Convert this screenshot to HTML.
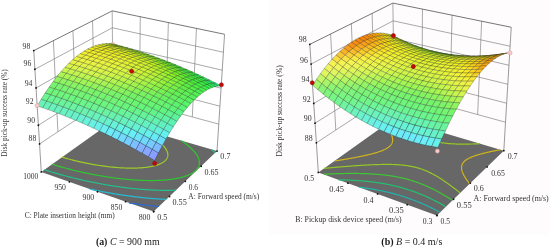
<!DOCTYPE html>
<html><head><meta charset="utf-8"><style>
html,body{margin:0;padding:0;background:#fff;}
body{width:550px;height:249px;overflow:hidden;position:relative;}
svg{position:absolute;left:0;top:0;}
text{font-family:"Liberation Serif",serif;fill:#333;}
</style></head><body>
<svg width="550" height="249" viewBox="0 0 550 249">
<rect x="268.6" y="0" width="281.4" height="234.6" fill="#fefcfd"/>
<g><line x1="39.54" y1="143.93" x2="112.98" y2="95.33" stroke="#707070" stroke-width="0.6"/>
<line x1="112.98" y1="95.33" x2="218.77" y2="124.14" stroke="#707070" stroke-width="0.6"/>
<line x1="38.38" y1="125.26" x2="112.82" y2="78.44" stroke="#707070" stroke-width="0.6"/>
<line x1="112.82" y1="78.44" x2="219.93" y2="106.16" stroke="#707070" stroke-width="0.6"/>
<line x1="37.23" y1="106.60" x2="112.66" y2="61.55" stroke="#707070" stroke-width="0.6"/>
<line x1="112.66" y1="61.55" x2="221.08" y2="88.18" stroke="#707070" stroke-width="0.6"/>
<line x1="36.07" y1="87.94" x2="112.50" y2="44.66" stroke="#707070" stroke-width="0.6"/>
<line x1="112.50" y1="44.66" x2="222.24" y2="70.20" stroke="#707070" stroke-width="0.6"/>
<line x1="34.92" y1="69.27" x2="112.34" y2="27.78" stroke="#707070" stroke-width="0.6"/>
<line x1="112.34" y1="27.78" x2="223.40" y2="52.22" stroke="#707070" stroke-width="0.6"/>
<line x1="57.90" y1="131.78" x2="53.36" y2="40.68" stroke="#707070" stroke-width="0.6"/>
<line x1="192.32" y1="116.94" x2="196.46" y2="28.41" stroke="#707070" stroke-width="0.6"/>
<line x1="76.26" y1="119.63" x2="72.97" y2="30.75" stroke="#707070" stroke-width="0.6"/>
<line x1="165.87" y1="109.74" x2="168.36" y2="22.57" stroke="#707070" stroke-width="0.6"/>
<line x1="94.62" y1="107.48" x2="92.57" y2="20.82" stroke="#707070" stroke-width="0.6"/>
<line x1="139.43" y1="102.53" x2="140.27" y2="16.73" stroke="#707070" stroke-width="0.6"/>
<line x1="33.76" y1="50.61" x2="112.18" y2="10.89" stroke="#4a4a4a" stroke-width="0.75"/>
<line x1="112.18" y1="10.89" x2="224.55" y2="34.25" stroke="#4a4a4a" stroke-width="0.75"/>
<line x1="113.22" y1="120.66" x2="112.18" y2="10.89" stroke="#707070" stroke-width="0.6"/>
<line x1="217.03" y1="151.11" x2="224.55" y2="34.25" stroke="#707070" stroke-width="0.7"/>
<line x1="41.27" y1="171.92" x2="33.76" y2="50.61" stroke="#707070" stroke-width="0.7"/>
<polygon points="153.65,211.61 217.03,151.11 113.22,120.66 41.27,171.92" fill="#676767"/>
<polyline points="159.00,206.50 157.73,206.39 157.10,206.33 156.20,206.25 155.21,206.15 154.58,206.09 153.33,205.96 152.70,205.90 151.55,205.78 150.83,205.71 149.96,205.61 148.97,205.50 148.34,205.44 147.12,205.30 146.50,205.23 145.27,205.08 144.66,205.01 143.44,204.86 142.83,204.79 141.67,204.65 141.00,204.56 139.94,204.43 139.19,204.33 138.19,204.20 137.38,204.09 136.42,203.96 135.58,203.85 134.61,203.72 133.78,203.60 132.78,203.46 132.00,203.35 130.92,203.19 130.22,203.09 129.04,202.92" fill="none" stroke="#2a6ad8" stroke-width="1.2"/>
<polyline points="166.42,199.42 165.77,199.39 164.80,199.34 163.82,199.29 163.17,199.26 162.22,199.21 161.24,199.15 160.59,199.12 159.58,199.05 158.67,198.99 158.04,198.95 156.87,198.87 156.13,198.82 155.49,198.77 154.24,198.68 153.61,198.63 152.67,198.56 151.73,198.48 151.10,198.43 149.86,198.32 149.24,198.26 148.31,198.18 147.38,198.09 146.76,198.04 145.53,197.92 144.92,197.86 143.76,197.74 143.08,197.67 142.20,197.58 141.26,197.47 140.62,197.41 139.44,197.27 138.84,197.21 137.63,197.07 137.03,197.00 135.83,196.85 135.24,196.78 134.05,196.64 133.45,196.56 132.34,196.42 131.67,196.33 130.61,196.19 129.90,196.10 128.84,195.96 128.14,195.86 127.05,195.71 126.39,195.62 125.22,195.45 124.64,195.37 123.48,195.20 122.91,195.11 121.75,194.94 121.18,194.85 120.03,194.68 119.46,194.59 118.32,194.41 117.57,194.29 116.61,194.14 115.57,193.97 114.91,193.86 113.78,193.67 113.22,193.58 112.10,193.39 111.42,193.27 110.42,193.10 109.31,192.90 108.75,192.80 107.64,192.61 107.09,192.51 105.99,192.31 104.89,192.10 104.34,192.00 103.24,191.80 102.54,191.66 101.61,191.48 100.52,191.27 99.98,191.17 98.90,190.96 97.82,190.74 97.28,190.64 96.20,190.42 95.22,190.22 94.60,190.09 93.54,189.87 92.63,189.68 91.94,189.54 90.89,189.31 89.95,189.11" fill="none" stroke="#22bcd4" stroke-width="1.2"/>
<polyline points="176.14,190.14 175.38,190.17 174.43,190.21 173.46,190.25 172.66,190.27 171.97,190.29 171.28,190.31 170.48,190.32 169.47,190.34 168.55,190.36 167.87,190.36 167.20,190.37 166.34,190.37 165.27,190.37 164.52,190.37 163.85,190.36 163.08,190.36 161.97,190.34 161.21,190.33 160.56,190.32 159.70,190.30 158.60,190.27 157.95,190.25 157.30,190.23 156.18,190.20 155.37,190.17 154.73,190.14 153.75,190.10 152.81,190.06 152.18,190.03 151.25,189.98 150.28,189.93 149.65,189.89 148.68,189.84 147.77,189.78 147.15,189.74 146.04,189.67 145.28,189.61 144.66,189.57 143.43,189.48 142.82,189.43 141.93,189.36 140.98,189.28 140.37,189.23 139.15,189.13 138.55,189.07 137.63,188.99 136.74,188.90 136.13,188.85 134.94,188.73 134.34,188.67 133.15,188.54 132.55,188.48 131.57,188.38 130.78,188.29 129.99,188.20 129.01,188.09 128.38,188.01 127.25,187.88 126.67,187.81 125.51,187.67 124.93,187.59 123.77,187.45 123.19,187.37 122.04,187.22 121.47,187.14 120.32,186.99 119.75,186.91 118.62,186.75 118.05,186.67 116.92,186.50 116.23,186.40 115.22,186.25 114.35,186.12 113.54,186.00 112.43,185.82 111.87,185.74 110.76,185.56 110.20,185.47 109.10,185.29 108.44,185.18 107.45,185.01 106.37,184.83 105.81,184.73 104.72,184.54 104.17,184.45 103.09,184.26 102.06,184.07 101.47,183.96 100.39,183.77 99.82,183.66 98.79,183.47 97.72,183.26 97.19,183.16 96.13,182.96 95.10,182.76 94.55,182.65 93.49,182.44 92.62,182.26 91.92,182.12 90.88,181.90 90.04,181.73 89.32,181.58 88.29,181.36 87.36,181.16 86.74,181.03 85.72,180.81 84.70,180.58 84.19,180.47 83.17,180.24 82.16,180.01 81.60,179.89 80.64,179.67 79.64,179.44 78.63,179.20 78.14,179.08 77.14,178.85 76.15,178.61 75.18,178.38 74.66,178.25 73.68,178.01 72.70,177.77 71.72,177.52 71.23,177.40 70.26,177.15 69.29,176.91 68.32,176.66 67.73,176.50 66.88,176.28 65.92,176.03 64.96,175.77 64.01,175.52 63.42,175.36 62.59,175.13 61.65,174.88 60.71,174.62 59.77,174.36 58.84,174.09 58.37,173.96 57.44,173.70 56.52,173.43 55.60,173.17 54.68,172.90 53.76,172.63 52.85,172.36 52.39,172.22 51.49,171.95 50.58,171.68 49.68,171.40 48.78,171.13 47.89,170.85 47.00,170.57 46.11,170.30 45.23,170.02 44.34,169.73" fill="none" stroke="#20c28a" stroke-width="1.2"/>
<polyline points="211.48,149.48 211.98,149.92 212.40,150.29 212.72,150.57 213.03,150.85 213.41,151.20 213.86,151.62 214.26,152.00 214.57,152.30 214.87,152.59 215.17,152.89" fill="none" stroke="#20c28a" stroke-width="1.2"/>
<polyline points="181.45,140.68 181.82,140.92 182.18,141.17 182.81,141.61 183.14,141.84 183.57,142.14 184.13,142.54 184.45,142.78 184.88,143.09 185.43,143.49 185.75,143.74 186.12,144.02 186.71,144.48 187.02,144.73 187.34,144.98 187.84,145.38 188.28,145.74 188.59,146.00 188.90,146.27 189.41,146.70 189.81,147.06 190.11,147.33 190.41,147.60 190.83,147.99 191.28,148.41 191.60,148.71 191.89,149.00 192.17,149.29 192.54,149.65 192.93,150.06 193.30,150.46 193.58,150.77 193.85,151.07 194.12,151.38 194.39,151.69 194.69,152.04 195.00,152.43 195.30,152.82 195.60,153.20 195.87,153.58 196.14,153.95 196.40,154.33 196.64,154.69 196.87,155.05 197.09,155.41 197.31,155.78 197.51,156.15 197.70,156.50 197.88,156.86 198.05,157.21 198.21,157.56 198.36,157.90 198.49,158.24 198.62,158.59 198.77,159.03 198.91,159.48 199.04,159.92 199.11,160.25 199.18,160.57 199.25,160.92 199.32,161.44 199.36,161.85 199.38,162.16 199.40,162.55 199.39,163.09 199.37,163.39 199.34,163.79 199.27,164.29 199.22,164.58 199.09,165.16 199.01,165.45 198.82,166.02 198.72,166.30 198.48,166.85 198.34,167.14 198.05,167.66 197.72,168.19 197.45,168.58 197.17,168.97 196.75,169.48 196.30,169.97 195.81,170.46 195.29,170.94 194.74,171.41 194.14,171.86 193.58,172.27 193.19,172.53 192.51,172.97 191.79,173.39 191.42,173.60 190.65,174.01 190.25,174.21 189.43,174.60 188.97,174.81 188.12,175.17 187.67,175.36 186.73,175.72 186.25,175.90 185.66,176.11 184.75,176.41 184.23,176.58 183.68,176.75 182.74,177.02 182.06,177.21 181.49,177.36 180.91,177.51 180.04,177.72 179.18,177.92 178.49,178.07 177.86,178.21 177.22,178.34 176.57,178.46 175.84,178.60 175.04,178.74 174.24,178.88 173.45,179.00 172.67,179.12 171.90,179.23 171.13,179.34 170.37,179.44 169.61,179.53 168.87,179.62 168.12,179.70 167.38,179.78 166.65,179.85 165.92,179.92 165.20,179.98 164.48,180.04 163.77,180.10 162.96,180.15 162.09,180.21 161.21,180.27 160.31,180.32 159.56,180.35 158.87,180.38 158.18,180.41 157.50,180.44 156.59,180.47 155.62,180.50 154.79,180.52 154.13,180.53 153.46,180.54 152.64,180.55 151.61,180.56 150.82,180.56 150.17,180.56 149.51,180.55 148.44,180.55 147.57,180.53 146.93,180.52 146.24,180.51 145.11,180.49 144.38,180.47 143.74,180.45 142.81,180.42 141.86,180.38 141.23,180.36 140.43,180.32 139.37,180.27 138.75,180.24 137.97,180.20 136.90,180.14 136.29,180.10 135.43,180.05 134.46,179.99 133.86,179.95 132.80,179.87 132.05,179.82 131.45,179.77 130.26,179.67 129.66,179.62 128.67,179.54 127.89,179.47 127.24,179.41 126.12,179.31 125.54,179.25 124.37,179.13 123.79,179.07 122.79,178.97 122.05,178.89 121.25,178.80 120.33,178.70 119.67,178.62 118.62,178.50 118.05,178.43 116.91,178.29 116.35,178.22 115.22,178.07 114.66,178.00 113.54,177.85 112.98,177.77 111.87,177.62 111.23,177.53 110.21,177.39 109.42,177.27 108.56,177.14 107.56,176.99 106.92,176.89 105.84,176.72 105.29,176.64 104.21,176.47 103.67,176.38 102.60,176.20 101.65,176.04 100.99,175.93 99.93,175.75 99.40,175.66 98.34,175.47 97.38,175.30 96.76,175.18 95.71,174.99 95.13,174.88 94.15,174.70 93.11,174.50 92.60,174.40 91.56,174.20 90.54,173.99 90.02,173.89 89.00,173.68 87.98,173.48 87.48,173.37 86.46,173.16 85.45,172.95 84.95,172.84 83.95,172.62 82.95,172.40 82.26,172.25 81.46,172.07 80.47,171.85 79.48,171.62 78.99,171.51 78.01,171.28 77.04,171.05 76.06,170.82 75.58,170.70 74.61,170.47 73.65,170.23 72.69,170.00 72.21,169.88 71.25,169.64 70.30,169.40 69.36,169.15 68.41,168.91 67.94,168.79 67.00,168.54 66.07,168.29 65.14,168.04 64.21,167.79 63.75,167.66 62.83,167.41 61.91,167.15 61.00,166.90 60.09,166.64 59.18,166.38 58.27,166.12 57.82,165.98 56.93,165.72 56.03,165.46 55.14,165.19 54.25,164.92 53.37,164.65 52.49,164.38" fill="none" stroke="#2ec82e" stroke-width="1.2"/>
<polyline points="123.64,123.72 124.08,123.88 124.84,124.16 125.60,124.44 126.36,124.72 127.03,124.98 127.49,125.16 128.24,125.45 128.99,125.74 129.74,126.04 130.11,126.19 130.86,126.49 131.60,126.79 132.23,127.05 132.71,127.25 133.45,127.56 134.19,127.87 134.55,128.03 135.29,128.35 136.02,128.67 136.38,128.83 137.11,129.15 137.84,129.48 138.20,129.64 138.92,129.98 139.65,130.31 140.01,130.48 140.72,130.82 141.20,131.05 141.79,131.34 142.50,131.69 142.86,131.87 143.57,132.22 143.94,132.41 144.62,132.76 145.19,133.06 145.67,133.31 146.37,133.68 146.71,133.87 147.40,134.25 147.75,134.44 148.44,134.82 148.78,135.02 149.46,135.41 149.80,135.60 150.47,136.00 150.81,136.20 151.43,136.58 151.81,136.81 152.31,137.12 152.81,137.43 153.15,137.65 153.79,138.07 154.12,138.28 154.71,138.68 155.09,138.94 155.45,139.18 156.04,139.60 156.36,139.83 156.82,140.16 157.30,140.51 157.61,140.75 158.09,141.11 158.53,141.46 158.84,141.70 159.25,142.03 159.74,142.43 160.03,142.68 160.33,142.93 160.81,143.36 161.20,143.70 161.48,143.96 161.76,144.23 162.19,144.64 162.59,145.04 162.86,145.32 163.13,145.60 163.39,145.88 163.74,146.27 164.09,146.66 164.41,147.05 164.66,147.36 164.90,147.66 165.13,147.98 165.37,148.30 165.59,148.62 165.81,148.95 166.04,149.31 166.26,149.67 166.46,150.03 166.65,150.38 166.82,150.73 166.98,151.08 167.14,151.45 167.29,151.85 167.43,152.26 167.55,152.68 167.65,153.08 167.72,153.40 167.77,153.72 167.81,154.04 167.85,154.53 167.86,154.95 167.85,155.26 167.82,155.62 167.75,156.14 167.70,156.43 167.57,156.91 167.46,157.27 167.30,157.69 167.12,158.09 166.83,158.62 166.67,158.88 166.32,159.39 165.92,159.88 165.53,160.32 165.24,160.61 164.73,161.07 164.18,161.53 163.88,161.75 163.26,162.18 162.59,162.60 161.88,163.01 161.50,163.21 160.72,163.60 160.26,163.81 159.46,164.16 159.02,164.34 158.10,164.68 157.62,164.85 156.89,165.10 156.11,165.34 155.59,165.49 154.97,165.66 154.06,165.90 153.36,166.07 152.77,166.21 152.16,166.34 151.49,166.48 150.67,166.64 149.87,166.78 149.08,166.91 148.30,167.04 147.57,167.14 146.86,167.24 146.14,167.34 145.40,167.43 144.64,167.51 143.87,167.59 143.12,167.66 142.41,167.72 141.71,167.78 141.01,167.83 140.32,167.88 139.64,167.92 138.93,167.96 138.04,168.01 137.14,168.05 136.27,168.08 135.61,168.10 134.96,168.11 134.31,168.13 133.36,168.14 132.37,168.15 131.73,168.15 131.10,168.15 130.32,168.15 129.26,168.13 128.59,168.12 127.97,168.11 127.09,168.09 126.12,168.06 125.51,168.04 124.81,168.01 123.70,167.96 123.10,167.93 122.44,167.90 121.31,167.84 120.72,167.80 119.96,167.75 118.95,167.69 118.37,167.64 117.36,167.57 116.63,167.51 116.01,167.46 114.91,167.36 114.34,167.31 113.22,167.21 112.64,167.15 111.76,167.06 110.95,166.98 110.26,166.90 109.28,166.79 108.72,166.73 107.63,166.60 107.08,166.53 105.98,166.40 105.44,166.33 104.35,166.19 103.81,166.11 102.74,165.96 102.07,165.87 101.14,165.74 100.27,165.61 99.55,165.50 98.49,165.34 97.97,165.25 96.92,165.09 96.40,165.00 95.36,164.83 94.39,164.66 93.82,164.56 92.79,164.38 92.25,164.29 91.26,164.11 90.25,163.92 89.75,163.83 88.74,163.63 87.74,163.44 87.24,163.34 86.25,163.14 85.26,162.94 84.77,162.84 83.79,162.63 82.81,162.43 82.32,162.32 81.35,162.11 80.39,161.90 79.43,161.68 78.95,161.57 77.99,161.35 77.04,161.13 76.10,160.90 75.63,160.79 74.69,160.56 73.75,160.33 72.82,160.10 72.24,159.95 71.44,159.75 70.52,159.51 69.61,159.27 68.70,159.03 67.79,158.78 67.34,158.66 66.44,158.41 65.54,158.17 64.65,157.91 63.77,157.66 62.88,157.41 62.01,157.15" fill="none" stroke="#9ccc28" stroke-width="1.2"/>
<circle cx="153.65" cy="211.61" r="0.9" fill="#111"/>
<circle cx="153.65" cy="211.61" r="0.9" fill="#111"/>
<circle cx="125.55" cy="201.69" r="0.9" fill="#111"/>
<circle cx="169.49" cy="196.48" r="0.9" fill="#111"/>
<circle cx="97.46" cy="191.76" r="0.9" fill="#111"/>
<circle cx="185.34" cy="181.36" r="0.9" fill="#111"/>
<circle cx="69.37" cy="181.84" r="0.9" fill="#111"/>
<circle cx="201.19" cy="166.24" r="0.9" fill="#111"/>
<circle cx="41.27" cy="171.92" r="0.9" fill="#111"/>
<circle cx="217.03" cy="151.11" r="0.9" fill="#111"/>
<circle cx="39.54" cy="143.93" r="0.9" fill="#111"/>
<circle cx="38.38" cy="125.26" r="0.9" fill="#111"/>
<circle cx="37.23" cy="106.60" r="0.9" fill="#111"/>
<circle cx="36.07" cy="87.94" r="0.9" fill="#111"/>
<circle cx="34.92" cy="69.27" r="0.9" fill="#111"/>
<circle cx="33.76" cy="50.61" r="0.9" fill="#111"/>
<circle cx="112.90" cy="44.60" r="2.0" fill="#f6cccc" stroke="#d89a9a" stroke-width="0.5"/>
<polygon points="154.67,160.42 158.51,152.83 152.20,149.19 148.35,156.73" fill="#8a9eff" stroke="#000" stroke-opacity="0.5" stroke-width="0.45"/>
<polygon points="148.35,156.73 152.20,149.19 145.93,145.66 142.07,153.15" fill="#88a7ff" stroke="#000" stroke-opacity="0.5" stroke-width="0.45"/>
<polygon points="158.51,152.83 162.30,145.67 156.01,142.08 152.20,149.19" fill="#7ebaff" stroke="#000" stroke-opacity="0.5" stroke-width="0.45"/>
<polygon points="142.07,153.15 145.93,145.66 139.71,142.23 135.83,149.67" fill="#84b1ff" stroke="#000" stroke-opacity="0.5" stroke-width="0.45"/>
<polygon points="152.20,149.19 156.01,142.08 149.76,138.59 145.93,145.66" fill="#76caff" stroke="#000" stroke-opacity="0.5" stroke-width="0.45"/>
<polygon points="162.30,145.67 166.05,138.93 159.77,135.38 156.01,142.08" fill="#6cdcfc" stroke="#000" stroke-opacity="0.5" stroke-width="0.45"/>
<polygon points="135.83,149.67 139.71,142.23 133.54,138.90 129.65,146.30" fill="#7dbfff" stroke="#000" stroke-opacity="0.5" stroke-width="0.45"/>
<polygon points="145.93,145.66 149.76,138.59 143.55,135.20 139.71,142.23" fill="#70d7fd" stroke="#000" stroke-opacity="0.5" stroke-width="0.45"/>
<polygon points="156.01,142.08 159.77,135.38 153.54,131.94 149.76,138.59" fill="#68e9f8" stroke="#000" stroke-opacity="0.5" stroke-width="0.45"/>
<polygon points="166.05,138.93 169.75,132.61 163.49,129.11 159.77,135.38" fill="#63efec" stroke="#000" stroke-opacity="0.5" stroke-width="0.45"/>
<polygon points="129.65,146.30 133.54,138.90 127.41,135.68 123.50,143.03" fill="#77cdff" stroke="#000" stroke-opacity="0.5" stroke-width="0.45"/>
<polygon points="139.71,142.23 143.55,135.20 137.39,131.92 133.54,138.90" fill="#6de3fa" stroke="#000" stroke-opacity="0.5" stroke-width="0.45"/>
<polygon points="149.76,138.59 153.54,131.94 147.35,128.59 143.55,135.20" fill="#66efef" stroke="#000" stroke-opacity="0.5" stroke-width="0.45"/>
<polygon points="159.77,135.38 163.49,129.11 157.28,125.70 153.54,131.94" fill="#63f0dd" stroke="#000" stroke-opacity="0.5" stroke-width="0.45"/>
<polygon points="123.50,143.03 127.41,135.68 121.32,132.55 117.41,139.86" fill="#72d8fd" stroke="#000" stroke-opacity="0.5" stroke-width="0.45"/>
<polygon points="133.54,138.90 137.39,131.92 131.27,128.74 127.41,135.68" fill="#69eef7" stroke="#000" stroke-opacity="0.5" stroke-width="0.45"/>
<polygon points="169.75,132.61 173.40,126.71 167.17,123.25 163.49,129.11" fill="#5ff0ce" stroke="#000" stroke-opacity="0.5" stroke-width="0.45"/>
<polygon points="143.55,135.20 147.35,128.59 141.21,125.36 137.39,131.92" fill="#66f0e2" stroke="#000" stroke-opacity="0.5" stroke-width="0.45"/>
<polygon points="153.54,131.94 157.28,125.70 151.11,122.41 147.35,128.59" fill="#63f0cf" stroke="#000" stroke-opacity="0.5" stroke-width="0.45"/>
<polygon points="117.41,139.86 121.32,132.55 115.29,129.53 111.36,136.80" fill="#6fe1fa" stroke="#000" stroke-opacity="0.5" stroke-width="0.45"/>
<polygon points="127.41,135.68 131.27,128.74 125.20,125.66 121.32,132.55" fill="#68f0ec" stroke="#000" stroke-opacity="0.5" stroke-width="0.45"/>
<polygon points="163.49,129.11 167.17,123.25 160.97,119.89 157.28,125.70" fill="#60f1bf" stroke="#000" stroke-opacity="0.5" stroke-width="0.45"/>
<polygon points="137.39,131.92 141.21,125.36 135.10,122.22 131.27,128.74" fill="#66f0d5" stroke="#000" stroke-opacity="0.5" stroke-width="0.45"/>
<polygon points="173.40,126.71 177.00,121.23 170.79,117.81 167.17,123.25" fill="#5df1b4" stroke="#000" stroke-opacity="0.5" stroke-width="0.45"/>
<polygon points="147.35,128.59 151.11,122.41 144.98,119.21 141.21,125.36" fill="#63f1c2" stroke="#000" stroke-opacity="0.5" stroke-width="0.45"/>
<polygon points="111.36,136.80 115.29,129.53 109.30,126.61 105.36,133.83" fill="#6cebf8" stroke="#000" stroke-opacity="0.5" stroke-width="0.45"/>
<polygon points="157.28,125.70 160.97,119.89 154.82,116.63 151.11,122.41" fill="#61f2b2" stroke="#000" stroke-opacity="0.5" stroke-width="0.45"/>
<polygon points="121.32,132.55 125.20,125.66 119.18,122.68 115.29,129.53" fill="#68f0e1" stroke="#000" stroke-opacity="0.5" stroke-width="0.45"/>
<polygon points="131.27,128.74 135.10,122.22 129.05,119.18 125.20,125.66" fill="#65f1c9" stroke="#000" stroke-opacity="0.5" stroke-width="0.45"/>
<polygon points="167.17,123.25 170.79,117.81 164.61,114.49 160.97,119.89" fill="#5ff2a6" stroke="#000" stroke-opacity="0.5" stroke-width="0.45"/>
<polygon points="141.21,125.36 144.98,119.21 138.89,116.12 135.10,122.22" fill="#64f2b6" stroke="#000" stroke-opacity="0.5" stroke-width="0.45"/>
<polygon points="105.36,133.83 109.30,126.61 103.35,123.79 99.41,130.97" fill="#6aeff2" stroke="#000" stroke-opacity="0.5" stroke-width="0.45"/>
<polygon points="151.11,122.41 154.82,116.63 148.71,113.48 144.98,119.21" fill="#63f3a6" stroke="#000" stroke-opacity="0.5" stroke-width="0.45"/>
<polygon points="115.29,129.53 119.18,122.68 113.20,119.81 109.30,126.61" fill="#68f1d7" stroke="#000" stroke-opacity="0.5" stroke-width="0.45"/>
<polygon points="177.00,121.23 180.55,116.16 174.36,112.78 170.79,117.81" fill="#5cf29c" stroke="#000" stroke-opacity="0.5" stroke-width="0.45"/>
<polygon points="125.20,125.66 129.05,119.18 123.04,116.25 119.18,122.68" fill="#66f2bf" stroke="#000" stroke-opacity="0.5" stroke-width="0.45"/>
<polygon points="160.97,119.89 164.61,114.49 158.48,111.28 154.82,116.63" fill="#61f398" stroke="#000" stroke-opacity="0.5" stroke-width="0.45"/>
<polygon points="135.10,122.22 138.89,116.12 132.86,113.12 129.05,119.18" fill="#66f3ab" stroke="#000" stroke-opacity="0.5" stroke-width="0.45"/>
<polygon points="99.41,130.97 103.35,123.79 97.46,121.07 93.50,128.21" fill="#6af0e9" stroke="#000" stroke-opacity="0.5" stroke-width="0.45"/>
<polygon points="144.98,119.21 148.71,113.48 142.64,110.43 138.89,116.12" fill="#64f399" stroke="#000" stroke-opacity="0.5" stroke-width="0.45"/>
<polygon points="170.79,117.81 174.36,112.78 168.21,109.50 164.61,114.49" fill="#5ef38e" stroke="#000" stroke-opacity="0.5" stroke-width="0.45"/>
<polygon points="109.30,126.61 113.20,119.81 107.27,117.03 103.35,123.79" fill="#68f1cd" stroke="#000" stroke-opacity="0.5" stroke-width="0.45"/>
<polygon points="119.18,122.68 123.04,116.25 117.07,113.41 113.20,119.81" fill="#67f2b5" stroke="#000" stroke-opacity="0.5" stroke-width="0.45"/>
<polygon points="154.82,116.63 158.48,111.28 152.39,108.16 148.71,113.48" fill="#62f48b" stroke="#000" stroke-opacity="0.5" stroke-width="0.45"/>
<polygon points="129.05,119.18 132.86,113.12 126.86,110.23 123.04,116.25" fill="#67f3a0" stroke="#000" stroke-opacity="0.5" stroke-width="0.45"/>
<polygon points="180.55,116.16 184.04,111.50 177.88,108.16 174.36,112.78" fill="#5af386" stroke="#000" stroke-opacity="0.5" stroke-width="0.45"/>
<polygon points="138.89,116.12 142.64,110.43 136.62,107.47 132.86,113.12" fill="#66f48e" stroke="#000" stroke-opacity="0.5" stroke-width="0.45"/>
<polygon points="164.61,114.49 168.21,109.50 162.10,106.33 158.48,111.28" fill="#60f480" stroke="#000" stroke-opacity="0.5" stroke-width="0.45"/>
<polygon points="93.50,128.21 97.46,121.07 91.61,118.45 87.64,125.54" fill="#6af0e1" stroke="#000" stroke-opacity="0.5" stroke-width="0.45"/>
<polygon points="103.35,123.79 107.27,117.03 101.39,114.35 97.46,121.07" fill="#68f1c4" stroke="#000" stroke-opacity="0.5" stroke-width="0.45"/>
<polygon points="113.20,119.81 117.07,113.41 111.16,110.68 107.27,117.03" fill="#68f3ac" stroke="#000" stroke-opacity="0.5" stroke-width="0.45"/>
<polygon points="148.71,113.48 152.39,108.16 146.35,105.15 142.64,110.43" fill="#64f57f" stroke="#000" stroke-opacity="0.5" stroke-width="0.45"/>
<polygon points="174.36,112.78 177.88,108.16 171.75,104.93 168.21,109.50" fill="#5cf477" stroke="#000" stroke-opacity="0.5" stroke-width="0.45"/>
<polygon points="123.04,116.25 126.86,110.23 120.91,107.43 117.07,113.41" fill="#68f496" stroke="#000" stroke-opacity="0.5" stroke-width="0.45"/>
<polygon points="158.48,111.28 162.10,106.33 156.03,103.25 152.39,108.16" fill="#62f575" stroke="#000" stroke-opacity="0.5" stroke-width="0.45"/>
<polygon points="132.86,113.12 136.62,107.47 130.64,104.62 126.86,110.23" fill="#67f583" stroke="#000" stroke-opacity="0.5" stroke-width="0.45"/>
<polygon points="87.64,125.54 91.61,118.45 85.81,115.93 81.84,122.97" fill="#6af1d9" stroke="#000" stroke-opacity="0.5" stroke-width="0.45"/>
<polygon points="97.46,121.07 101.39,114.35 95.55,111.77 91.61,118.45" fill="#68f2bc" stroke="#000" stroke-opacity="0.5" stroke-width="0.45"/>
<polygon points="184.04,111.50 187.48,107.25 181.34,103.95 177.88,108.16" fill="#58f473" stroke="#000" stroke-opacity="0.5" stroke-width="0.45"/>
<polygon points="107.27,117.03 111.16,110.68 105.28,108.04 101.39,114.35" fill="#69f3a3" stroke="#000" stroke-opacity="0.5" stroke-width="0.45"/>
<polygon points="142.64,110.43 146.35,105.15 140.34,102.23 136.62,107.47" fill="#67f577" stroke="#000" stroke-opacity="0.5" stroke-width="0.45"/>
<polygon points="168.21,109.50 171.75,104.93 165.66,101.79 162.10,106.33" fill="#61f470" stroke="#000" stroke-opacity="0.5" stroke-width="0.45"/>
<polygon points="117.07,113.41 120.91,107.43 115.01,104.74 111.16,110.68" fill="#69f58d" stroke="#000" stroke-opacity="0.5" stroke-width="0.45"/>
<polygon points="152.39,108.16 156.03,103.25 150.01,100.28 146.35,105.15" fill="#67f471" stroke="#000" stroke-opacity="0.5" stroke-width="0.45"/>
<polygon points="126.86,110.23 130.64,104.62 124.71,101.86 120.91,107.43" fill="#69f57b" stroke="#000" stroke-opacity="0.5" stroke-width="0.45"/>
<polygon points="81.84,122.97 85.81,115.93 80.06,113.50 76.08,120.51" fill="#69f1d2" stroke="#000" stroke-opacity="0.5" stroke-width="0.45"/>
<polygon points="177.88,108.16 181.34,103.95 175.24,100.75 171.75,104.93" fill="#5df46b" stroke="#000" stroke-opacity="0.5" stroke-width="0.45"/>
<polygon points="91.61,118.45 95.55,111.77 89.76,109.29 85.81,115.93" fill="#69f2b5" stroke="#000" stroke-opacity="0.5" stroke-width="0.45"/>
<polygon points="136.62,107.47 140.34,102.23 134.39,99.42 130.64,104.62" fill="#6bf474" stroke="#000" stroke-opacity="0.5" stroke-width="0.45"/>
<polygon points="101.39,114.35 105.28,108.04 99.46,105.50 95.55,111.77" fill="#6af49c" stroke="#000" stroke-opacity="0.5" stroke-width="0.45"/>
<polygon points="162.10,106.33 165.66,101.79 159.62,98.75 156.03,103.25" fill="#66f46b" stroke="#000" stroke-opacity="0.5" stroke-width="0.45"/>
<polygon points="111.16,110.68 115.01,104.74 109.15,102.14 105.28,108.04" fill="#6af584" stroke="#000" stroke-opacity="0.5" stroke-width="0.45"/>
<polygon points="146.35,105.15 150.01,100.28 144.02,97.40 140.34,102.23" fill="#6cf46d" stroke="#000" stroke-opacity="0.5" stroke-width="0.45"/>
<polygon points="187.48,107.25 190.86,103.41 184.75,100.14 181.34,103.95" fill="#57f468" stroke="#000" stroke-opacity="0.5" stroke-width="0.45"/>
<polygon points="120.91,107.43 124.71,101.86 118.82,99.21 115.01,104.74" fill="#6cf578" stroke="#000" stroke-opacity="0.5" stroke-width="0.45"/>
<polygon points="171.75,104.93 175.24,100.75 169.18,97.65 165.66,101.79" fill="#62f366" stroke="#000" stroke-opacity="0.5" stroke-width="0.45"/>
<polygon points="76.08,120.51 80.06,113.50 74.36,111.17 70.37,118.13" fill="#69f1cc" stroke="#000" stroke-opacity="0.5" stroke-width="0.45"/>
<polygon points="85.81,115.93 89.76,109.29 84.02,106.91 80.06,113.50" fill="#6af3af" stroke="#000" stroke-opacity="0.5" stroke-width="0.45"/>
<polygon points="130.64,104.62 134.39,99.42 128.47,96.70 124.71,101.86" fill="#6ff470" stroke="#000" stroke-opacity="0.5" stroke-width="0.45"/>
<polygon points="156.03,103.25 159.62,98.75 153.62,95.81 150.01,100.28" fill="#6bf367" stroke="#000" stroke-opacity="0.5" stroke-width="0.45"/>
<polygon points="95.55,111.77 99.46,105.50 93.69,103.06 89.76,109.29" fill="#6af494" stroke="#000" stroke-opacity="0.5" stroke-width="0.45"/>
<polygon points="105.28,108.04 109.15,102.14 103.34,99.64 99.46,105.50" fill="#6bf67e" stroke="#000" stroke-opacity="0.5" stroke-width="0.45"/>
<polygon points="140.34,102.23 144.02,97.40 138.08,94.62 134.39,99.42" fill="#70f369" stroke="#000" stroke-opacity="0.5" stroke-width="0.45"/>
<polygon points="181.34,103.95 184.75,100.14 178.67,96.98 175.24,100.75" fill="#5df363" stroke="#000" stroke-opacity="0.5" stroke-width="0.45"/>
<polygon points="115.01,104.74 118.82,99.21 112.98,96.65 109.15,102.14" fill="#6ff475" stroke="#000" stroke-opacity="0.5" stroke-width="0.45"/>
<polygon points="165.66,101.79 169.18,97.65 163.16,94.65 159.62,98.75" fill="#68f262" stroke="#000" stroke-opacity="0.5" stroke-width="0.45"/>
<polygon points="70.37,118.13 74.36,111.17 68.71,108.94 64.71,115.86" fill="#69f1c6" stroke="#000" stroke-opacity="0.5" stroke-width="0.45"/>
<polygon points="124.71,101.86 128.47,96.70 122.60,94.08 118.82,99.21" fill="#72f36d" stroke="#000" stroke-opacity="0.5" stroke-width="0.45"/>
<polygon points="80.06,113.50 84.02,106.91 78.33,104.62 74.36,111.17" fill="#6af3a9" stroke="#000" stroke-opacity="0.5" stroke-width="0.45"/>
<polygon points="150.01,100.28 153.62,95.81 147.66,92.98 144.02,97.40" fill="#6ff263" stroke="#000" stroke-opacity="0.5" stroke-width="0.45"/>
<polygon points="89.76,109.29 93.69,103.06 87.96,100.72 84.02,106.91" fill="#6bf58e" stroke="#000" stroke-opacity="0.5" stroke-width="0.45"/>
<polygon points="190.86,103.41 194.18,99.96 188.09,96.73 184.75,100.14" fill="#56f360" stroke="#000" stroke-opacity="0.5" stroke-width="0.45"/>
<polygon points="99.46,105.50 103.34,99.64 97.58,97.24 93.69,103.06" fill="#6ef57b" stroke="#000" stroke-opacity="0.5" stroke-width="0.45"/>
<polygon points="175.24,100.75 178.67,96.98 172.64,93.92 169.18,97.65" fill="#63f25e" stroke="#000" stroke-opacity="0.5" stroke-width="0.45"/>
<polygon points="134.39,99.42 138.08,94.62 132.19,91.95 128.47,96.70" fill="#74f266" stroke="#000" stroke-opacity="0.5" stroke-width="0.45"/>
<polygon points="159.62,98.75 163.16,94.65 157.18,91.75 153.62,95.81" fill="#6df25e" stroke="#000" stroke-opacity="0.5" stroke-width="0.45"/>
<polygon points="109.15,102.14 112.98,96.65 107.19,94.19 103.34,99.64" fill="#72f472" stroke="#000" stroke-opacity="0.5" stroke-width="0.45"/>
<polygon points="144.02,97.40 147.66,92.98 141.74,90.23 138.08,94.62" fill="#78f25f" stroke="#000" stroke-opacity="0.5" stroke-width="0.45"/>
<polygon points="118.82,99.21 122.60,94.08 116.78,91.56 112.98,96.65" fill="#76f36a" stroke="#000" stroke-opacity="0.5" stroke-width="0.45"/>
<polygon points="64.71,115.86 68.71,108.94 63.11,106.80 59.11,113.68" fill="#69f2c2" stroke="#000" stroke-opacity="0.5" stroke-width="0.45"/>
<polygon points="74.36,111.17 78.33,104.62 72.69,102.42 68.71,108.94" fill="#6bf4a4" stroke="#000" stroke-opacity="0.5" stroke-width="0.45"/>
<polygon points="184.75,100.14 188.09,96.73 182.05,93.61 178.67,96.98" fill="#5df25b" stroke="#000" stroke-opacity="0.5" stroke-width="0.45"/>
<polygon points="84.02,106.91 87.96,100.72 82.28,98.47 78.33,104.62" fill="#6cf588" stroke="#000" stroke-opacity="0.5" stroke-width="0.45"/>
<polygon points="169.18,97.65 172.64,93.92 166.64,90.95 163.16,94.65" fill="#69f159" stroke="#000" stroke-opacity="0.5" stroke-width="0.45"/>
<polygon points="93.69,103.06 97.58,97.24 91.86,94.93 87.96,100.72" fill="#70f579" stroke="#000" stroke-opacity="0.5" stroke-width="0.45"/>
<polygon points="128.47,96.70 132.19,91.95 126.34,89.36 122.60,94.08" fill="#7df362" stroke="#000" stroke-opacity="0.5" stroke-width="0.45"/>
<polygon points="153.62,95.81 157.18,91.75 151.24,88.95 147.66,92.98" fill="#7af258" stroke="#000" stroke-opacity="0.5" stroke-width="0.45"/>
<polygon points="103.34,99.64 107.19,94.19 101.44,91.82 97.58,97.24" fill="#75f470" stroke="#000" stroke-opacity="0.5" stroke-width="0.45"/>
<polygon points="138.08,94.62 141.74,90.23 135.86,87.59 132.19,91.95" fill="#84f359" stroke="#000" stroke-opacity="0.5" stroke-width="0.45"/>
<polygon points="194.18,99.96 197.44,96.90 191.38,93.71 188.09,96.73" fill="#54f259" stroke="#000" stroke-opacity="0.5" stroke-width="0.45"/>
<polygon points="112.98,96.65 116.78,91.56 111.00,89.14 107.19,94.19" fill="#7af367" stroke="#000" stroke-opacity="0.5" stroke-width="0.45"/>
<polygon points="178.67,96.98 182.05,93.61 176.04,90.58 172.64,93.92" fill="#62f156" stroke="#000" stroke-opacity="0.5" stroke-width="0.45"/>
<polygon points="59.11,113.68 63.11,106.80 57.56,104.75 53.55,111.59" fill="#69f2be" stroke="#000" stroke-opacity="0.5" stroke-width="0.45"/>
<polygon points="68.71,108.94 72.69,102.42 67.10,100.33 63.11,106.80" fill="#6bf49f" stroke="#000" stroke-opacity="0.5" stroke-width="0.45"/>
<polygon points="163.16,94.65 166.64,90.95 160.69,88.09 157.18,91.75" fill="#77f253" stroke="#000" stroke-opacity="0.5" stroke-width="0.45"/>
<polygon points="78.33,104.62 82.28,98.47 76.65,96.31 72.69,102.42" fill="#6cf682" stroke="#000" stroke-opacity="0.5" stroke-width="0.45"/>
<polygon points="122.60,94.08 126.34,89.36 120.53,86.88 116.78,91.56" fill="#87f35d" stroke="#000" stroke-opacity="0.5" stroke-width="0.45"/>
<polygon points="87.96,100.72 91.86,94.93 86.19,92.72 82.28,98.47" fill="#72f577" stroke="#000" stroke-opacity="0.5" stroke-width="0.45"/>
<polygon points="147.66,92.98 151.24,88.95 145.35,86.24 141.74,90.23" fill="#87f352" stroke="#000" stroke-opacity="0.5" stroke-width="0.45"/>
<polygon points="97.58,97.24 101.44,91.82 95.74,89.55 91.86,94.93" fill="#77f36e" stroke="#000" stroke-opacity="0.5" stroke-width="0.45"/>
<polygon points="188.09,96.73 191.38,93.71 185.37,90.62 182.05,93.61" fill="#5af153" stroke="#000" stroke-opacity="0.5" stroke-width="0.45"/>
<polygon points="132.19,91.95 135.86,87.59 130.03,85.04 126.34,89.36" fill="#90f455" stroke="#000" stroke-opacity="0.5" stroke-width="0.45"/>
<polygon points="172.64,93.92 176.04,90.58 170.07,87.65 166.64,90.95" fill="#6ef150" stroke="#000" stroke-opacity="0.5" stroke-width="0.45"/>
<polygon points="107.19,94.19 111.00,89.14 105.27,86.81 101.44,91.82" fill="#83f363" stroke="#000" stroke-opacity="0.5" stroke-width="0.45"/>
<polygon points="157.18,91.75 160.69,88.09 154.78,85.32 151.24,88.95" fill="#86f34d" stroke="#000" stroke-opacity="0.5" stroke-width="0.45"/>
<polygon points="53.55,111.59 57.56,104.75 52.06,102.80 48.04,109.60" fill="#69f2bb" stroke="#000" stroke-opacity="0.5" stroke-width="0.45"/>
<polygon points="63.11,106.80 67.10,100.33 61.56,98.32 57.56,104.75" fill="#6bf49b" stroke="#000" stroke-opacity="0.5" stroke-width="0.45"/>
<polygon points="72.69,102.42 76.65,96.31 71.06,94.25 67.10,100.33" fill="#6df67f" stroke="#000" stroke-opacity="0.5" stroke-width="0.45"/>
<polygon points="116.78,91.56 120.53,86.88 114.77,84.49 111.00,89.14" fill="#91f459" stroke="#000" stroke-opacity="0.5" stroke-width="0.45"/>
<polygon points="141.74,90.23 145.35,86.24 139.49,83.63 135.86,87.59" fill="#94f44d" stroke="#000" stroke-opacity="0.5" stroke-width="0.45"/>
<polygon points="82.28,98.47 86.19,92.72 80.57,90.60 76.65,96.31" fill="#74f475" stroke="#000" stroke-opacity="0.5" stroke-width="0.45"/>
<polygon points="91.86,94.93 95.74,89.55 90.08,87.38 86.19,92.72" fill="#7af36b" stroke="#000" stroke-opacity="0.5" stroke-width="0.45"/>
<polygon points="182.05,93.61 185.37,90.62 179.39,87.63 176.04,90.58" fill="#60f04e" stroke="#000" stroke-opacity="0.5" stroke-width="0.45"/>
<polygon points="197.44,96.90 200.64,94.23 194.61,91.07 191.38,93.71" fill="#50f253" stroke="#000" stroke-opacity="0.5" stroke-width="0.45"/>
<polygon points="166.64,90.95 170.07,87.65 164.15,84.81 160.69,88.09" fill="#7ff249" stroke="#000" stroke-opacity="0.5" stroke-width="0.45"/>
<polygon points="126.34,89.36 130.03,85.04 124.25,82.59 120.53,86.88" fill="#9bf550" stroke="#000" stroke-opacity="0.5" stroke-width="0.45"/>
<polygon points="101.44,91.82 105.27,86.81 99.58,84.57 95.74,89.55" fill="#8bf460" stroke="#000" stroke-opacity="0.5" stroke-width="0.45"/>
<polygon points="151.24,88.95 154.78,85.32 148.90,82.65 145.35,86.24" fill="#94f447" stroke="#000" stroke-opacity="0.5" stroke-width="0.45"/>
<polygon points="48.04,109.60 52.06,102.80 46.61,100.94 42.59,107.70" fill="#69f2b8" stroke="#000" stroke-opacity="0.5" stroke-width="0.45"/>
<polygon points="57.56,104.75 61.56,98.32 56.06,96.41 52.06,102.80" fill="#6bf498" stroke="#000" stroke-opacity="0.5" stroke-width="0.45"/>
<polygon points="67.10,100.33 71.06,94.25 65.53,92.29 61.56,98.32" fill="#6ef57d" stroke="#000" stroke-opacity="0.5" stroke-width="0.45"/>
<polygon points="111.00,89.14 114.77,84.49 109.06,82.19 105.27,86.81" fill="#9af555" stroke="#000" stroke-opacity="0.5" stroke-width="0.45"/>
<polygon points="135.86,87.59 139.49,83.63 133.68,81.12 130.03,85.04" fill="#a1f44b" stroke="#000" stroke-opacity="0.5" stroke-width="0.45"/>
<polygon points="76.65,96.31 80.57,90.60 75.00,88.58 71.06,94.25" fill="#75f473" stroke="#000" stroke-opacity="0.5" stroke-width="0.45"/>
<polygon points="191.38,93.71 194.61,91.07 188.63,88.02 185.37,90.62" fill="#56f14d" stroke="#000" stroke-opacity="0.5" stroke-width="0.45"/>
<polygon points="176.04,90.58 179.39,87.63 173.45,84.73 170.07,87.65" fill="#72f247" stroke="#000" stroke-opacity="0.5" stroke-width="0.45"/>
<polygon points="86.19,92.72 90.08,87.38 84.48,85.30 80.57,90.60" fill="#7ef369" stroke="#000" stroke-opacity="0.5" stroke-width="0.45"/>
<polygon points="160.69,88.09 164.15,84.81 158.26,82.08 154.78,85.32" fill="#8ef343" stroke="#000" stroke-opacity="0.5" stroke-width="0.45"/>
<polygon points="120.53,86.88 124.25,82.59 118.50,80.24 114.77,84.49" fill="#a6f54f" stroke="#000" stroke-opacity="0.5" stroke-width="0.45"/>
<polygon points="145.35,86.24 148.90,82.65 143.07,80.07 139.49,83.63" fill="#a3f446" stroke="#000" stroke-opacity="0.5" stroke-width="0.45"/>
<polygon points="95.74,89.55 99.58,84.57 93.94,82.43 90.08,87.38" fill="#92f45d" stroke="#000" stroke-opacity="0.5" stroke-width="0.45"/>
<polygon points="52.06,102.80 56.06,96.41 50.62,94.59 46.61,100.94" fill="#6bf595" stroke="#000" stroke-opacity="0.5" stroke-width="0.45"/>
<polygon points="42.59,107.70 46.61,100.94 41.21,99.18 37.18,105.89" fill="#69f2b6" stroke="#000" stroke-opacity="0.5" stroke-width="0.45"/>
<polygon points="130.03,85.04 133.68,81.12 127.92,78.70 124.25,82.59" fill="#aef44a" stroke="#000" stroke-opacity="0.5" stroke-width="0.45"/>
<polygon points="105.27,86.81 109.06,82.19 103.39,79.99 99.58,84.57" fill="#a3f553" stroke="#000" stroke-opacity="0.5" stroke-width="0.45"/>
<polygon points="61.56,98.32 65.53,92.29 60.05,90.41 56.06,96.41" fill="#6ff57c" stroke="#000" stroke-opacity="0.5" stroke-width="0.45"/>
<polygon points="185.37,90.62 188.63,88.02 182.68,85.06 179.39,87.63" fill="#5ff047" stroke="#000" stroke-opacity="0.5" stroke-width="0.45"/>
<polygon points="170.07,87.65 173.45,84.73 167.55,81.93 164.15,84.81" fill="#83f340" stroke="#000" stroke-opacity="0.5" stroke-width="0.45"/>
<polygon points="200.64,94.23 203.77,91.94 197.78,88.82 194.61,91.07" fill="#4af14d" stroke="#000" stroke-opacity="0.5" stroke-width="0.45"/>
<polygon points="71.06,94.25 75.00,88.58 69.48,86.65 65.53,92.29" fill="#77f472" stroke="#000" stroke-opacity="0.5" stroke-width="0.45"/>
<polygon points="154.78,85.32 158.26,82.08 152.41,79.44 148.90,82.65" fill="#9ef440" stroke="#000" stroke-opacity="0.5" stroke-width="0.45"/>
<polygon points="80.57,90.60 84.48,85.30 78.92,83.31 75.00,88.58" fill="#84f366" stroke="#000" stroke-opacity="0.5" stroke-width="0.45"/>
<polygon points="114.77,84.49 118.50,80.24 112.81,77.98 109.06,82.19" fill="#b1f54f" stroke="#000" stroke-opacity="0.5" stroke-width="0.45"/>
<polygon points="139.49,83.63 143.07,80.07 137.29,77.59 133.68,81.12" fill="#b1f445" stroke="#000" stroke-opacity="0.5" stroke-width="0.45"/>
<polygon points="90.08,87.38 93.94,82.43 88.35,80.39 84.48,85.30" fill="#99f55a" stroke="#000" stroke-opacity="0.5" stroke-width="0.45"/>
<polygon points="124.25,82.59 127.92,78.70 122.20,76.38 118.50,80.24" fill="#baf44a" stroke="#000" stroke-opacity="0.5" stroke-width="0.45"/>
<polygon points="179.39,87.63 182.68,85.06 176.77,82.19 173.45,84.73" fill="#71f140" stroke="#000" stroke-opacity="0.5" stroke-width="0.45"/>
<polygon points="194.61,91.07 197.78,88.82 191.83,85.79 188.63,88.02" fill="#51f048" stroke="#000" stroke-opacity="0.5" stroke-width="0.45"/>
<polygon points="99.58,84.57 103.39,79.99 97.76,77.89 93.94,82.43" fill="#abf553" stroke="#000" stroke-opacity="0.5" stroke-width="0.45"/>
<polygon points="164.15,84.81 167.55,81.93 161.69,79.22 158.26,82.08" fill="#93f33b" stroke="#000" stroke-opacity="0.5" stroke-width="0.45"/>
<polygon points="46.61,100.94 50.62,94.59 45.23,92.86 41.21,99.18" fill="#6bf593" stroke="#000" stroke-opacity="0.5" stroke-width="0.45"/>
<polygon points="56.06,96.41 60.05,90.41 54.61,88.63 50.62,94.59" fill="#70f57b" stroke="#000" stroke-opacity="0.5" stroke-width="0.45"/>
<polygon points="65.53,92.29 69.48,86.65 64.01,84.81 60.05,90.41" fill="#78f470" stroke="#000" stroke-opacity="0.5" stroke-width="0.45"/>
<polygon points="148.90,82.65 152.41,79.44 146.61,76.89 143.07,80.07" fill="#aef440" stroke="#000" stroke-opacity="0.5" stroke-width="0.45"/>
<polygon points="75.00,88.58 78.92,83.31 73.41,81.41 69.48,86.65" fill="#88f464" stroke="#000" stroke-opacity="0.5" stroke-width="0.45"/>
<polygon points="109.06,82.19 112.81,77.98 107.15,75.81 103.39,79.99" fill="#baf54e" stroke="#000" stroke-opacity="0.5" stroke-width="0.45"/>
<polygon points="133.68,81.12 137.29,77.59 131.54,75.20 127.92,78.70" fill="#bef445" stroke="#000" stroke-opacity="0.5" stroke-width="0.45"/>
<polygon points="84.48,85.30 88.35,80.39 82.80,78.43 78.92,83.31" fill="#9ef557" stroke="#000" stroke-opacity="0.5" stroke-width="0.45"/>
<polygon points="173.45,84.73 176.77,82.19 170.90,79.42 167.55,81.93" fill="#83f239" stroke="#000" stroke-opacity="0.5" stroke-width="0.45"/>
<polygon points="188.63,88.02 191.83,85.79 185.91,82.87 182.68,85.06" fill="#59f042" stroke="#000" stroke-opacity="0.5" stroke-width="0.45"/>
<polygon points="118.50,80.24 122.20,76.38 116.52,74.15 112.81,77.98" fill="#c5f449" stroke="#000" stroke-opacity="0.5" stroke-width="0.45"/>
<polygon points="158.26,82.08 161.69,79.22 155.87,76.62 152.41,79.44" fill="#a4f33a" stroke="#000" stroke-opacity="0.5" stroke-width="0.45"/>
<polygon points="203.77,91.94 206.84,90.02 200.89,86.94 197.78,88.82" fill="#43f149" stroke="#000" stroke-opacity="0.5" stroke-width="0.45"/>
<polygon points="93.94,82.43 97.76,77.89 92.18,75.87 88.35,80.39" fill="#b3f552" stroke="#000" stroke-opacity="0.5" stroke-width="0.45"/>
<polygon points="143.07,80.07 146.61,76.89 140.84,74.44 137.29,77.59" fill="#bcf43f" stroke="#000" stroke-opacity="0.5" stroke-width="0.45"/>
<polygon points="50.62,94.59 54.61,88.63 49.23,86.93 45.23,92.86" fill="#70f57a" stroke="#000" stroke-opacity="0.5" stroke-width="0.45"/>
<polygon points="60.05,90.41 64.01,84.81 58.58,83.06 54.61,88.63" fill="#78f36f" stroke="#000" stroke-opacity="0.5" stroke-width="0.45"/>
<polygon points="103.39,79.99 107.15,75.81 101.55,73.73 97.76,77.89" fill="#c3f54e" stroke="#000" stroke-opacity="0.5" stroke-width="0.45"/>
<polygon points="69.48,86.65 73.41,81.41 67.94,79.61 64.01,84.81" fill="#8cf462" stroke="#000" stroke-opacity="0.5" stroke-width="0.45"/>
<polygon points="127.92,78.70 131.54,75.20 125.84,72.91 122.20,76.38" fill="#caf444" stroke="#000" stroke-opacity="0.5" stroke-width="0.45"/>
<polygon points="78.92,83.31 82.80,78.43 77.30,76.57 73.41,81.41" fill="#a3f556" stroke="#000" stroke-opacity="0.5" stroke-width="0.45"/>
<polygon points="182.68,85.06 185.91,82.87 180.03,80.03 176.77,82.19" fill="#6cf13a" stroke="#000" stroke-opacity="0.5" stroke-width="0.45"/>
<polygon points="167.55,81.93 170.90,79.42 165.06,76.75 161.69,79.22" fill="#94f334" stroke="#000" stroke-opacity="0.5" stroke-width="0.45"/>
<polygon points="197.78,88.82 200.89,86.94 194.97,83.94 191.83,85.79" fill="#4af043" stroke="#000" stroke-opacity="0.5" stroke-width="0.45"/>
<polygon points="152.41,79.44 155.87,76.62 150.09,74.10 146.61,76.89" fill="#b4f33a" stroke="#000" stroke-opacity="0.5" stroke-width="0.45"/>
<polygon points="112.81,77.98 116.52,74.15 110.88,72.01 107.15,75.81" fill="#cef449" stroke="#000" stroke-opacity="0.5" stroke-width="0.45"/>
<polygon points="88.35,80.39 92.18,75.87 86.65,73.95 82.80,78.43" fill="#b9f552" stroke="#000" stroke-opacity="0.5" stroke-width="0.45"/>
<polygon points="137.29,77.59 140.84,74.44 135.12,72.09 131.54,75.20" fill="#caf43f" stroke="#000" stroke-opacity="0.5" stroke-width="0.45"/>
<polygon points="54.61,88.63 58.58,83.06 53.21,81.41 49.23,86.93" fill="#79f36e" stroke="#000" stroke-opacity="0.5" stroke-width="0.45"/>
<polygon points="97.76,77.89 101.55,73.73 95.99,71.75 92.18,75.87" fill="#cbf54d" stroke="#000" stroke-opacity="0.5" stroke-width="0.45"/>
<polygon points="122.20,76.38 125.84,72.91 120.19,70.71 116.52,74.15" fill="#d1f444" stroke="#000" stroke-opacity="0.5" stroke-width="0.45"/>
<polygon points="64.01,84.81 67.94,79.61 62.53,77.90 58.58,83.06" fill="#8ff461" stroke="#000" stroke-opacity="0.5" stroke-width="0.45"/>
<polygon points="176.77,82.19 180.03,80.03 174.19,77.30 170.90,79.42" fill="#7ef233" stroke="#000" stroke-opacity="0.5" stroke-width="0.45"/>
<polygon points="161.69,79.22 165.06,76.75 159.27,74.17 155.87,76.62" fill="#a6f334" stroke="#000" stroke-opacity="0.5" stroke-width="0.45"/>
<polygon points="191.83,85.79 194.97,83.94 189.08,81.05 185.91,82.87" fill="#50ef3e" stroke="#000" stroke-opacity="0.5" stroke-width="0.45"/>
<polygon points="73.41,81.41 77.30,76.57 71.85,74.80 67.94,79.61" fill="#a7f556" stroke="#000" stroke-opacity="0.5" stroke-width="0.45"/>
<polygon points="146.61,76.89 150.09,74.10 144.35,71.68 140.84,74.44" fill="#c3f339" stroke="#000" stroke-opacity="0.5" stroke-width="0.45"/>
<polygon points="206.84,90.02 209.85,88.48 203.93,85.42 200.89,86.94" fill="#3af146" stroke="#000" stroke-opacity="0.5" stroke-width="0.45"/>
<polygon points="107.15,75.81 110.88,72.01 105.30,69.97 101.55,73.73" fill="#d3f449" stroke="#000" stroke-opacity="0.5" stroke-width="0.45"/>
<polygon points="131.54,75.20 135.12,72.09 129.45,69.83 125.84,72.91" fill="#d1f43f" stroke="#000" stroke-opacity="0.5" stroke-width="0.45"/>
<polygon points="82.80,78.43 86.65,73.95 81.17,72.12 77.30,76.57" fill="#bef551" stroke="#000" stroke-opacity="0.5" stroke-width="0.45"/>
<polygon points="116.52,74.15 120.19,70.71 114.57,68.61 110.88,72.01" fill="#d7f444" stroke="#000" stroke-opacity="0.5" stroke-width="0.45"/>
<polygon points="92.18,75.87 95.99,71.75 90.47,69.86 86.65,73.95" fill="#d0f54d" stroke="#000" stroke-opacity="0.5" stroke-width="0.45"/>
<polygon points="170.90,79.42 174.19,77.30 168.38,74.65 165.06,76.75" fill="#90f32e" stroke="#000" stroke-opacity="0.5" stroke-width="0.45"/>
<polygon points="185.91,82.87 189.08,81.05 183.23,78.24 180.03,80.03" fill="#62f036" stroke="#000" stroke-opacity="0.5" stroke-width="0.45"/>
<polygon points="155.87,76.62 159.27,74.17 153.52,71.69 150.09,74.10" fill="#b6f334" stroke="#000" stroke-opacity="0.5" stroke-width="0.45"/>
<polygon points="58.58,83.06 62.53,77.90 57.16,76.27 53.21,81.41" fill="#91f45f" stroke="#000" stroke-opacity="0.5" stroke-width="0.45"/>
<polygon points="200.89,86.94 203.93,85.42 198.04,82.46 194.97,83.94" fill="#41f040" stroke="#000" stroke-opacity="0.5" stroke-width="0.45"/>
<polygon points="140.84,74.44 144.35,71.68 138.66,69.36 135.12,72.09" fill="#cef339" stroke="#000" stroke-opacity="0.5" stroke-width="0.45"/>
<polygon points="67.94,79.61 71.85,74.80 66.45,73.12 62.53,77.90" fill="#abf555" stroke="#000" stroke-opacity="0.5" stroke-width="0.45"/>
<polygon points="101.55,73.73 105.30,69.97 99.75,68.02 95.99,71.75" fill="#d8f448" stroke="#000" stroke-opacity="0.5" stroke-width="0.45"/>
<polygon points="125.84,72.91 129.45,69.83 123.81,67.66 120.19,70.71" fill="#d8f43e" stroke="#000" stroke-opacity="0.5" stroke-width="0.45"/>
<polygon points="77.30,76.57 81.17,72.12 75.73,70.38 71.85,74.80" fill="#c3f551" stroke="#000" stroke-opacity="0.5" stroke-width="0.45"/>
<polygon points="165.06,76.75 168.38,74.65 162.62,72.10 159.27,74.17" fill="#a2f32e" stroke="#000" stroke-opacity="0.5" stroke-width="0.45"/>
<polygon points="110.88,72.01 114.57,68.61 109.01,66.59 105.30,69.97" fill="#ddf443" stroke="#000" stroke-opacity="0.5" stroke-width="0.45"/>
<polygon points="180.03,80.03 183.23,78.24 177.42,75.54 174.19,77.30" fill="#75f12f" stroke="#000" stroke-opacity="0.5" stroke-width="0.45"/>
<polygon points="86.65,73.95 90.47,69.86 85.01,68.06 81.17,72.12" fill="#d3f54d" stroke="#000" stroke-opacity="0.5" stroke-width="0.45"/>
<polygon points="150.09,74.10 153.52,71.69 147.81,69.30 144.35,71.68" fill="#c6f333" stroke="#000" stroke-opacity="0.5" stroke-width="0.45"/>
<polygon points="194.97,83.94 198.04,82.46 192.19,79.59 189.08,81.05" fill="#48ef3b" stroke="#000" stroke-opacity="0.5" stroke-width="0.45"/>
<polygon points="135.12,72.09 138.66,69.36 133.00,67.12 129.45,69.83" fill="#d5f339" stroke="#000" stroke-opacity="0.5" stroke-width="0.45"/>
<polygon points="209.85,88.48 212.80,87.29 206.91,84.26 203.93,85.42" fill="#30f146" stroke="#000" stroke-opacity="0.5" stroke-width="0.45"/>
<polygon points="62.53,77.90 66.45,73.12 61.10,71.53 57.16,76.27" fill="#adf555" stroke="#000" stroke-opacity="0.5" stroke-width="0.45"/>
<polygon points="95.99,71.75 99.75,68.02 94.26,66.16 90.47,69.86" fill="#dcf448" stroke="#000" stroke-opacity="0.5" stroke-width="0.45"/>
<polygon points="120.19,70.71 123.81,67.66 118.22,65.58 114.57,68.61" fill="#def43e" stroke="#000" stroke-opacity="0.5" stroke-width="0.45"/>
<polygon points="71.85,74.80 75.73,70.38 70.35,68.73 66.45,73.12" fill="#c7f551" stroke="#000" stroke-opacity="0.5" stroke-width="0.45"/>
<polygon points="174.19,77.30 177.42,75.54 171.65,72.92 168.38,74.65" fill="#86f228" stroke="#000" stroke-opacity="0.5" stroke-width="0.45"/>
<polygon points="159.27,74.17 162.62,72.10 156.90,69.65 153.52,71.69" fill="#b3f32d" stroke="#000" stroke-opacity="0.5" stroke-width="0.45"/>
<polygon points="189.08,81.05 192.19,79.59 186.37,76.82 183.23,78.24" fill="#53ef34" stroke="#000" stroke-opacity="0.5" stroke-width="0.45"/>
<polygon points="105.30,69.97 109.01,66.59 103.48,64.67 99.75,68.02" fill="#e2f443" stroke="#000" stroke-opacity="0.5" stroke-width="0.45"/>
<polygon points="144.35,71.68 147.81,69.30 142.14,67.00 138.66,69.36" fill="#cff333" stroke="#000" stroke-opacity="0.5" stroke-width="0.45"/>
<polygon points="81.17,72.12 85.01,68.06 79.58,66.35 75.73,70.38" fill="#d6f44c" stroke="#000" stroke-opacity="0.5" stroke-width="0.45"/>
<polygon points="203.93,85.42 206.91,84.26 201.06,81.33 198.04,82.46" fill="#38f040" stroke="#000" stroke-opacity="0.5" stroke-width="0.45"/>
<polygon points="129.45,69.83 133.00,67.12 127.39,64.98 123.81,67.66" fill="#dcf338" stroke="#000" stroke-opacity="0.5" stroke-width="0.45"/>
<polygon points="90.47,69.86 94.26,66.16 88.81,64.39 85.01,68.06" fill="#dff447" stroke="#000" stroke-opacity="0.5" stroke-width="0.45"/>
<polygon points="114.57,68.61 118.22,65.58 112.67,63.59 109.01,66.59" fill="#e4f43d" stroke="#000" stroke-opacity="0.5" stroke-width="0.45"/>
<polygon points="168.38,74.65 171.65,72.92 165.91,70.40 162.62,72.10" fill="#99f227" stroke="#000" stroke-opacity="0.5" stroke-width="0.45"/>
<polygon points="66.45,73.12 70.35,68.73 65.01,67.17 61.10,71.53" fill="#c9f550" stroke="#000" stroke-opacity="0.5" stroke-width="0.45"/>
<polygon points="153.52,71.69 156.90,69.65 151.21,67.28 147.81,69.30" fill="#c3f32d" stroke="#000" stroke-opacity="0.5" stroke-width="0.45"/>
<polygon points="183.23,78.24 186.37,76.82 180.60,74.14 177.42,75.54" fill="#66f02c" stroke="#000" stroke-opacity="0.5" stroke-width="0.45"/>
<polygon points="138.66,69.36 142.14,67.00 136.51,64.79 133.00,67.12" fill="#d7f332" stroke="#000" stroke-opacity="0.5" stroke-width="0.45"/>
<polygon points="99.75,68.02 103.48,64.67 98.00,62.84 94.26,66.16" fill="#e6f442" stroke="#000" stroke-opacity="0.5" stroke-width="0.45"/>
<polygon points="198.04,82.46 201.06,81.33 195.24,78.49 192.19,79.59" fill="#3fef3b" stroke="#000" stroke-opacity="0.5" stroke-width="0.45"/>
<polygon points="75.73,70.38 79.58,66.35 74.21,64.73 70.35,68.73" fill="#d8f44c" stroke="#000" stroke-opacity="0.5" stroke-width="0.45"/>
<polygon points="123.81,67.66 127.39,64.98 121.82,62.93 118.22,65.58" fill="#e3f338" stroke="#000" stroke-opacity="0.5" stroke-width="0.45"/>
<polygon points="212.80,87.29 215.68,86.45 209.82,83.46 206.91,84.26" fill="#2bf151" stroke="#000" stroke-opacity="0.5" stroke-width="0.45"/>
<polygon points="85.01,68.06 88.81,64.39 83.40,62.71 79.58,66.35" fill="#e2f447" stroke="#000" stroke-opacity="0.5" stroke-width="0.45"/>
<polygon points="109.01,66.59 112.67,63.59 107.17,61.70 103.48,64.67" fill="#e9f43d" stroke="#000" stroke-opacity="0.5" stroke-width="0.45"/>
<polygon points="162.62,72.10 165.91,70.40 160.22,67.97 156.90,69.65" fill="#aaf227" stroke="#000" stroke-opacity="0.5" stroke-width="0.45"/>
<polygon points="177.42,75.54 180.60,74.14 174.85,71.55 171.65,72.92" fill="#78f125" stroke="#000" stroke-opacity="0.5" stroke-width="0.45"/>
<polygon points="147.81,69.30 151.21,67.28 145.57,65.01 142.14,67.00" fill="#ccf32c" stroke="#000" stroke-opacity="0.5" stroke-width="0.45"/>
<polygon points="192.19,79.59 195.24,78.49 189.46,75.75 186.37,76.82" fill="#46ef36" stroke="#000" stroke-opacity="0.5" stroke-width="0.45"/>
<polygon points="133.00,67.12 136.51,64.79 130.92,62.68 127.39,64.98" fill="#def332" stroke="#000" stroke-opacity="0.5" stroke-width="0.45"/>
<polygon points="94.26,66.16 98.00,62.84 92.57,61.09 88.81,64.39" fill="#eaf442" stroke="#000" stroke-opacity="0.5" stroke-width="0.45"/>
<polygon points="206.91,84.26 209.82,83.46 204.01,80.55 201.06,81.33" fill="#31f146" stroke="#000" stroke-opacity="0.5" stroke-width="0.45"/>
<polygon points="118.22,65.58 121.82,62.93 116.30,60.97 112.67,63.59" fill="#e9f337" stroke="#000" stroke-opacity="0.5" stroke-width="0.45"/>
<polygon points="70.35,68.73 74.21,64.73 68.88,63.20 65.01,67.17" fill="#daf44b" stroke="#000" stroke-opacity="0.5" stroke-width="0.45"/>
<polygon points="103.48,64.67 107.17,61.70 101.71,59.89 98.00,62.84" fill="#ecf33b" stroke="#000" stroke-opacity="0.5" stroke-width="0.45"/>
<polygon points="79.58,66.35 83.40,62.71 78.04,61.11 74.21,64.73" fill="#e5f446" stroke="#000" stroke-opacity="0.5" stroke-width="0.45"/>
<polygon points="156.90,69.65 160.22,67.97 154.56,65.63 151.21,67.28" fill="#baf226" stroke="#000" stroke-opacity="0.5" stroke-width="0.45"/>
<polygon points="171.65,72.92 174.85,71.55 169.15,69.06 165.91,70.40" fill="#8af221" stroke="#000" stroke-opacity="0.5" stroke-width="0.45"/>
<polygon points="142.14,67.00 145.57,65.01 139.97,62.83 136.51,64.79" fill="#d5f32c" stroke="#000" stroke-opacity="0.5" stroke-width="0.45"/>
<polygon points="186.37,76.82 189.46,75.75 183.71,73.09 180.60,74.14" fill="#54ef30" stroke="#000" stroke-opacity="0.5" stroke-width="0.45"/>
<polygon points="127.39,64.98 130.92,62.68 125.38,60.65 121.82,62.93" fill="#e5f331" stroke="#000" stroke-opacity="0.5" stroke-width="0.45"/>
<polygon points="201.06,81.33 204.01,80.55 198.22,77.74 195.24,78.49" fill="#38f040" stroke="#000" stroke-opacity="0.5" stroke-width="0.45"/>
<polygon points="88.81,64.39 92.57,61.09 87.18,59.44 83.40,62.71" fill="#ecf441" stroke="#000" stroke-opacity="0.5" stroke-width="0.45"/>
<polygon points="112.67,63.59 116.30,60.97 110.81,59.10 107.17,61.70" fill="#ecf335" stroke="#000" stroke-opacity="0.5" stroke-width="0.45"/>
<polygon points="215.68,86.45 218.49,85.96 212.67,82.99 209.82,83.46" fill="#28f067" stroke="#000" stroke-opacity="0.5" stroke-width="0.45"/>
<polygon points="165.91,70.40 169.15,69.06 163.49,66.65 160.22,67.97" fill="#9bf220" stroke="#000" stroke-opacity="0.5" stroke-width="0.45"/>
<polygon points="151.21,67.28 154.56,65.63 148.95,63.39 145.57,65.01" fill="#c7f226" stroke="#000" stroke-opacity="0.5" stroke-width="0.45"/>
<polygon points="98.00,62.84 101.71,59.89 96.30,58.18 92.57,61.09" fill="#edf33a" stroke="#000" stroke-opacity="0.5" stroke-width="0.45"/>
<polygon points="180.60,74.14 183.71,73.09 178.00,70.53 174.85,71.55" fill="#66f029" stroke="#000" stroke-opacity="0.5" stroke-width="0.45"/>
<polygon points="74.21,64.73 78.04,61.11 72.73,59.61 68.88,63.20" fill="#e6f446" stroke="#000" stroke-opacity="0.5" stroke-width="0.45"/>
<polygon points="136.51,64.79 139.97,62.83 134.40,60.74 130.92,62.68" fill="#dcf32b" stroke="#000" stroke-opacity="0.5" stroke-width="0.45"/>
<polygon points="195.24,78.49 198.22,77.74 192.48,75.02 189.46,75.75" fill="#3ff03b" stroke="#000" stroke-opacity="0.5" stroke-width="0.45"/>
<polygon points="121.82,62.93 125.38,60.65 119.87,58.72 116.30,60.97" fill="#eaf330" stroke="#000" stroke-opacity="0.5" stroke-width="0.45"/>
<polygon points="83.40,62.71 87.18,59.44 81.84,57.87 78.04,61.11" fill="#edf33f" stroke="#000" stroke-opacity="0.5" stroke-width="0.45"/>
<polygon points="209.82,83.46 212.67,82.99 206.89,80.12 204.01,80.55" fill="#2bf154" stroke="#000" stroke-opacity="0.5" stroke-width="0.45"/>
<polygon points="107.17,61.70 110.81,59.10 105.38,57.32 101.71,59.89" fill="#eef234" stroke="#000" stroke-opacity="0.5" stroke-width="0.45"/>
<polygon points="160.22,67.97 163.49,66.65 157.86,64.34 154.56,65.63" fill="#acf220" stroke="#000" stroke-opacity="0.5" stroke-width="0.45"/>
<polygon points="145.57,65.01 148.95,63.39 143.37,61.23 139.97,62.83" fill="#cff225" stroke="#000" stroke-opacity="0.5" stroke-width="0.45"/>
<polygon points="174.85,71.55 178.00,70.53 172.33,68.07 169.15,69.06" fill="#77f122" stroke="#000" stroke-opacity="0.5" stroke-width="0.45"/>
<polygon points="92.57,61.09 96.30,58.18 90.93,56.55 87.18,59.44" fill="#eff238" stroke="#000" stroke-opacity="0.5" stroke-width="0.45"/>
<polygon points="130.92,62.68 134.40,60.74 128.88,58.74 125.38,60.65" fill="#e3f32b" stroke="#000" stroke-opacity="0.5" stroke-width="0.45"/>
<polygon points="189.46,75.75 192.48,75.02 186.77,72.40 183.71,73.09" fill="#45ef36" stroke="#000" stroke-opacity="0.5" stroke-width="0.45"/>
<polygon points="116.30,60.97 119.87,58.72 114.41,56.88 110.81,59.10" fill="#ecf22e" stroke="#000" stroke-opacity="0.5" stroke-width="0.45"/>
<polygon points="204.01,80.55 206.89,80.12 201.15,77.34 198.22,77.74" fill="#2ff147" stroke="#000" stroke-opacity="0.5" stroke-width="0.45"/>
<polygon points="78.04,61.11 81.84,57.87 76.54,56.39 72.73,59.61" fill="#edf33e" stroke="#000" stroke-opacity="0.5" stroke-width="0.45"/>
<polygon points="101.71,59.89 105.38,57.32 99.98,55.63 96.30,58.18" fill="#eff132" stroke="#000" stroke-opacity="0.5" stroke-width="0.45"/>
<polygon points="154.56,65.63 157.86,64.34 152.27,62.12 148.95,63.39" fill="#bbf21f" stroke="#000" stroke-opacity="0.5" stroke-width="0.45"/>
<polygon points="218.49,85.96 221.24,85.81 215.46,82.87 212.67,82.99" fill="#25ee80" stroke="#000" stroke-opacity="0.5" stroke-width="0.45"/>
<polygon points="169.15,69.06 172.33,68.07 166.70,65.69 163.49,66.65" fill="#88f21f" stroke="#000" stroke-opacity="0.5" stroke-width="0.45"/>
<polygon points="139.97,62.83 143.37,61.23 137.84,59.17 134.40,60.74" fill="#d7f225" stroke="#000" stroke-opacity="0.5" stroke-width="0.45"/>
<polygon points="183.71,73.09 186.77,72.40 181.09,69.86 178.00,70.53" fill="#51ef31" stroke="#000" stroke-opacity="0.5" stroke-width="0.45"/>
<polygon points="125.38,60.65 128.88,58.74 123.40,56.83 119.87,58.72" fill="#e9f22a" stroke="#000" stroke-opacity="0.5" stroke-width="0.45"/>
<polygon points="87.18,59.44 90.93,56.55 85.60,55.00 81.84,57.87" fill="#f0f237" stroke="#000" stroke-opacity="0.5" stroke-width="0.45"/>
<polygon points="198.22,77.74 201.15,77.34 195.44,74.64 192.48,75.02" fill="#36f142" stroke="#000" stroke-opacity="0.5" stroke-width="0.45"/>
<polygon points="110.81,59.10 114.41,56.88 109.00,55.12 105.38,57.32" fill="#eef12d" stroke="#000" stroke-opacity="0.5" stroke-width="0.45"/>
<polygon points="212.67,82.99 215.46,82.87 209.72,80.02 206.89,80.12" fill="#27ef6e" stroke="#000" stroke-opacity="0.5" stroke-width="0.45"/>
<polygon points="96.30,58.18 99.98,55.63 94.63,54.02 90.93,56.55" fill="#f1f131" stroke="#000" stroke-opacity="0.5" stroke-width="0.45"/>
<polygon points="148.95,63.39 152.27,62.12 146.72,59.99 143.37,61.23" fill="#c6f21f" stroke="#000" stroke-opacity="0.5" stroke-width="0.45"/>
<polygon points="163.49,66.65 166.70,65.69 161.10,63.40 157.86,64.34" fill="#99f21f" stroke="#000" stroke-opacity="0.5" stroke-width="0.45"/>
<polygon points="134.40,60.74 137.84,59.17 132.34,57.19 128.88,58.74" fill="#def224" stroke="#000" stroke-opacity="0.5" stroke-width="0.45"/>
<polygon points="178.00,70.53 181.09,69.86 175.45,67.42 172.33,68.07" fill="#62f02a" stroke="#000" stroke-opacity="0.5" stroke-width="0.45"/>
<polygon points="119.87,58.72 123.40,56.83 117.97,55.01 114.41,56.88" fill="#ebf228" stroke="#000" stroke-opacity="0.5" stroke-width="0.45"/>
<polygon points="81.84,57.87 85.60,55.00 80.32,53.55 76.54,56.39" fill="#f1f136" stroke="#000" stroke-opacity="0.5" stroke-width="0.45"/>
<polygon points="192.48,75.02 195.44,74.64 189.76,72.04 186.77,72.40" fill="#3df03d" stroke="#000" stroke-opacity="0.5" stroke-width="0.45"/>
<polygon points="105.38,57.32 109.00,55.12 103.62,53.45 99.98,55.63" fill="#f0f12b" stroke="#000" stroke-opacity="0.5" stroke-width="0.45"/>
<polygon points="206.89,80.12 209.72,80.02 204.01,77.26 201.15,77.34" fill="#2af05c" stroke="#000" stroke-opacity="0.5" stroke-width="0.45"/>
<polygon points="90.93,56.55 94.63,54.02 89.33,52.51 85.60,55.00" fill="#f2f12f" stroke="#000" stroke-opacity="0.5" stroke-width="0.45"/>
<polygon points="143.37,61.23 146.72,59.99 141.22,57.95 137.84,59.17" fill="#cef21f" stroke="#000" stroke-opacity="0.5" stroke-width="0.45"/>
<polygon points="157.86,64.34 161.10,63.40 155.54,61.20 152.27,62.12" fill="#a9f21f" stroke="#000" stroke-opacity="0.5" stroke-width="0.45"/>
<polygon points="128.88,58.74 132.34,57.19 126.89,55.30 123.40,56.83" fill="#e4f224" stroke="#000" stroke-opacity="0.5" stroke-width="0.45"/>
<polygon points="172.33,68.07 175.45,67.42 169.85,65.07 166.70,65.69" fill="#72f124" stroke="#000" stroke-opacity="0.5" stroke-width="0.45"/>
<polygon points="114.41,56.88 117.97,55.01 112.58,53.28 109.00,55.12" fill="#edf126" stroke="#000" stroke-opacity="0.5" stroke-width="0.45"/>
<polygon points="186.77,72.40 189.76,72.04 184.12,69.53 181.09,69.86" fill="#43ef38" stroke="#000" stroke-opacity="0.5" stroke-width="0.45"/>
<polygon points="99.98,55.63 103.62,53.45 98.30,51.87 94.63,54.02" fill="#f2f02a" stroke="#000" stroke-opacity="0.5" stroke-width="0.45"/>
<polygon points="201.15,77.34 204.01,77.26 198.33,74.60 195.44,74.64" fill="#2cf24b" stroke="#000" stroke-opacity="0.5" stroke-width="0.45"/>
<polygon points="152.27,62.12 155.54,61.20 150.02,59.09 146.72,59.99" fill="#b7f21f" stroke="#000" stroke-opacity="0.5" stroke-width="0.45"/>
<polygon points="137.84,59.17 141.22,57.95 135.75,55.99 132.34,57.19" fill="#d5f21f" stroke="#000" stroke-opacity="0.5" stroke-width="0.45"/>
<polygon points="166.70,65.69 169.85,65.07 164.29,62.80 161.10,63.40" fill="#81f21f" stroke="#000" stroke-opacity="0.5" stroke-width="0.45"/>
<polygon points="85.60,55.00 89.33,52.51 84.07,51.07 80.32,53.55" fill="#f3f02e" stroke="#000" stroke-opacity="0.5" stroke-width="0.45"/>
<polygon points="123.40,56.83 126.89,55.30 121.48,53.50 117.97,55.01" fill="#e9f223" stroke="#000" stroke-opacity="0.5" stroke-width="0.45"/>
<polygon points="181.09,69.86 184.12,69.53 178.51,67.11 175.45,67.42" fill="#49ee34" stroke="#000" stroke-opacity="0.5" stroke-width="0.45"/>
<polygon points="109.00,55.12 112.58,53.28 107.23,51.63 103.62,53.45" fill="#eff025" stroke="#000" stroke-opacity="0.5" stroke-width="0.45"/>
<polygon points="195.44,74.64 198.33,74.60 192.69,72.02 189.76,72.04" fill="#32f145" stroke="#000" stroke-opacity="0.5" stroke-width="0.45"/>
<polygon points="94.63,54.02 98.30,51.87 93.01,50.37 89.33,52.51" fill="#f3f028" stroke="#000" stroke-opacity="0.5" stroke-width="0.45"/>
<polygon points="146.72,59.99 150.02,59.09 144.55,57.07 141.22,57.95" fill="#c3f21f" stroke="#000" stroke-opacity="0.5" stroke-width="0.45"/>
<polygon points="132.34,57.19 135.75,55.99 130.32,54.13 126.89,55.30" fill="#dcf21f" stroke="#000" stroke-opacity="0.5" stroke-width="0.45"/>
<polygon points="161.10,63.40 164.29,62.80 158.76,60.63 155.54,61.20" fill="#91f21f" stroke="#000" stroke-opacity="0.5" stroke-width="0.45"/>
<polygon points="117.97,55.01 121.48,53.50 116.11,51.79 112.58,53.28" fill="#ebf121" stroke="#000" stroke-opacity="0.5" stroke-width="0.45"/>
<polygon points="175.45,67.42 178.51,67.11 172.94,64.78 169.85,65.07" fill="#58ef2e" stroke="#000" stroke-opacity="0.5" stroke-width="0.45"/>
<polygon points="103.62,53.45 107.23,51.63 101.92,50.07 98.30,51.87" fill="#f1f023" stroke="#000" stroke-opacity="0.5" stroke-width="0.45"/>
<polygon points="189.76,72.04 192.69,72.02 187.09,69.53 184.12,69.53" fill="#38f040" stroke="#000" stroke-opacity="0.5" stroke-width="0.45"/>
<polygon points="89.33,52.51 93.01,50.37 87.77,48.96 84.07,51.07" fill="#f4ef27" stroke="#000" stroke-opacity="0.5" stroke-width="0.45"/>
<polygon points="141.22,57.95 144.55,57.07 139.11,55.14 135.75,55.99" fill="#caf21f" stroke="#000" stroke-opacity="0.5" stroke-width="0.45"/>
<polygon points="155.54,61.20 158.76,60.63 153.27,58.54 150.02,59.09" fill="#9ff21f" stroke="#000" stroke-opacity="0.5" stroke-width="0.45"/>
<polygon points="126.89,55.30 130.32,54.13 124.94,52.35 121.48,53.50" fill="#e1f21f" stroke="#000" stroke-opacity="0.5" stroke-width="0.45"/>
<polygon points="169.85,65.07 172.94,64.78 167.41,62.54 164.29,62.80" fill="#67f028" stroke="#000" stroke-opacity="0.5" stroke-width="0.45"/>
<polygon points="112.58,53.28 116.11,51.79 110.78,50.16 107.23,51.63" fill="#edf01f" stroke="#000" stroke-opacity="0.5" stroke-width="0.45"/>
<polygon points="184.12,69.53 187.09,69.53 181.52,67.14 178.51,67.11" fill="#3ef03c" stroke="#000" stroke-opacity="0.5" stroke-width="0.45"/>
<polygon points="98.30,51.87 101.92,50.07 96.65,48.59 93.01,50.37" fill="#f2ef22" stroke="#000" stroke-opacity="0.5" stroke-width="0.45"/>
<polygon points="135.75,55.99 139.11,55.14 133.71,53.29 130.32,54.13" fill="#d0f21f" stroke="#000" stroke-opacity="0.5" stroke-width="0.45"/>
<polygon points="150.02,59.09 153.27,58.54 147.82,56.54 144.55,57.07" fill="#acf21f" stroke="#000" stroke-opacity="0.5" stroke-width="0.45"/>
<polygon points="121.48,53.50 124.94,52.35 119.59,50.65 116.11,51.79" fill="#e6f21f" stroke="#000" stroke-opacity="0.5" stroke-width="0.45"/>
<polygon points="164.29,62.80 167.41,62.54 161.92,60.39 158.76,60.63" fill="#75f123" stroke="#000" stroke-opacity="0.5" stroke-width="0.45"/>
<polygon points="107.23,51.63 110.78,50.16 105.50,48.62 101.92,50.07" fill="#eef01e" stroke="#000" stroke-opacity="0.5" stroke-width="0.45"/>
<polygon points="178.51,67.11 181.52,67.14 175.98,64.83 172.94,64.78" fill="#43ef38" stroke="#000" stroke-opacity="0.5" stroke-width="0.45"/>
<polygon points="93.01,50.37 96.65,48.59 91.43,47.20 87.77,48.96" fill="#f3ef21" stroke="#000" stroke-opacity="0.5" stroke-width="0.45"/>
<polygon points="144.55,57.07 147.82,56.54 142.41,54.63 139.11,55.14" fill="#b8f21f" stroke="#000" stroke-opacity="0.5" stroke-width="0.45"/>
<polygon points="130.32,54.13 133.71,53.29 128.35,51.53 124.94,52.35" fill="#d6f21f" stroke="#000" stroke-opacity="0.5" stroke-width="0.45"/>
<polygon points="158.76,60.63 161.92,60.39 156.46,58.32 153.27,58.54" fill="#81f21f" stroke="#000" stroke-opacity="0.5" stroke-width="0.45"/>
<polygon points="116.11,51.79 119.59,50.65 114.29,49.05 110.78,50.16" fill="#e9f11e" stroke="#000" stroke-opacity="0.5" stroke-width="0.45"/>
<polygon points="172.94,64.78 175.98,64.83 170.48,62.61 167.41,62.54" fill="#48ee34" stroke="#000" stroke-opacity="0.5" stroke-width="0.45"/>
<polygon points="101.92,50.07 105.50,48.62 100.25,47.17 96.65,48.59" fill="#eff01d" stroke="#000" stroke-opacity="0.5" stroke-width="0.45"/>
<polygon points="139.11,55.14 142.41,54.63 137.04,52.80 133.71,53.29" fill="#c2f21f" stroke="#000" stroke-opacity="0.5" stroke-width="0.45"/>
<polygon points="124.94,52.35 128.35,51.53 123.03,49.86 119.59,50.65" fill="#dbf21f" stroke="#000" stroke-opacity="0.5" stroke-width="0.45"/>
<polygon points="153.27,58.54 156.46,58.32 151.04,56.34 147.82,56.54" fill="#8ef21f" stroke="#000" stroke-opacity="0.5" stroke-width="0.45"/>
<polygon points="110.78,50.16 114.29,49.05 109.03,47.52 105.50,48.62" fill="#eaf11d" stroke="#000" stroke-opacity="0.5" stroke-width="0.45"/>
<polygon points="167.41,62.54 170.48,62.61 165.02,60.47 161.92,60.39" fill="#55ef2f" stroke="#000" stroke-opacity="0.5" stroke-width="0.45"/>
<polygon points="96.65,48.59 100.25,47.17 95.06,45.79 91.43,47.20" fill="#f0ef1c" stroke="#000" stroke-opacity="0.5" stroke-width="0.45"/>
<polygon points="133.71,53.29 137.04,52.80 131.71,51.06 128.35,51.53" fill="#c7f21f" stroke="#000" stroke-opacity="0.5" stroke-width="0.45"/>
<polygon points="147.82,56.54 151.04,56.34 145.66,54.44 142.41,54.63" fill="#9af21f" stroke="#000" stroke-opacity="0.5" stroke-width="0.45"/>
<polygon points="119.59,50.65 123.03,49.86 117.75,48.27 114.29,49.05" fill="#dff21f" stroke="#000" stroke-opacity="0.5" stroke-width="0.45"/>
<polygon points="161.92,60.39 165.02,60.47 159.59,58.42 156.46,58.32" fill="#62f02a" stroke="#000" stroke-opacity="0.5" stroke-width="0.45"/>
<polygon points="105.50,48.62 109.03,47.52 103.81,46.09 100.25,47.17" fill="#ebf11c" stroke="#000" stroke-opacity="0.5" stroke-width="0.45"/>
<polygon points="128.35,51.53 131.71,51.06 126.42,49.40 123.03,49.86" fill="#ccf21f" stroke="#000" stroke-opacity="0.5" stroke-width="0.45"/>
<polygon points="142.41,54.63 145.66,54.44 140.32,52.63 137.04,52.80" fill="#a4f21f" stroke="#000" stroke-opacity="0.5" stroke-width="0.45"/>
<polygon points="114.29,49.05 117.75,48.27 112.52,46.77 109.03,47.52" fill="#e2f21f" stroke="#000" stroke-opacity="0.5" stroke-width="0.45"/>
<polygon points="156.46,58.32 159.59,58.42 154.21,56.46 151.04,56.34" fill="#6df126" stroke="#000" stroke-opacity="0.5" stroke-width="0.45"/>
<polygon points="100.25,47.17 103.81,46.09 98.63,44.73 95.06,45.79" fill="#ecf01c" stroke="#000" stroke-opacity="0.5" stroke-width="0.45"/>
<polygon points="137.04,52.80 140.32,52.63 135.02,50.91 131.71,51.06" fill="#adf21f" stroke="#000" stroke-opacity="0.5" stroke-width="0.45"/>
<polygon points="123.03,49.86 126.42,49.40 121.16,47.83 117.75,48.27" fill="#d0f21f" stroke="#000" stroke-opacity="0.5" stroke-width="0.45"/>
<polygon points="151.04,56.34 154.21,56.46 148.86,54.59 145.66,54.44" fill="#77f122" stroke="#000" stroke-opacity="0.5" stroke-width="0.45"/>
<polygon points="109.03,47.52 112.52,46.77 107.32,45.34 103.81,46.09" fill="#e5f21f" stroke="#000" stroke-opacity="0.5" stroke-width="0.45"/>
<polygon points="131.71,51.06 135.02,50.91 129.75,49.27 126.42,49.40" fill="#b5f21f" stroke="#000" stroke-opacity="0.5" stroke-width="0.45"/>
<polygon points="117.75,48.27 121.16,47.83 115.95,46.34 112.52,46.77" fill="#d3f21f" stroke="#000" stroke-opacity="0.5" stroke-width="0.45"/>
<polygon points="145.66,54.44 148.86,54.59 143.54,52.79 140.32,52.63" fill="#81f21f" stroke="#000" stroke-opacity="0.5" stroke-width="0.45"/>
<polygon points="103.81,46.09 107.32,45.34 102.17,44.00 98.63,44.73" fill="#e7f21f" stroke="#000" stroke-opacity="0.5" stroke-width="0.45"/>
<polygon points="126.42,49.40 129.75,49.27 124.53,47.71 121.16,47.83" fill="#bcf21f" stroke="#000" stroke-opacity="0.5" stroke-width="0.45"/>
<polygon points="140.32,52.63 143.54,52.79 138.27,51.09 135.02,50.91" fill="#8af21f" stroke="#000" stroke-opacity="0.5" stroke-width="0.45"/>
<polygon points="112.52,46.77 115.95,46.34 110.78,44.93 107.32,45.34" fill="#d6f21f" stroke="#000" stroke-opacity="0.5" stroke-width="0.45"/>
<polygon points="121.16,47.83 124.53,47.71 119.34,46.24 115.95,46.34" fill="#c1f21f" stroke="#000" stroke-opacity="0.5" stroke-width="0.45"/>
<polygon points="135.02,50.91 138.27,51.09 133.04,49.46 129.75,49.27" fill="#91f21f" stroke="#000" stroke-opacity="0.5" stroke-width="0.45"/>
<polygon points="107.32,45.34 110.78,44.93 105.66,43.61 102.17,44.00" fill="#d8f21f" stroke="#000" stroke-opacity="0.5" stroke-width="0.45"/>
<polygon points="129.75,49.27 133.04,49.46 127.84,47.92 124.53,47.71" fill="#98f21f" stroke="#000" stroke-opacity="0.5" stroke-width="0.45"/>
<polygon points="115.95,46.34 119.34,46.24 114.20,44.85 110.78,44.93" fill="#c3f21f" stroke="#000" stroke-opacity="0.5" stroke-width="0.45"/>
<polygon points="124.53,47.71 127.84,47.92 122.68,46.46 119.34,46.24" fill="#9df21f" stroke="#000" stroke-opacity="0.5" stroke-width="0.45"/>
<polygon points="110.78,44.93 114.20,44.85 109.10,43.54 105.66,43.61" fill="#c5f21f" stroke="#000" stroke-opacity="0.5" stroke-width="0.45"/>
<polygon points="119.34,46.24 122.68,46.46 117.57,45.08 114.20,44.85" fill="#a1f21f" stroke="#000" stroke-opacity="0.5" stroke-width="0.45"/>
<polygon points="114.20,44.85 117.57,45.08 112.49,43.78 109.10,43.54" fill="#a4f21f" stroke="#000" stroke-opacity="0.5" stroke-width="0.45"/>
<circle cx="37.10" cy="105.60" r="2.1" fill="#f6cccc" stroke="#d89a9a" stroke-width="0.5"/>
<circle cx="221.40" cy="84.80" r="2.05" fill="#c80808" stroke="#8a0000" stroke-width="0.5"/>
<circle cx="154.70" cy="163.40" r="2.05" fill="#c80808" stroke="#8a0000" stroke-width="0.5"/>
<circle cx="131.70" cy="71.30" r="2.05" fill="#c80808" stroke="#8a0000" stroke-width="0.5"/></g>
<g><line x1="316.37" y1="142.85" x2="394.10" y2="91.67" stroke="#707070" stroke-width="0.6"/>
<line x1="394.10" y1="91.67" x2="505.52" y2="122.23" stroke="#707070" stroke-width="0.6"/>
<line x1="315.06" y1="123.15" x2="393.86" y2="73.95" stroke="#707070" stroke-width="0.6"/>
<line x1="393.86" y1="73.95" x2="506.66" y2="103.23" stroke="#707070" stroke-width="0.6"/>
<line x1="313.75" y1="103.46" x2="393.61" y2="56.24" stroke="#707070" stroke-width="0.6"/>
<line x1="393.61" y1="56.24" x2="507.81" y2="84.24" stroke="#707070" stroke-width="0.6"/>
<line x1="312.43" y1="83.76" x2="393.37" y2="38.52" stroke="#707070" stroke-width="0.6"/>
<line x1="393.37" y1="38.52" x2="508.95" y2="65.24" stroke="#707070" stroke-width="0.6"/>
<line x1="311.12" y1="64.06" x2="393.13" y2="20.80" stroke="#707070" stroke-width="0.6"/>
<line x1="393.13" y1="20.80" x2="510.10" y2="46.24" stroke="#707070" stroke-width="0.6"/>
<line x1="335.80" y1="130.05" x2="330.58" y2="34.05" stroke="#707070" stroke-width="0.6"/>
<line x1="477.66" y1="114.59" x2="481.65" y2="21.21" stroke="#707070" stroke-width="0.6"/>
<line x1="355.23" y1="117.26" x2="351.35" y2="23.73" stroke="#707070" stroke-width="0.6"/>
<line x1="449.81" y1="106.95" x2="452.07" y2="15.17" stroke="#707070" stroke-width="0.6"/>
<line x1="374.67" y1="104.46" x2="372.12" y2="13.40" stroke="#707070" stroke-width="0.6"/>
<line x1="421.95" y1="99.31" x2="422.48" y2="9.12" stroke="#707070" stroke-width="0.6"/>
<line x1="309.81" y1="44.37" x2="392.89" y2="3.08" stroke="#4a4a4a" stroke-width="0.75"/>
<line x1="392.89" y1="3.08" x2="511.24" y2="27.25" stroke="#4a4a4a" stroke-width="0.75"/>
<line x1="394.46" y1="118.25" x2="392.89" y2="3.08" stroke="#707070" stroke-width="0.6"/>
<line x1="503.80" y1="150.72" x2="511.24" y2="27.25" stroke="#707070" stroke-width="0.7"/>
<line x1="318.34" y1="172.39" x2="309.81" y2="44.37" stroke="#707070" stroke-width="0.7"/>
<polygon points="436.87,215.44 503.80,150.72 394.46,118.25 318.34,172.39" fill="#676767"/>
<polyline points="440.10,212.31 439.14,211.80 438.18,211.30 437.70,211.05 436.74,210.55 435.78,210.05 435.18,209.75 434.33,209.32 433.36,208.83 432.39,208.35 431.91,208.11 430.94,207.64 429.97,207.17 428.99,206.71 428.50,206.48 427.52,206.02 426.54,205.57 425.56,205.12 424.73,204.75 424.09,204.46 423.10,204.03 422.11,203.60 421.11,203.17 420.12,202.75 419.12,202.33 418.62,202.13 417.62,201.72 416.61,201.31 415.61,200.91 414.60,200.52 413.58,200.13 412.57,199.75 411.55,199.37 410.52,198.99 409.50,198.62 408.47,198.26 407.44,197.90 406.40,197.55 405.36,197.20 404.32,196.85 403.27,196.51 402.22,196.18 401.16,195.85 400.19,195.55 399.57,195.37 398.51,195.05 397.44,194.74 396.37,194.44 395.29,194.14 394.48,193.91 393.67,193.70 392.58,193.41 391.49,193.13 390.40,192.85 389.85,192.71 388.75,192.44 387.64,192.18 386.92,192.01 385.97,191.79 384.86,191.54 383.92,191.34 383.17,191.17 382.04,190.93 381.21,190.76 380.34,190.59 379.20,190.36 378.63,190.25 377.48,190.03 376.37,189.82 375.75,189.71 374.59,189.51 374.01,189.41 372.85,189.21 372.07,189.08 371.09,188.92 370.07,188.76 369.32,188.64 368.14,188.46 367.54,188.37 366.35,188.20 365.75,188.12 364.55,187.95 363.95,187.87 362.75,187.72 362.14,187.64 361.05,187.50 360.31,187.41 359.40,187.31" fill="none" stroke="#20b4ac" stroke-width="1.2"/>
<polyline points="445.91,206.70 445.14,206.26 444.53,205.90 443.60,205.38 443.14,205.12 442.22,204.61 441.29,204.09 440.82,203.84 439.90,203.34 439.05,202.88 438.50,202.59 437.57,202.10 436.73,201.66 436.16,201.36 435.22,200.88 434.28,200.41 433.81,200.17 432.87,199.70 431.92,199.24 431.34,198.96 430.50,198.55 429.55,198.10 428.59,197.65 428.01,197.38 427.16,196.99 426.20,196.56 425.23,196.13 424.26,195.71 423.78,195.50 422.81,195.08 421.83,194.67 420.85,194.27 419.87,193.87 418.88,193.47 417.90,193.09 416.90,192.70 416.40,192.51 415.41,192.14 414.40,191.77 413.40,191.41 412.39,191.05 411.37,190.70 410.35,190.35 409.33,190.01 408.38,189.70 407.78,189.51 406.75,189.18 405.71,188.86 404.67,188.55 403.62,188.24 402.56,187.93 401.51,187.64 400.96,187.49 399.91,187.20 398.84,186.92 397.76,186.64 396.68,186.37 396.14,186.24 395.05,185.97 393.95,185.72 393.27,185.56 392.30,185.34 391.19,185.10 390.35,184.93 389.52,184.75 388.40,184.52 387.75,184.40 386.71,184.19 385.57,183.98 385.00,183.88 383.86,183.67 383.15,183.55 382.13,183.38 381.07,183.20 380.39,183.10 379.22,182.91 378.64,182.82 377.46,182.65 376.87,182.57 375.69,182.40 375.10,182.32 373.90,182.17 373.30,182.09 372.10,181.94 371.50,181.87 370.33,181.73 369.68,181.66 368.74,181.56 367.85,181.46 367.19,181.39 366.01,181.28 365.40,181.22 364.19,181.10 363.54,181.05 362.74,180.98 361.67,180.89 361.04,180.84 359.91,180.75 359.15,180.69 358.52,180.65 357.25,180.56 356.61,180.51 355.84,180.46 354.70,180.39 354.06,180.36 353.23,180.31 352.12,180.25 351.48,180.22 350.67,180.18 349.53,180.12 348.88,180.09 348.18,180.06 346.95,180.01 346.26,179.99 345.60,179.96 344.53,179.93 343.62,179.90 342.95,179.88 342.16,179.86 340.98,179.83 340.29,179.81 339.62,179.79 338.66,179.78" fill="none" stroke="#22c070" stroke-width="1.2"/>
<polyline points="452.47,200.35 451.60,199.79 451.15,199.50 450.30,198.95 449.78,198.63 448.99,198.13 448.36,197.74 447.68,197.32 446.90,196.84 446.37,196.52 445.49,195.99 445.05,195.72 444.17,195.20 443.73,194.94 442.85,194.43 442.16,194.03 441.52,193.67 440.63,193.16 440.19,192.91 439.30,192.42 438.56,192.01 437.95,191.69 437.06,191.20 436.56,190.94 435.71,190.49 434.80,190.02 434.35,189.79 433.44,189.33 432.53,188.87 431.92,188.58 431.15,188.20 430.23,187.76 429.31,187.33 428.84,187.11 427.91,186.69 426.98,186.27 426.04,185.85 425.39,185.57 424.62,185.24 423.67,184.85 422.72,184.45 421.76,184.07 420.80,183.69 419.83,183.32 418.85,182.95 418.36,182.77 417.38,182.42 416.39,182.07 415.40,181.73 414.40,181.39 413.39,181.07 412.74,180.86 411.87,180.59 410.85,180.28 409.82,179.97 408.79,179.68 407.75,179.39 406.70,179.11 406.03,178.93 405.11,178.70 404.05,178.44 402.98,178.18 402.26,178.02 401.36,177.81 400.27,177.57 399.29,177.37 398.62,177.23 397.51,177.01 396.73,176.86 395.84,176.69 394.71,176.49 394.14,176.39 393.01,176.20 392.34,176.10 391.29,175.93 390.38,175.79 389.55,175.67 388.54,175.53 387.80,175.43 386.79,175.30 386.03,175.21 385.12,175.10 384.24,174.99 383.51,174.91 382.44,174.80 381.83,174.74 380.62,174.62 380.01,174.56 378.98,174.47 378.17,174.40 377.55,174.35 376.31,174.25 375.69,174.20 374.81,174.14 373.81,174.07 373.18,174.03 372.16,173.97 371.28,173.92 370.64,173.89 369.61,173.83 368.72,173.79 368.08,173.76 367.14,173.72 366.14,173.68 365.49,173.66 364.73,173.63 363.55,173.59 362.88,173.57 362.22,173.56 361.23,173.53 360.24,173.51 359.58,173.50 358.91,173.49 357.83,173.47 356.91,173.46 356.24,173.45 355.57,173.45 354.52,173.44 353.54,173.44 352.86,173.44 352.18,173.44 351.28,173.44 350.22,173.44 349.45,173.44 348.77,173.45 348.08,173.46 347.06,173.47 346.03,173.48 345.32,173.49 344.62,173.50 343.93,173.51 342.94,173.53 341.92,173.55 341.14,173.57 340.44,173.58 339.73,173.60 338.90,173.62 337.90,173.65 336.91,173.67 336.21,173.70 335.50,173.72 334.79,173.74 333.94,173.77 332.96,173.80 331.98,173.84 331.22,173.86 330.50,173.89 329.78,173.92 329.06,173.95 328.10,173.99 327.13,174.03 326.18,174.07 325.46,174.10 324.73,174.13 324.01,174.17" fill="none" stroke="#3cc834" stroke-width="1.2"/>
<polyline points="460.17,192.91 459.78,192.60 459.23,192.16 458.60,191.67 458.21,191.36 457.52,190.82 457.04,190.44 456.65,190.14 455.86,189.54 455.47,189.23 454.92,188.81 454.30,188.34 453.91,188.04 453.14,187.45 452.73,187.15 452.23,186.77 451.56,186.27 451.17,185.98 450.38,185.41 449.99,185.12 449.44,184.72 448.81,184.26 448.42,183.98 447.63,183.42 447.23,183.14 446.50,182.62 446.05,182.30 445.48,181.91 444.86,181.48 444.43,181.19 443.66,180.67 443.27,180.40 442.47,179.87 442.06,179.61 441.26,179.09 440.86,178.83 440.05,178.31 439.64,178.06 438.83,177.55 438.42,177.30 437.60,176.80 437.19,176.56 436.36,176.07 435.89,175.80 435.12,175.35 434.35,174.93 433.86,174.65 433.01,174.20 432.59,173.97 431.73,173.52 430.87,173.09 430.44,172.87 429.57,172.44 428.69,172.03 428.24,171.82 427.35,171.42 426.45,171.03 425.54,170.64 424.65,170.28 424.16,170.09 423.23,169.73 422.28,169.38 421.33,169.05 420.36,168.72 419.39,168.41 418.40,168.11 417.40,167.82 416.38,167.54 415.87,167.41 414.84,167.15 413.79,166.90 412.73,166.67 412.20,166.56 411.12,166.34 410.02,166.14 409.47,166.04 408.36,165.86 407.79,165.77 406.66,165.61 406.03,165.52 404.93,165.38 404.33,165.31 403.17,165.18 402.58,165.12 401.38,165.00 400.78,164.95 399.87,164.88 398.96,164.81 398.34,164.77 397.23,164.70 396.48,164.66 395.85,164.63 394.75,164.58 393.95,164.55 393.31,164.52 392.40,164.50 391.38,164.47 390.73,164.46 390.08,164.45 389.04,164.43 388.11,164.42 387.44,164.42 386.78,164.42 385.84,164.42 384.80,164.43 384.10,164.43 383.42,164.44 382.74,164.45 381.75,164.46 380.76,164.48 380.01,164.50 379.32,164.52 378.63,164.54 377.82,164.56 376.85,164.59 375.89,164.62 375.16,164.65 374.46,164.68 373.75,164.70 373.05,164.73 372.11,164.77 371.18,164.81 370.26,164.86 369.50,164.89 368.79,164.93 368.07,164.97 367.36,165.01 366.59,165.05 365.68,165.10 364.78,165.15 363.87,165.20 363.03,165.25 362.31,165.30 361.58,165.34 360.85,165.39 360.12,165.43 359.39,165.48 358.52,165.54 357.64,165.60 356.76,165.66 355.88,165.72 355.00,165.78 354.24,165.84 353.50,165.89 352.76,165.94 352.02,166.00 351.28,166.05 350.54,166.11 349.77,166.17 348.90,166.24 348.04,166.30 347.17,166.37 346.31,166.44 345.45,166.51 344.59,166.58 343.80,166.64 343.05,166.70 342.30,166.76 341.54,166.83 340.79,166.89 340.03,166.95 339.28,167.02 338.52,167.08 337.74,167.15 336.89,167.22 336.04,167.29 335.19,167.37 334.34,167.44 333.49,167.52 332.64,167.59 331.80,167.67 330.95,167.74 330.14,167.81 329.37,167.88 328.60,167.95 327.84,168.02 327.07,168.09 326.30,168.16 325.53,168.23 324.76,168.30 323.99,168.38" fill="none" stroke="#94c824" stroke-width="1.2"/>
<polyline points="393.73,118.77 394.01,118.99 394.54,119.39 394.87,119.65 395.16,119.87 395.74,120.31 396.03,120.53 396.36,120.79 396.90,121.19 397.19,121.41 397.62,121.73 398.07,122.07 398.37,122.29 398.90,122.69 399.26,122.95 399.56,123.17 400.16,123.61 400.46,123.83 400.90,124.15 401.37,124.49 401.68,124.70 402.29,125.14 402.60,125.36 403.00,125.64 403.53,126.01 403.84,126.23 404.46,126.66 404.78,126.88 405.22,127.18 405.73,127.53 406.05,127.75 406.69,128.18 407.01,128.39 407.59,128.78 407.99,129.03 408.43,129.32 408.97,129.67 409.30,129.88 409.97,130.31 410.30,130.52 410.98,130.94 411.31,131.14 412.00,131.56 412.34,131.77 413.03,132.18 413.38,132.38 414.08,132.79 414.43,132.99 415.14,133.40 415.50,133.60 416.22,133.99 416.59,134.19 417.32,134.58 417.84,134.85 418.44,135.16 419.19,135.54 419.57,135.73 420.34,136.10 421.00,136.42 421.50,136.65 422.29,137.01 423.05,137.35 423.50,137.54 424.31,137.88 425.14,138.22 425.89,138.52 426.40,138.71 427.25,139.03 428.12,139.34 428.99,139.64 429.89,139.94 430.79,140.22 431.71,140.50 432.64,140.77 433.58,141.02 434.54,141.27 435.51,141.51 436.16,141.66 437.00,141.84 438.00,142.05 439.03,142.25 439.54,142.35 440.58,142.53 441.57,142.70 442.18,142.79 443.25,142.95 443.80,143.02 444.90,143.16 445.45,143.23 446.57,143.36 447.14,143.42 448.28,143.53 448.85,143.58 449.74,143.65 450.59,143.72 451.18,143.76 452.36,143.83 452.95,143.87 453.59,143.90 454.76,143.96 455.36,143.98 455.97,144.01 457.09,144.04 457.81,144.07 458.43,144.08 459.28,144.10 460.30,144.11 460.93,144.12 461.56,144.13 462.42,144.13 463.44,144.13 464.10,144.13 464.74,144.13 465.43,144.12 466.40,144.11 467.31,144.10 467.96,144.09 468.61,144.08 469.27,144.07 470.21,144.04 471.14,144.02 471.89,144.00 472.55,143.98 473.21,143.96 473.88,143.94 474.78,143.90 475.68,143.87 476.53,143.83 477.20,143.81 477.86,143.78 478.53,143.75 479.21,143.72 480.07,143.67" fill="none" stroke="#94c824" stroke-width="1.2"/>
<polyline points="385.36,124.72 385.60,125.03 385.88,125.41 386.16,125.79 386.41,126.13 386.61,126.41 386.82,126.70 387.03,126.99 387.24,127.29 387.50,127.67 387.76,128.04 388.01,128.42 388.23,128.75 388.42,129.05 388.62,129.35 388.81,129.66 389.00,129.96 389.19,130.27 389.41,130.64 389.63,131.01 389.84,131.37 390.04,131.74 390.24,132.10 390.43,132.46 390.61,132.82 390.78,133.15 390.94,133.48 391.10,133.82 391.25,134.16 391.40,134.51 391.54,134.86 391.68,135.21 391.82,135.57 391.94,135.94 392.06,136.31 392.17,136.67 392.26,137.01 392.34,137.35 392.42,137.68 392.48,138.01 392.54,138.34 392.58,138.71 392.63,139.14 392.65,139.60 392.65,139.94 392.65,140.25 392.63,140.56 392.57,141.07 392.51,141.47 392.45,141.76 392.33,142.20 392.19,142.63 392.08,142.92 391.83,143.48 391.69,143.75 391.36,144.29 391.19,144.55 390.79,145.07 390.36,145.58 390.12,145.83 389.62,146.31 389.07,146.79 388.48,147.25 387.84,147.70 387.17,148.13 386.46,148.56 386.08,148.77 385.31,149.18 384.51,149.58 384.09,149.77 383.23,150.16 382.78,150.35 381.89,150.72 381.40,150.91 380.47,151.26 379.98,151.43 378.99,151.78 378.48,151.95 377.77,152.18 376.93,152.45 376.40,152.61 375.58,152.86 374.77,153.09 374.22,153.25 373.49,153.45 372.53,153.71 371.95,153.86 371.37,154.01 370.49,154.23 369.61,154.45 369.02,154.59 368.42,154.74 367.60,154.93 366.66,155.15 365.98,155.30 365.36,155.44 364.74,155.58 363.87,155.76 362.95,155.96 362.21,156.12 361.57,156.25 360.93,156.38 360.23,156.52 359.33,156.70 358.44,156.88 357.68,157.03 357.02,157.16 356.36,157.28 355.69,157.41 354.90,157.56 354.02,157.72 353.14,157.88 352.33,158.03 351.65,158.15 350.97,158.28 350.29,158.40 349.61,158.52 348.80,158.66 347.93,158.81 347.07,158.96 346.21,159.10 345.46,159.23 344.76,159.35 344.06,159.47 343.36,159.58 342.65,159.70 341.94,159.82 341.08,159.96 340.23,160.10 339.38,160.23 338.54,160.37 337.69,160.50 336.97,160.62 336.25,160.73 335.53,160.85 334.81,160.96" fill="none" stroke="#d0b41c" stroke-width="1.2"/>
<polyline points="469.60,183.79 469.30,183.40 469.01,183.01 468.71,182.62 468.40,182.21 468.05,181.74 467.70,181.26 467.36,180.79 467.03,180.32 466.72,179.87 466.45,179.47 466.18,179.07 465.91,178.66 465.65,178.26 465.39,177.85 465.13,177.44 464.88,177.03 464.63,176.61 464.39,176.19 464.15,175.77 463.92,175.35 463.70,174.92 463.48,174.48 463.26,174.04 463.05,173.60 462.86,173.15 462.67,172.69 462.48,172.22 462.31,171.75 462.17,171.32 462.05,170.94 461.94,170.56 461.85,170.19 461.76,169.76 461.66,169.22 461.59,168.73 461.56,168.38 461.54,168.03 461.53,167.48 461.55,167.01 461.58,166.68 461.66,166.14 461.74,165.72 461.84,165.36 462.02,164.79 462.15,164.47 462.41,163.91 462.73,163.34 462.91,163.07 463.31,162.53 463.75,162.00 464.23,161.49 464.77,161.00 465.34,160.52 465.96,160.06 466.62,159.61 467.27,159.20 467.67,158.96 468.43,158.55 468.95,158.27 469.62,157.94 470.34,157.60 470.88,157.36 471.60,157.06 472.21,156.81 472.77,156.59 473.60,156.28 474.07,156.10 474.95,155.80 475.54,155.60 476.04,155.43 476.98,155.13 477.57,154.95 478.09,154.79 478.93,154.54 479.68,154.33 480.22,154.17 480.81,154.01 481.73,153.76 482.41,153.58 482.97,153.44 483.54,153.30 484.42,153.08 485.25,152.88 485.82,152.74 486.40,152.60 487.04,152.45 487.90,152.26 488.75,152.07 489.35,151.94 489.94,151.81 490.54,151.68 491.29,151.52 492.13,151.34 492.96,151.17 493.57,151.04 494.19,150.92 494.80,150.80 495.43,150.67 496.24,150.51 497.06,150.36 497.87,150.20 498.54,150.07 499.16,149.95 499.79,149.84 500.42,149.72" fill="none" stroke="#d0b41c" stroke-width="1.2"/>
<circle cx="436.87" cy="215.44" r="0.9" fill="#111"/>
<circle cx="436.87" cy="215.44" r="0.9" fill="#111"/>
<circle cx="407.23" cy="204.68" r="0.9" fill="#111"/>
<circle cx="453.60" cy="199.26" r="0.9" fill="#111"/>
<circle cx="377.60" cy="193.92" r="0.9" fill="#111"/>
<circle cx="470.33" cy="183.08" r="0.9" fill="#111"/>
<circle cx="347.97" cy="183.16" r="0.9" fill="#111"/>
<circle cx="487.07" cy="166.90" r="0.9" fill="#111"/>
<circle cx="318.34" cy="172.39" r="0.9" fill="#111"/>
<circle cx="503.80" cy="150.72" r="0.9" fill="#111"/>
<circle cx="316.37" cy="142.85" r="0.9" fill="#111"/>
<circle cx="315.06" cy="123.15" r="0.9" fill="#111"/>
<circle cx="313.75" cy="103.46" r="0.9" fill="#111"/>
<circle cx="312.43" cy="83.76" r="0.9" fill="#111"/>
<circle cx="311.12" cy="64.06" r="0.9" fill="#111"/>
<circle cx="309.81" cy="44.37" r="0.9" fill="#111"/>
<polygon points="394.94,37.15 398.18,38.20 393.33,35.75 390.06,34.62" fill="#bff21f" stroke="#000" stroke-opacity="0.5" stroke-width="0.45"/>
<polygon points="399.84,39.53 403.05,40.51 398.18,38.20 394.94,37.15" fill="#a8f21f" stroke="#000" stroke-opacity="0.5" stroke-width="0.45"/>
<polygon points="404.77,41.76 407.96,42.65 403.05,40.51 399.84,39.53" fill="#95f21f" stroke="#000" stroke-opacity="0.5" stroke-width="0.45"/>
<polygon points="391.65,36.39 394.94,37.15 390.06,34.62 386.75,33.77" fill="#dcf21f" stroke="#000" stroke-opacity="0.5" stroke-width="0.45"/>
<polygon points="409.74,43.83 412.89,44.65 407.96,42.65 404.77,41.76" fill="#85f21f" stroke="#000" stroke-opacity="0.5" stroke-width="0.45"/>
<polygon points="396.58,38.85 399.84,39.53 394.94,37.15 391.65,36.39" fill="#cef21f" stroke="#000" stroke-opacity="0.5" stroke-width="0.45"/>
<polygon points="414.73,45.75 417.86,46.49 412.89,44.65 409.74,43.83" fill="#78f122" stroke="#000" stroke-opacity="0.5" stroke-width="0.45"/>
<polygon points="401.54,41.16 404.77,41.76 399.84,39.53 396.58,38.85" fill="#c1f21f" stroke="#000" stroke-opacity="0.5" stroke-width="0.45"/>
<polygon points="388.31,35.91 391.65,36.39 386.75,33.77 383.38,33.21" fill="#eef01b" stroke="#000" stroke-opacity="0.5" stroke-width="0.45"/>
<polygon points="419.77,47.51 422.87,48.17 417.86,46.49 414.73,45.75" fill="#6ff126" stroke="#000" stroke-opacity="0.5" stroke-width="0.45"/>
<polygon points="406.53,43.31 409.74,43.83 404.77,41.76 401.54,41.16" fill="#b1f21f" stroke="#000" stroke-opacity="0.5" stroke-width="0.45"/>
<polygon points="393.27,38.45 396.58,38.85 391.65,36.39 388.31,35.91" fill="#e7f21f" stroke="#000" stroke-opacity="0.5" stroke-width="0.45"/>
<polygon points="424.84,49.11 427.91,49.70 422.87,48.17 419.77,47.51" fill="#68f028" stroke="#000" stroke-opacity="0.5" stroke-width="0.45"/>
<polygon points="411.55,45.30 414.73,45.75 409.74,43.83 406.53,43.31" fill="#a2f21f" stroke="#000" stroke-opacity="0.5" stroke-width="0.45"/>
<polygon points="398.26,40.84 401.54,41.16 396.58,38.85 393.27,38.45" fill="#daf21f" stroke="#000" stroke-opacity="0.5" stroke-width="0.45"/>
<polygon points="384.93,35.73 388.31,35.91 383.38,33.21 379.98,32.95" fill="#f6e315" stroke="#000" stroke-opacity="0.5" stroke-width="0.45"/>
<polygon points="429.95,50.56 433.00,51.07 427.91,49.70 424.84,49.11" fill="#63f02a" stroke="#000" stroke-opacity="0.5" stroke-width="0.45"/>
<polygon points="416.61,47.14 419.77,47.51 414.73,45.75 411.55,45.30" fill="#96f21f" stroke="#000" stroke-opacity="0.5" stroke-width="0.45"/>
<polygon points="403.28,43.08 406.53,43.31 401.54,41.16 398.26,40.84" fill="#cef21f" stroke="#000" stroke-opacity="0.5" stroke-width="0.45"/>
<polygon points="389.92,38.36 393.27,38.45 388.31,35.91 384.93,35.73" fill="#f1ef19" stroke="#000" stroke-opacity="0.5" stroke-width="0.45"/>
<polygon points="421.71,48.82 424.84,49.11 419.77,47.51 416.61,47.14" fill="#8df21f" stroke="#000" stroke-opacity="0.5" stroke-width="0.45"/>
<polygon points="435.10,51.84 438.13,52.28 433.00,51.07 429.95,50.56" fill="#61f02a" stroke="#000" stroke-opacity="0.5" stroke-width="0.45"/>
<polygon points="408.33,45.15 411.55,45.30 406.53,43.31 403.28,43.08" fill="#c5f21f" stroke="#000" stroke-opacity="0.5" stroke-width="0.45"/>
<polygon points="394.93,40.83 398.26,40.84 393.27,38.45 389.92,38.36" fill="#ebf11d" stroke="#000" stroke-opacity="0.5" stroke-width="0.45"/>
<polygon points="381.51,35.85 384.93,35.73 379.98,32.95 376.53,32.98" fill="#f8c910" stroke="#000" stroke-opacity="0.5" stroke-width="0.45"/>
<polygon points="426.85,50.34 429.95,50.56 424.84,49.11 421.71,48.82" fill="#87f21f" stroke="#000" stroke-opacity="0.5" stroke-width="0.45"/>
<polygon points="413.41,47.07 416.61,47.14 411.55,45.30 408.33,45.15" fill="#bbf21f" stroke="#000" stroke-opacity="0.5" stroke-width="0.45"/>
<polygon points="440.30,52.96 443.30,53.33 438.13,52.28 435.10,51.84" fill="#62f02a" stroke="#000" stroke-opacity="0.5" stroke-width="0.45"/>
<polygon points="399.98,43.15 403.28,43.08 398.26,40.84 394.93,40.83" fill="#e3f21f" stroke="#000" stroke-opacity="0.5" stroke-width="0.45"/>
<polygon points="386.52,38.57 389.92,38.36 384.93,35.73 381.51,35.85" fill="#f6df14" stroke="#000" stroke-opacity="0.5" stroke-width="0.45"/>
<polygon points="418.54,48.82 421.71,48.82 416.61,47.14 413.41,47.07" fill="#b1f21f" stroke="#000" stroke-opacity="0.5" stroke-width="0.45"/>
<polygon points="405.05,45.30 408.33,45.15 403.28,43.08 399.98,43.15" fill="#d9f21f" stroke="#000" stroke-opacity="0.5" stroke-width="0.45"/>
<polygon points="432.03,51.69 435.10,51.84 429.95,50.56 426.85,50.34" fill="#84f21f" stroke="#000" stroke-opacity="0.5" stroke-width="0.45"/>
<polygon points="391.56,41.13 394.93,40.83 389.92,38.36 386.52,38.57" fill="#f4ee18" stroke="#000" stroke-opacity="0.5" stroke-width="0.45"/>
<polygon points="445.54,53.92 448.51,54.21 443.30,53.33 440.30,52.96" fill="#66f029" stroke="#000" stroke-opacity="0.5" stroke-width="0.45"/>
<polygon points="378.04,36.29 381.51,35.85 376.53,32.98 373.03,33.33" fill="#f8b10b" stroke="#000" stroke-opacity="0.5" stroke-width="0.45"/>
<polygon points="410.17,47.30 413.41,47.07 408.33,45.15 405.05,45.30" fill="#d0f21f" stroke="#000" stroke-opacity="0.5" stroke-width="0.45"/>
<polygon points="423.70,50.42 426.85,50.34 421.71,48.82 418.54,48.82" fill="#a9f21f" stroke="#000" stroke-opacity="0.5" stroke-width="0.45"/>
<polygon points="396.63,43.52 399.98,43.15 394.93,40.83 391.56,41.13" fill="#edf01b" stroke="#000" stroke-opacity="0.5" stroke-width="0.45"/>
<polygon points="437.25,52.89 440.30,52.96 435.10,51.84 432.03,51.69" fill="#84f21f" stroke="#000" stroke-opacity="0.5" stroke-width="0.45"/>
<polygon points="383.08,39.09 386.52,38.57 381.51,35.85 378.04,36.29" fill="#f8ca10" stroke="#000" stroke-opacity="0.5" stroke-width="0.45"/>
<polygon points="450.84,54.71 453.78,54.94 448.51,54.21 445.54,53.92" fill="#6bf027" stroke="#000" stroke-opacity="0.5" stroke-width="0.45"/>
<polygon points="415.31,49.14 418.54,48.82 413.41,47.07 410.17,47.30" fill="#c9f21f" stroke="#000" stroke-opacity="0.5" stroke-width="0.45"/>
<polygon points="401.74,45.76 405.05,45.30 399.98,43.15 396.63,43.52" fill="#e8f11e" stroke="#000" stroke-opacity="0.5" stroke-width="0.45"/>
<polygon points="428.90,51.85 432.03,51.69 426.85,50.34 423.70,50.42" fill="#a5f21f" stroke="#000" stroke-opacity="0.5" stroke-width="0.45"/>
<polygon points="388.15,41.73 391.56,41.13 386.52,38.57 383.08,39.09" fill="#f6de14" stroke="#000" stroke-opacity="0.5" stroke-width="0.45"/>
<polygon points="442.52,53.92 445.54,53.92 440.30,52.96 437.25,52.89" fill="#86f21f" stroke="#000" stroke-opacity="0.5" stroke-width="0.45"/>
<polygon points="374.54,37.04 378.04,36.29 373.03,33.33 369.50,33.99" fill="#f89e08" stroke="#000" stroke-opacity="0.5" stroke-width="0.45"/>
<polygon points="456.18,55.33 459.10,55.49 453.78,54.94 450.84,54.71" fill="#74f124" stroke="#000" stroke-opacity="0.5" stroke-width="0.45"/>
<polygon points="406.87,47.85 410.17,47.30 405.05,45.30 401.74,45.76" fill="#e0f21f" stroke="#000" stroke-opacity="0.5" stroke-width="0.45"/>
<polygon points="393.24,44.22 396.63,43.52 391.56,41.13 388.15,41.73" fill="#f4ee17" stroke="#000" stroke-opacity="0.5" stroke-width="0.45"/>
<polygon points="420.50,50.81 423.70,50.42 418.54,48.82 415.31,49.14" fill="#c4f21f" stroke="#000" stroke-opacity="0.5" stroke-width="0.45"/>
<polygon points="379.60,39.93 383.08,39.09 378.04,36.29 374.54,37.04" fill="#f8b80d" stroke="#000" stroke-opacity="0.5" stroke-width="0.45"/>
<polygon points="434.15,53.13 437.25,52.89 432.03,51.69 428.90,51.85" fill="#a4f21f" stroke="#000" stroke-opacity="0.5" stroke-width="0.45"/>
<polygon points="447.84,54.78 450.84,54.71 445.54,53.92 442.52,53.92" fill="#8cf21f" stroke="#000" stroke-opacity="0.5" stroke-width="0.45"/>
<polygon points="461.58,55.79 464.47,55.88 459.10,55.49 456.18,55.33" fill="#7ff21f" stroke="#000" stroke-opacity="0.5" stroke-width="0.45"/>
<polygon points="398.37,46.54 401.74,45.76 396.63,43.52 393.24,44.22" fill="#eff01a" stroke="#000" stroke-opacity="0.5" stroke-width="0.45"/>
<polygon points="412.05,49.77 415.31,49.14 410.17,47.30 406.87,47.85" fill="#d9f21f" stroke="#000" stroke-opacity="0.5" stroke-width="0.45"/>
<polygon points="384.69,42.66 388.15,41.73 383.08,39.09 379.60,39.93" fill="#f8ce11" stroke="#000" stroke-opacity="0.5" stroke-width="0.45"/>
<polygon points="425.73,52.33 428.90,51.85 423.70,50.42 420.50,50.81" fill="#c1f21f" stroke="#000" stroke-opacity="0.5" stroke-width="0.45"/>
<polygon points="370.99,38.11 374.54,37.04 369.50,33.99 365.92,34.97" fill="#f89008" stroke="#000" stroke-opacity="0.5" stroke-width="0.45"/>
<polygon points="439.45,54.23 442.52,53.92 437.25,52.89 434.15,53.13" fill="#a5f21f" stroke="#000" stroke-opacity="0.5" stroke-width="0.45"/>
<polygon points="453.21,55.48 456.18,55.33 450.84,54.71 447.84,54.78" fill="#94f21f" stroke="#000" stroke-opacity="0.5" stroke-width="0.45"/>
<polygon points="403.53,48.71 406.87,47.85 401.74,45.76 398.37,46.54" fill="#eaf11d" stroke="#000" stroke-opacity="0.5" stroke-width="0.45"/>
<polygon points="389.81,45.23 393.24,44.22 388.15,41.73 384.69,42.66" fill="#f6e115" stroke="#000" stroke-opacity="0.5" stroke-width="0.45"/>
<polygon points="417.26,51.52 420.50,50.81 415.31,49.14 412.05,49.77" fill="#d3f21f" stroke="#000" stroke-opacity="0.5" stroke-width="0.45"/>
<polygon points="376.08,41.09 379.60,39.93 374.54,37.04 370.99,38.11" fill="#f8ab0e" stroke="#000" stroke-opacity="0.5" stroke-width="0.45"/>
<polygon points="467.03,56.07 469.90,56.09 464.47,55.88 461.58,55.79" fill="#8ef21f" stroke="#000" stroke-opacity="0.5" stroke-width="0.45"/>
<polygon points="431.00,53.68 434.15,53.13 428.90,51.85 425.73,52.33" fill="#bff21f" stroke="#000" stroke-opacity="0.5" stroke-width="0.45"/>
<polygon points="444.79,55.17 447.84,54.78 442.52,53.92 439.45,54.23" fill="#aaf21f" stroke="#000" stroke-opacity="0.5" stroke-width="0.45"/>
<polygon points="394.96,47.65 398.37,46.54 393.24,44.22 389.81,45.23" fill="#f4ee19" stroke="#000" stroke-opacity="0.5" stroke-width="0.45"/>
<polygon points="408.73,50.71 412.05,49.77 406.87,47.85 403.53,48.71" fill="#e5f21f" stroke="#000" stroke-opacity="0.5" stroke-width="0.45"/>
<polygon points="381.19,43.91 384.69,42.66 379.60,39.93 376.08,41.09" fill="#f9c314" stroke="#000" stroke-opacity="0.5" stroke-width="0.45"/>
<polygon points="458.63,56.01 461.58,55.79 456.18,55.33 453.21,55.48" fill="#9ff21f" stroke="#000" stroke-opacity="0.5" stroke-width="0.45"/>
<polygon points="422.51,53.12 425.73,52.33 420.50,50.81 417.26,51.52" fill="#cff21f" stroke="#000" stroke-opacity="0.5" stroke-width="0.45"/>
<polygon points="367.40,39.51 370.99,38.11 365.92,34.97 362.31,36.27" fill="#f68909" stroke="#000" stroke-opacity="0.5" stroke-width="0.45"/>
<polygon points="436.32,54.86 439.45,54.23 434.15,53.13 431.00,53.68" fill="#bff21f" stroke="#000" stroke-opacity="0.5" stroke-width="0.45"/>
<polygon points="472.54,56.18 475.39,56.13 469.90,56.09 467.03,56.07" fill="#a0f21f" stroke="#000" stroke-opacity="0.5" stroke-width="0.45"/>
<polygon points="450.18,55.94 453.21,55.48 447.84,54.78 444.79,55.17" fill="#b1f21f" stroke="#000" stroke-opacity="0.5" stroke-width="0.45"/>
<polygon points="386.34,46.58 389.81,45.23 384.69,42.66 381.19,43.91" fill="#f7d719" stroke="#000" stroke-opacity="0.5" stroke-width="0.45"/>
<polygon points="400.15,49.90 403.53,48.71 398.37,46.54 394.96,47.65" fill="#eff01c" stroke="#000" stroke-opacity="0.5" stroke-width="0.45"/>
<polygon points="372.51,42.58 376.08,41.09 370.99,38.11 367.40,39.51" fill="#f8a310" stroke="#000" stroke-opacity="0.5" stroke-width="0.45"/>
<polygon points="413.97,52.56 417.26,51.52 412.05,49.77 408.73,50.71" fill="#dff21f" stroke="#000" stroke-opacity="0.5" stroke-width="0.45"/>
<polygon points="427.81,54.55 431.00,53.68 425.73,52.33 422.51,53.12" fill="#cdf21f" stroke="#000" stroke-opacity="0.5" stroke-width="0.45"/>
<polygon points="464.11,56.36 467.03,56.07 461.58,55.79 458.63,56.01" fill="#aef21f" stroke="#000" stroke-opacity="0.5" stroke-width="0.45"/>
<polygon points="441.69,55.88 444.79,55.17 439.45,54.23 436.32,54.86" fill="#c2f21f" stroke="#000" stroke-opacity="0.5" stroke-width="0.45"/>
<polygon points="391.51,49.08 394.96,47.65 389.81,45.23 386.34,46.58" fill="#f6e81d" stroke="#000" stroke-opacity="0.5" stroke-width="0.45"/>
<polygon points="377.65,45.50 381.19,43.91 376.08,41.09 372.51,42.58" fill="#f9bc17" stroke="#000" stroke-opacity="0.5" stroke-width="0.45"/>
<polygon points="405.37,51.99 408.73,50.71 403.53,48.71 400.15,49.90" fill="#ebf11f" stroke="#000" stroke-opacity="0.5" stroke-width="0.45"/>
<polygon points="478.12,56.11 480.94,56.00 475.39,56.13 472.54,56.18" fill="#b5f21f" stroke="#000" stroke-opacity="0.5" stroke-width="0.45"/>
<polygon points="363.77,41.24 367.40,39.51 362.31,36.27 358.66,37.91" fill="#f5860b" stroke="#000" stroke-opacity="0.5" stroke-width="0.45"/>
<polygon points="455.63,56.54 458.63,56.01 453.21,55.48 450.18,55.94" fill="#bbf21f" stroke="#000" stroke-opacity="0.5" stroke-width="0.45"/>
<polygon points="419.24,54.23 422.51,53.12 417.26,51.52 413.97,52.56" fill="#daf21f" stroke="#000" stroke-opacity="0.5" stroke-width="0.45"/>
<polygon points="433.15,55.81 436.32,54.86 431.00,53.68 427.81,54.55" fill="#cdf21f" stroke="#000" stroke-opacity="0.5" stroke-width="0.45"/>
<polygon points="469.65,56.54 472.54,56.18 467.03,56.07 464.11,56.36" fill="#bff21f" stroke="#000" stroke-opacity="0.5" stroke-width="0.45"/>
<polygon points="382.82,48.25 386.34,46.58 381.19,43.91 377.65,45.50" fill="#f8d21d" stroke="#000" stroke-opacity="0.5" stroke-width="0.45"/>
<polygon points="396.72,51.42 400.15,49.90 394.96,47.65 391.51,49.08" fill="#f3ef21" stroke="#000" stroke-opacity="0.5" stroke-width="0.45"/>
<polygon points="368.91,44.41 372.51,42.58 367.40,39.51 363.77,41.24" fill="#f9a013" stroke="#000" stroke-opacity="0.5" stroke-width="0.45"/>
<polygon points="447.11,56.73 450.18,55.94 444.79,55.17 441.69,55.88" fill="#c6f21f" stroke="#000" stroke-opacity="0.5" stroke-width="0.45"/>
<polygon points="410.63,53.92 413.97,52.56 408.73,50.71 405.37,51.99" fill="#e8f221" stroke="#000" stroke-opacity="0.5" stroke-width="0.45"/>
<polygon points="424.56,55.75 427.81,54.55 422.51,53.12 419.24,54.23" fill="#d7f21f" stroke="#000" stroke-opacity="0.5" stroke-width="0.45"/>
<polygon points="461.13,56.97 464.11,56.36 458.63,56.01 455.63,56.54" fill="#c5f21f" stroke="#000" stroke-opacity="0.5" stroke-width="0.45"/>
<polygon points="483.76,55.87 486.55,55.68 480.94,56.00 478.12,56.11" fill="#c8f21f" stroke="#000" stroke-opacity="0.5" stroke-width="0.45"/>
<polygon points="438.54,56.91 441.69,55.88 436.32,54.86 433.15,55.81" fill="#cef21f" stroke="#000" stroke-opacity="0.5" stroke-width="0.45"/>
<polygon points="388.02,50.84 391.51,49.08 386.34,46.58 382.82,48.25" fill="#f7e322" stroke="#000" stroke-opacity="0.5" stroke-width="0.45"/>
<polygon points="374.08,47.42 377.65,45.50 372.51,42.58 368.91,44.41" fill="#f9ba1a" stroke="#000" stroke-opacity="0.5" stroke-width="0.45"/>
<polygon points="401.97,53.60 405.37,51.99 400.15,49.90 396.72,51.42" fill="#eef124" stroke="#000" stroke-opacity="0.5" stroke-width="0.45"/>
<polygon points="360.11,43.32 363.77,41.24 358.66,37.91 354.97,39.89" fill="#f5870d" stroke="#000" stroke-opacity="0.5" stroke-width="0.45"/>
<polygon points="415.93,55.68 419.24,54.23 413.97,52.56 410.63,53.92" fill="#e3f221" stroke="#000" stroke-opacity="0.5" stroke-width="0.45"/>
<polygon points="475.25,56.54 478.12,56.11 472.54,56.18 469.65,56.54" fill="#ccf21f" stroke="#000" stroke-opacity="0.5" stroke-width="0.45"/>
<polygon points="452.58,57.40 455.63,56.54 450.18,55.94 447.11,56.73" fill="#cbf21f" stroke="#000" stroke-opacity="0.5" stroke-width="0.45"/>
<polygon points="429.93,57.09 433.15,55.81 427.81,54.55 424.56,55.75" fill="#d6f21f" stroke="#000" stroke-opacity="0.5" stroke-width="0.45"/>
<polygon points="379.27,50.27 382.82,48.25 377.65,45.50 374.08,47.42" fill="#f8d021" stroke="#000" stroke-opacity="0.5" stroke-width="0.45"/>
<polygon points="365.27,46.58 368.91,44.41 363.77,41.24 360.11,43.32" fill="#f9a116" stroke="#000" stroke-opacity="0.5" stroke-width="0.45"/>
<polygon points="393.26,53.28 396.72,51.42 391.51,49.08 388.02,50.84" fill="#f5ef27" stroke="#000" stroke-opacity="0.5" stroke-width="0.45"/>
<polygon points="466.69,57.22 469.65,56.54 464.11,56.36 461.13,56.97" fill="#cff21f" stroke="#000" stroke-opacity="0.5" stroke-width="0.45"/>
<polygon points="407.25,55.61 410.63,53.92 405.37,51.99 401.97,53.60" fill="#ebf226" stroke="#000" stroke-opacity="0.5" stroke-width="0.45"/>
<polygon points="443.98,57.84 447.11,56.73 441.69,55.88 438.54,56.91" fill="#d1f21f" stroke="#000" stroke-opacity="0.5" stroke-width="0.45"/>
<polygon points="489.47,55.44 492.23,55.19 486.55,55.68 483.76,55.87" fill="#d9f21f" stroke="#000" stroke-opacity="0.5" stroke-width="0.45"/>
<polygon points="421.27,57.28 424.56,55.75 419.24,54.23 415.93,55.68" fill="#dff222" stroke="#000" stroke-opacity="0.5" stroke-width="0.45"/>
<polygon points="458.10,57.91 461.13,56.97 455.63,56.54 452.58,57.40" fill="#d3f21f" stroke="#000" stroke-opacity="0.5" stroke-width="0.45"/>
<polygon points="370.46,49.68 374.08,47.42 368.91,44.41 365.27,46.58" fill="#f9bc1f" stroke="#000" stroke-opacity="0.5" stroke-width="0.45"/>
<polygon points="384.49,52.95 388.02,50.84 382.82,48.25 379.27,50.27" fill="#f7e228" stroke="#000" stroke-opacity="0.5" stroke-width="0.45"/>
<polygon points="480.91,56.37 483.76,55.87 478.12,56.11 475.25,56.54" fill="#daf21f" stroke="#000" stroke-opacity="0.5" stroke-width="0.45"/>
<polygon points="356.41,45.74 360.11,43.32 354.97,39.89 351.25,42.22" fill="#f68b11" stroke="#000" stroke-opacity="0.5" stroke-width="0.45"/>
<polygon points="435.34,58.27 438.54,56.91 433.15,55.81 429.93,57.09" fill="#d7f21f" stroke="#000" stroke-opacity="0.5" stroke-width="0.45"/>
<polygon points="398.52,55.54 401.97,53.60 396.72,51.42 393.26,53.28" fill="#f0f12a" stroke="#000" stroke-opacity="0.5" stroke-width="0.45"/>
<polygon points="412.57,57.46 415.93,55.68 410.63,53.92 407.25,55.61" fill="#e8f228" stroke="#000" stroke-opacity="0.5" stroke-width="0.45"/>
<polygon points="449.47,58.59 452.58,57.40 447.11,56.73 443.98,57.84" fill="#d6f21f" stroke="#000" stroke-opacity="0.5" stroke-width="0.45"/>
<polygon points="472.32,57.30 475.25,56.54 469.65,56.54 466.69,57.22" fill="#dbf21f" stroke="#000" stroke-opacity="0.5" stroke-width="0.45"/>
<polygon points="426.66,58.71 429.93,57.09 424.56,55.75 421.27,57.28" fill="#ddf222" stroke="#000" stroke-opacity="0.5" stroke-width="0.45"/>
<polygon points="375.68,52.62 379.27,50.27 374.08,47.42 370.46,49.68" fill="#f9d327" stroke="#000" stroke-opacity="0.5" stroke-width="0.45"/>
<polygon points="361.60,49.10 365.27,46.58 360.11,43.32 356.41,45.74" fill="#f9a71b" stroke="#000" stroke-opacity="0.5" stroke-width="0.45"/>
<polygon points="495.24,54.82 497.99,54.51 492.23,55.19 489.47,55.44" fill="#e9f11e" stroke="#000" stroke-opacity="0.5" stroke-width="0.45"/>
<polygon points="389.75,55.47 393.26,53.28 388.02,50.84 384.49,52.95" fill="#f5f02d" stroke="#000" stroke-opacity="0.5" stroke-width="0.45"/>
<polygon points="403.83,57.65 407.25,55.61 401.97,53.60 398.52,55.54" fill="#ecf22c" stroke="#000" stroke-opacity="0.5" stroke-width="0.45"/>
<polygon points="463.69,58.23 466.69,57.22 461.13,56.97 458.10,57.91" fill="#dcf21f" stroke="#000" stroke-opacity="0.5" stroke-width="0.45"/>
<polygon points="440.80,59.28 443.98,57.84 438.54,56.91 435.34,58.27" fill="#d9f21f" stroke="#000" stroke-opacity="0.5" stroke-width="0.45"/>
<polygon points="486.64,56.01 489.47,55.44 483.76,55.87 480.91,56.37" fill="#e8f21e" stroke="#000" stroke-opacity="0.5" stroke-width="0.45"/>
<polygon points="417.94,59.15 421.27,57.28 415.93,55.68 412.57,57.46" fill="#e4f228" stroke="#000" stroke-opacity="0.5" stroke-width="0.45"/>
<polygon points="366.81,52.30 370.46,49.68 365.27,46.58 361.60,49.10" fill="#f9c225" stroke="#000" stroke-opacity="0.5" stroke-width="0.45"/>
<polygon points="380.92,55.40 384.49,52.95 379.27,50.27 375.68,52.62" fill="#f7e52e" stroke="#000" stroke-opacity="0.5" stroke-width="0.45"/>
<polygon points="352.68,48.51 356.41,45.74 351.25,42.22 347.50,44.89" fill="#f79216" stroke="#000" stroke-opacity="0.5" stroke-width="0.45"/>
<polygon points="455.02,59.17 458.10,57.91 452.58,57.40 449.47,58.59" fill="#ddf21f" stroke="#000" stroke-opacity="0.5" stroke-width="0.45"/>
<polygon points="395.04,57.83 398.52,55.54 393.26,53.28 389.75,55.47" fill="#f1f130" stroke="#000" stroke-opacity="0.5" stroke-width="0.45"/>
<polygon points="432.09,59.97 435.34,58.27 429.93,57.09 426.66,58.71" fill="#ddf222" stroke="#000" stroke-opacity="0.5" stroke-width="0.45"/>
<polygon points="478.00,57.19 480.91,56.37 475.25,56.54 472.32,57.30" fill="#e8f21e" stroke="#000" stroke-opacity="0.5" stroke-width="0.45"/>
<polygon points="409.17,59.59 412.57,57.46 407.25,55.61 403.83,57.65" fill="#eaf32e" stroke="#000" stroke-opacity="0.5" stroke-width="0.45"/>
<polygon points="501.09,54.02 503.81,53.64 497.99,54.51 495.24,54.82" fill="#f2ef18" stroke="#000" stroke-opacity="0.5" stroke-width="0.45"/>
<polygon points="446.32,60.12 449.47,58.59 443.98,57.84 440.80,59.28" fill="#def21f" stroke="#000" stroke-opacity="0.5" stroke-width="0.45"/>
<polygon points="357.89,51.96 361.60,49.10 356.41,45.74 352.68,48.51" fill="#f9b122" stroke="#000" stroke-opacity="0.5" stroke-width="0.45"/>
<polygon points="372.05,55.33 375.68,52.62 370.46,49.68 366.81,52.30" fill="#f8d92e" stroke="#000" stroke-opacity="0.5" stroke-width="0.45"/>
<polygon points="423.35,60.67 426.66,58.71 421.27,57.28 417.94,59.15" fill="#e2f229" stroke="#000" stroke-opacity="0.5" stroke-width="0.45"/>
<polygon points="469.33,58.38 472.32,57.30 466.69,57.22 463.69,58.23" fill="#e6f21f" stroke="#000" stroke-opacity="0.5" stroke-width="0.45"/>
<polygon points="386.20,58.02 389.75,55.47 384.49,52.95 380.92,55.40" fill="#f4f034" stroke="#000" stroke-opacity="0.5" stroke-width="0.45"/>
<polygon points="400.36,60.03 403.83,57.65 398.52,55.54 395.04,57.83" fill="#edf233" stroke="#000" stroke-opacity="0.5" stroke-width="0.45"/>
<polygon points="492.44,55.46 495.24,54.82 489.47,55.44 486.64,56.01" fill="#f0ef19" stroke="#000" stroke-opacity="0.5" stroke-width="0.45"/>
<polygon points="437.58,61.06 440.80,59.28 435.34,58.27 432.09,59.97" fill="#dff222" stroke="#000" stroke-opacity="0.5" stroke-width="0.45"/>
<polygon points="460.63,59.58 463.69,58.23 458.10,57.91 455.02,59.17" fill="#e5f21f" stroke="#000" stroke-opacity="0.5" stroke-width="0.45"/>
<polygon points="414.56,61.36 417.94,59.15 412.57,57.46 409.17,59.59" fill="#e6f32f" stroke="#000" stroke-opacity="0.5" stroke-width="0.45"/>
<polygon points="363.13,55.26 366.81,52.30 361.60,49.10 357.89,51.96" fill="#f9cc2d" stroke="#000" stroke-opacity="0.5" stroke-width="0.45"/>
<polygon points="348.92,51.63 352.68,48.51 347.50,44.89 343.71,47.91" fill="#f99e1e" stroke="#000" stroke-opacity="0.5" stroke-width="0.45"/>
<polygon points="377.31,58.21 380.92,55.40 375.68,52.62 372.05,55.33" fill="#f7eb36" stroke="#000" stroke-opacity="0.5" stroke-width="0.45"/>
<polygon points="483.76,56.90 486.64,56.01 480.91,56.37 478.00,57.19" fill="#eff01a" stroke="#000" stroke-opacity="0.5" stroke-width="0.45"/>
<polygon points="391.51,60.47 395.04,57.83 389.75,55.47 386.20,58.02" fill="#f0f238" stroke="#000" stroke-opacity="0.5" stroke-width="0.45"/>
<polygon points="428.80,62.01 432.09,59.97 426.66,58.71 423.35,60.67" fill="#e1f229" stroke="#000" stroke-opacity="0.5" stroke-width="0.45"/>
<polygon points="451.89,60.78 455.02,59.17 449.47,58.59 446.32,60.12" fill="#e4f21f" stroke="#000" stroke-opacity="0.5" stroke-width="0.45"/>
<polygon points="405.73,62.06 409.17,59.59 403.83,57.65 400.36,60.03" fill="#eaf335" stroke="#000" stroke-opacity="0.5" stroke-width="0.45"/>
<polygon points="507.02,53.03 509.71,52.59 503.81,53.64 501.09,54.02" fill="#f7d913" stroke="#000" stroke-opacity="0.5" stroke-width="0.45"/>
<polygon points="475.04,58.35 478.00,57.19 472.32,57.30 469.33,58.38" fill="#edf01b" stroke="#000" stroke-opacity="0.5" stroke-width="0.45"/>
<polygon points="354.15,55.19 357.89,51.96 352.68,48.51 348.92,51.63" fill="#f9bf2b" stroke="#000" stroke-opacity="0.5" stroke-width="0.45"/>
<polygon points="368.38,58.39 372.05,55.33 366.81,52.30 363.13,55.26" fill="#f8e237" stroke="#000" stroke-opacity="0.5" stroke-width="0.45"/>
<polygon points="382.61,60.92 386.20,58.02 380.92,55.40 377.31,58.21" fill="#f2f13c" stroke="#000" stroke-opacity="0.5" stroke-width="0.45"/>
<polygon points="443.11,61.98 446.32,60.12 440.80,59.28 437.58,61.06" fill="#e3f222" stroke="#000" stroke-opacity="0.5" stroke-width="0.45"/>
<polygon points="419.99,62.97 423.35,60.67 417.94,59.15 414.56,61.36" fill="#e3f32f" stroke="#000" stroke-opacity="0.5" stroke-width="0.45"/>
<polygon points="498.32,54.72 501.09,54.02 495.24,54.82 492.44,55.46" fill="#f6e114" stroke="#000" stroke-opacity="0.5" stroke-width="0.45"/>
<polygon points="466.30,59.81 469.33,58.38 463.69,58.23 460.63,59.58" fill="#ebf11d" stroke="#000" stroke-opacity="0.5" stroke-width="0.45"/>
<polygon points="396.86,62.76 400.36,60.03 395.04,57.83 391.51,60.47" fill="#ecf33a" stroke="#000" stroke-opacity="0.5" stroke-width="0.45"/>
<polygon points="345.13,55.11 348.92,51.63 343.71,47.91 339.90,51.29" fill="#f9b127" stroke="#000" stroke-opacity="0.5" stroke-width="0.45"/>
<polygon points="359.41,58.58 363.13,55.26 357.89,51.96 354.15,55.19" fill="#f9d937" stroke="#000" stroke-opacity="0.5" stroke-width="0.45"/>
<polygon points="489.58,56.43 492.44,55.46 486.64,56.01 483.76,56.90" fill="#f5e916" stroke="#000" stroke-opacity="0.5" stroke-width="0.45"/>
<polygon points="434.31,63.19 437.58,61.06 432.09,59.97 428.80,62.01" fill="#e2f229" stroke="#000" stroke-opacity="0.5" stroke-width="0.45"/>
<polygon points="411.13,63.93 414.56,61.36 409.17,59.59 405.73,62.06" fill="#e5f336" stroke="#000" stroke-opacity="0.5" stroke-width="0.45"/>
<polygon points="373.67,61.37 377.31,58.21 372.05,55.33 368.38,58.39" fill="#f5f13f" stroke="#000" stroke-opacity="0.5" stroke-width="0.45"/>
<polygon points="457.52,61.27 460.63,59.58 455.02,59.17 451.89,60.78" fill="#e9f11e" stroke="#000" stroke-opacity="0.5" stroke-width="0.45"/>
<polygon points="387.94,63.47 391.51,60.47 386.20,58.02 382.61,60.92" fill="#eef33f" stroke="#000" stroke-opacity="0.5" stroke-width="0.45"/>
<polygon points="480.82,58.14 483.76,56.90 478.00,57.19 475.04,58.35" fill="#f4ee18" stroke="#000" stroke-opacity="0.5" stroke-width="0.45"/>
<polygon points="425.46,64.41 428.80,62.01 423.35,60.67 419.99,62.97" fill="#e2f330" stroke="#000" stroke-opacity="0.5" stroke-width="0.45"/>
<polygon points="448.71,62.73 451.89,60.78 446.32,60.12 443.11,61.98" fill="#e8f222" stroke="#000" stroke-opacity="0.5" stroke-width="0.45"/>
<polygon points="402.24,64.89 405.73,62.06 400.36,60.03 396.86,62.76" fill="#e7f43c" stroke="#000" stroke-opacity="0.5" stroke-width="0.45"/>
<polygon points="350.38,58.77 354.15,55.19 348.92,51.63 345.13,55.11" fill="#f9d036" stroke="#000" stroke-opacity="0.5" stroke-width="0.45"/>
<polygon points="364.69,61.82 368.38,58.39 363.13,55.26 359.41,58.58" fill="#f7ef42" stroke="#000" stroke-opacity="0.5" stroke-width="0.45"/>
<polygon points="472.03,59.85 475.04,58.35 469.33,58.38 466.30,59.81" fill="#f1ef19" stroke="#000" stroke-opacity="0.5" stroke-width="0.45"/>
<polygon points="378.99,64.18 382.61,60.92 377.31,58.21 373.67,61.37" fill="#eff344" stroke="#000" stroke-opacity="0.5" stroke-width="0.45"/>
<polygon points="504.27,53.80 507.02,53.03 501.09,54.02 498.32,54.72" fill="#f8c50f" stroke="#000" stroke-opacity="0.5" stroke-width="0.45"/>
<polygon points="416.58,65.62 419.99,62.97 414.56,61.36 411.13,63.93" fill="#e1f336" stroke="#000" stroke-opacity="0.5" stroke-width="0.45"/>
<polygon points="439.86,64.20 443.11,61.98 437.58,61.06 434.31,63.19" fill="#e5f229" stroke="#000" stroke-opacity="0.5" stroke-width="0.45"/>
<polygon points="393.31,65.85 396.86,62.76 391.51,60.47 387.94,63.47" fill="#e8f442" stroke="#000" stroke-opacity="0.5" stroke-width="0.45"/>
<polygon points="463.21,61.57 466.30,59.81 460.63,59.58 457.52,61.27" fill="#eef01b" stroke="#000" stroke-opacity="0.5" stroke-width="0.45"/>
<polygon points="341.31,58.96 345.13,55.11 339.90,51.29 336.06,55.04" fill="#f9c634" stroke="#000" stroke-opacity="0.5" stroke-width="0.45"/>
<polygon points="495.48,55.76 498.32,54.72 492.44,55.46 489.58,56.43" fill="#f8d111" stroke="#000" stroke-opacity="0.5" stroke-width="0.45"/>
<polygon points="355.66,62.27 359.41,58.58 354.15,55.19 350.38,58.77" fill="#f8e943" stroke="#000" stroke-opacity="0.5" stroke-width="0.45"/>
<polygon points="370.00,64.89 373.67,61.37 368.38,58.39 364.69,61.82" fill="#f1f348" stroke="#000" stroke-opacity="0.5" stroke-width="0.45"/>
<polygon points="407.67,66.84 411.13,63.93 405.73,62.06 402.24,64.89" fill="#e1f43c" stroke="#000" stroke-opacity="0.5" stroke-width="0.45"/>
<polygon points="430.99,65.67 434.31,63.19 428.80,62.01 425.46,64.41" fill="#e2f330" stroke="#000" stroke-opacity="0.5" stroke-width="0.45"/>
<polygon points="384.34,66.82 387.94,63.47 382.61,60.92 378.99,64.18" fill="#eaf447" stroke="#000" stroke-opacity="0.5" stroke-width="0.45"/>
<polygon points="486.67,57.74 489.58,56.43 483.76,56.90 480.82,58.14" fill="#f7dd13" stroke="#000" stroke-opacity="0.5" stroke-width="0.45"/>
<polygon points="454.36,63.30 457.52,61.27 451.89,60.78 448.71,62.73" fill="#ebf121" stroke="#000" stroke-opacity="0.5" stroke-width="0.45"/>
<polygon points="346.58,62.72 350.38,58.77 345.13,55.11 341.31,58.96" fill="#f8e343" stroke="#000" stroke-opacity="0.5" stroke-width="0.45"/>
<polygon points="422.08,67.15 425.46,64.41 419.99,62.97 416.58,65.62" fill="#e0f336" stroke="#000" stroke-opacity="0.5" stroke-width="0.45"/>
<polygon points="398.71,68.07 402.24,64.89 396.86,62.76 393.31,65.85" fill="#e1f442" stroke="#000" stroke-opacity="0.5" stroke-width="0.45"/>
<polygon points="360.96,65.60 364.69,61.82 359.41,58.58 355.66,62.27" fill="#f3f34c" stroke="#000" stroke-opacity="0.5" stroke-width="0.45"/>
<polygon points="477.83,59.72 480.82,58.14 475.04,58.35 472.03,59.85" fill="#f6e816" stroke="#000" stroke-opacity="0.5" stroke-width="0.45"/>
<polygon points="445.47,65.03 448.71,62.73 443.11,61.98 439.86,64.20" fill="#e9f229" stroke="#000" stroke-opacity="0.5" stroke-width="0.45"/>
<polygon points="375.33,67.79 378.99,64.18 373.67,61.37 370.00,64.89" fill="#ebf44c" stroke="#000" stroke-opacity="0.5" stroke-width="0.45"/>
<polygon points="413.13,68.63 416.58,65.62 411.13,63.93 407.67,66.84" fill="#ddf43c" stroke="#000" stroke-opacity="0.5" stroke-width="0.45"/>
<polygon points="468.96,61.70 472.03,59.85 466.30,59.81 463.21,61.57" fill="#f3ee18" stroke="#000" stroke-opacity="0.5" stroke-width="0.45"/>
<polygon points="389.73,69.30 393.31,65.85 387.94,63.47 384.34,66.82" fill="#e1f447" stroke="#000" stroke-opacity="0.5" stroke-width="0.45"/>
<polygon points="337.46,63.17 341.31,58.96 336.06,55.04 332.19,59.15" fill="#f9dd43" stroke="#000" stroke-opacity="0.5" stroke-width="0.45"/>
<polygon points="436.56,66.77 439.86,64.20 434.31,63.19 430.99,65.67" fill="#e4f330" stroke="#000" stroke-opacity="0.5" stroke-width="0.45"/>
<polygon points="351.88,66.32 355.66,62.27 350.38,58.77 346.58,62.72" fill="#f4f34f" stroke="#000" stroke-opacity="0.5" stroke-width="0.45"/>
<polygon points="501.46,54.91 504.27,53.80 498.32,54.72 495.48,55.76" fill="#f8b40c" stroke="#000" stroke-opacity="0.5" stroke-width="0.45"/>
<polygon points="366.29,68.77 370.00,64.89 364.69,61.82 360.96,65.60" fill="#edf551" stroke="#000" stroke-opacity="0.5" stroke-width="0.45"/>
<polygon points="460.07,63.69 463.21,61.57 457.52,61.27 454.36,63.30" fill="#eff01e" stroke="#000" stroke-opacity="0.5" stroke-width="0.45"/>
<polygon points="404.16,70.12 407.67,66.84 402.24,64.89 398.71,68.07" fill="#dbf442" stroke="#000" stroke-opacity="0.5" stroke-width="0.45"/>
<polygon points="492.59,57.15 495.48,55.76 489.58,56.43 486.67,57.74" fill="#f8c50f" stroke="#000" stroke-opacity="0.5" stroke-width="0.45"/>
<polygon points="427.62,68.51 430.99,65.67 425.46,64.41 422.08,67.15" fill="#dff336" stroke="#000" stroke-opacity="0.5" stroke-width="0.45"/>
<polygon points="380.70,70.54 384.34,66.82 378.99,64.18 375.33,67.79" fill="#e0f54d" stroke="#000" stroke-opacity="0.5" stroke-width="0.45"/>
<polygon points="342.76,67.03 346.58,62.72 341.31,58.96 337.46,63.17" fill="#f6f252" stroke="#000" stroke-opacity="0.5" stroke-width="0.45"/>
<polygon points="451.14,65.68 454.36,63.30 448.71,62.73 445.47,65.03" fill="#ecf127" stroke="#000" stroke-opacity="0.5" stroke-width="0.45"/>
<polygon points="357.20,69.75 360.96,65.60 355.66,62.27 351.88,66.32" fill="#edf555" stroke="#000" stroke-opacity="0.5" stroke-width="0.45"/>
<polygon points="483.70,59.39 486.67,57.74 480.82,58.14 477.83,59.72" fill="#f7d412" stroke="#000" stroke-opacity="0.5" stroke-width="0.45"/>
<polygon points="395.15,71.62 398.71,68.07 393.31,65.85 389.73,69.30" fill="#d9f448" stroke="#000" stroke-opacity="0.5" stroke-width="0.45"/>
<polygon points="418.65,70.25 422.08,67.15 416.58,65.62 413.13,68.63" fill="#dbf43c" stroke="#000" stroke-opacity="0.5" stroke-width="0.45"/>
<polygon points="371.64,71.78 375.33,67.79 370.00,64.89 366.29,68.77" fill="#e0f551" stroke="#000" stroke-opacity="0.5" stroke-width="0.45"/>
<polygon points="442.19,67.69 445.47,65.03 439.86,64.20 436.56,66.77" fill="#e8f330" stroke="#000" stroke-opacity="0.5" stroke-width="0.45"/>
<polygon points="474.78,61.64 477.83,59.72 472.03,59.85 468.96,61.70" fill="#f6e215" stroke="#000" stroke-opacity="0.5" stroke-width="0.45"/>
<polygon points="333.59,67.76 337.46,63.17 332.19,59.15 328.30,63.63" fill="#f7f254" stroke="#000" stroke-opacity="0.5" stroke-width="0.45"/>
<polygon points="348.07,70.73 351.88,66.32 346.58,62.72 342.76,67.03" fill="#eef558" stroke="#000" stroke-opacity="0.5" stroke-width="0.45"/>
<polygon points="409.65,72.01 413.13,68.63 407.67,66.84 404.16,70.12" fill="#d7f442" stroke="#000" stroke-opacity="0.5" stroke-width="0.45"/>
<polygon points="386.11,73.12 389.73,69.30 384.34,66.82 380.70,70.54" fill="#d7f54d" stroke="#000" stroke-opacity="0.5" stroke-width="0.45"/>
<polygon points="433.22,69.69 436.56,66.77 430.99,65.67 427.62,68.51" fill="#e1f336" stroke="#000" stroke-opacity="0.5" stroke-width="0.45"/>
<polygon points="362.55,73.02 366.29,68.77 360.96,65.60 357.20,69.75" fill="#e0f556" stroke="#000" stroke-opacity="0.5" stroke-width="0.45"/>
<polygon points="465.84,63.90 468.96,61.70 463.21,61.57 460.07,63.69" fill="#f4ee1c" stroke="#000" stroke-opacity="0.5" stroke-width="0.45"/>
<polygon points="400.61,73.77 404.16,70.12 398.71,68.07 395.15,71.62" fill="#d3f448" stroke="#000" stroke-opacity="0.5" stroke-width="0.45"/>
<polygon points="498.59,56.36 501.46,54.91 495.48,55.76 492.59,57.15" fill="#f8a80a" stroke="#000" stroke-opacity="0.5" stroke-width="0.45"/>
<polygon points="377.03,74.62 380.70,70.54 375.33,67.79 371.64,71.78" fill="#d5f552" stroke="#000" stroke-opacity="0.5" stroke-width="0.45"/>
<polygon points="456.87,66.16 460.07,63.69 454.36,63.30 451.14,65.68" fill="#eff025" stroke="#000" stroke-opacity="0.5" stroke-width="0.45"/>
<polygon points="338.91,71.72 342.76,67.03 337.46,63.17 333.59,67.76" fill="#eff55c" stroke="#000" stroke-opacity="0.5" stroke-width="0.45"/>
<polygon points="424.21,71.70 427.62,68.51 422.08,67.15 418.65,70.25" fill="#daf43d" stroke="#000" stroke-opacity="0.5" stroke-width="0.45"/>
<polygon points="353.41,74.27 357.20,69.75 351.88,66.32 348.07,70.73" fill="#e0f55a" stroke="#000" stroke-opacity="0.5" stroke-width="0.45"/>
<polygon points="489.64,58.88 492.59,57.15 486.67,57.74 483.70,59.39" fill="#f8bc0d" stroke="#000" stroke-opacity="0.5" stroke-width="0.45"/>
<polygon points="391.55,75.53 395.15,71.62 389.73,69.30 386.11,73.12" fill="#cff54d" stroke="#000" stroke-opacity="0.5" stroke-width="0.45"/>
<polygon points="447.88,68.43 451.14,65.68 445.47,65.03 442.19,67.69" fill="#ebf22f" stroke="#000" stroke-opacity="0.5" stroke-width="0.45"/>
<polygon points="367.92,76.13 371.64,71.78 366.29,68.77 362.55,73.02" fill="#d4f556" stroke="#000" stroke-opacity="0.5" stroke-width="0.45"/>
<polygon points="415.18,73.72 418.65,70.25 413.13,68.63 409.65,72.01" fill="#d4f443" stroke="#000" stroke-opacity="0.5" stroke-width="0.45"/>
<polygon points="480.67,61.40 483.70,59.39 477.83,59.72 474.78,61.64" fill="#f8cf11" stroke="#000" stroke-opacity="0.5" stroke-width="0.45"/>
<polygon points="329.70,72.71 333.59,67.76 328.30,63.63 324.38,68.48" fill="#f0f55f" stroke="#000" stroke-opacity="0.5" stroke-width="0.45"/>
<polygon points="344.24,75.52 348.07,70.73 342.76,67.03 338.91,71.72" fill="#dff55d" stroke="#000" stroke-opacity="0.5" stroke-width="0.45"/>
<polygon points="438.87,70.70 442.19,67.69 436.56,66.77 433.22,69.69" fill="#e4f336" stroke="#000" stroke-opacity="0.5" stroke-width="0.45"/>
<polygon points="382.45,77.30 386.11,73.12 380.70,70.54 377.03,74.62" fill="#caf552" stroke="#000" stroke-opacity="0.5" stroke-width="0.45"/>
<polygon points="406.12,75.75 409.65,72.01 404.16,70.12 400.61,73.77" fill="#cef448" stroke="#000" stroke-opacity="0.5" stroke-width="0.45"/>
<polygon points="471.68,63.92 474.78,61.64 468.96,61.70 465.84,63.90" fill="#f6e118" stroke="#000" stroke-opacity="0.5" stroke-width="0.45"/>
<polygon points="358.78,77.64 362.55,73.02 357.20,69.75 353.41,74.27" fill="#d2f55a" stroke="#000" stroke-opacity="0.5" stroke-width="0.45"/>
<polygon points="429.82,72.98 433.22,69.69 427.62,68.51 424.21,71.70" fill="#dbf43d" stroke="#000" stroke-opacity="0.5" stroke-width="0.45"/>
<polygon points="335.03,76.78 338.91,71.72 333.59,67.76 329.70,72.71" fill="#dff660" stroke="#000" stroke-opacity="0.5" stroke-width="0.45"/>
<polygon points="462.66,66.46 465.84,63.90 460.07,63.69 456.87,66.16" fill="#f4ef23" stroke="#000" stroke-opacity="0.5" stroke-width="0.45"/>
<polygon points="373.33,79.07 377.03,74.62 371.64,71.78 367.92,76.13" fill="#c4f557" stroke="#000" stroke-opacity="0.5" stroke-width="0.45"/>
<polygon points="397.03,77.78 400.61,73.77 395.15,71.62 391.55,75.53" fill="#c6f54d" stroke="#000" stroke-opacity="0.5" stroke-width="0.45"/>
<polygon points="349.60,79.16 353.41,74.27 348.07,70.73 344.24,75.52" fill="#cff65e" stroke="#000" stroke-opacity="0.5" stroke-width="0.45"/>
<polygon points="420.76,75.27 424.21,71.70 418.65,70.25 415.18,73.72" fill="#d3f443" stroke="#000" stroke-opacity="0.5" stroke-width="0.45"/>
<polygon points="453.63,68.99 456.87,66.16 451.14,65.68 447.88,68.43" fill="#eef12d" stroke="#000" stroke-opacity="0.5" stroke-width="0.45"/>
<polygon points="495.66,58.17 498.59,56.36 492.59,57.15 489.64,58.88" fill="#f8a008" stroke="#000" stroke-opacity="0.5" stroke-width="0.45"/>
<polygon points="387.91,79.81 391.55,75.53 386.11,73.12 382.45,77.30" fill="#bdf552" stroke="#000" stroke-opacity="0.5" stroke-width="0.45"/>
<polygon points="364.17,80.85 367.92,76.13 362.55,73.02 358.78,77.64" fill="#bef55b" stroke="#000" stroke-opacity="0.5" stroke-width="0.45"/>
<polygon points="325.79,78.04 329.70,72.71 324.38,68.48 320.45,73.71" fill="#dff663" stroke="#000" stroke-opacity="0.5" stroke-width="0.45"/>
<polygon points="411.67,77.56 415.18,73.72 409.65,72.01 406.12,75.75" fill="#caf448" stroke="#000" stroke-opacity="0.5" stroke-width="0.45"/>
<polygon points="444.57,71.54 447.88,68.43 442.19,67.69 438.87,70.70" fill="#e8f336" stroke="#000" stroke-opacity="0.5" stroke-width="0.45"/>
<polygon points="340.39,80.69 344.24,75.52 338.91,71.72 335.03,76.78" fill="#cbf661" stroke="#000" stroke-opacity="0.5" stroke-width="0.45"/>
<polygon points="486.63,60.96 489.64,58.88 483.70,59.39 480.67,61.40" fill="#f8b80c" stroke="#000" stroke-opacity="0.5" stroke-width="0.45"/>
<polygon points="378.77,81.85 382.45,77.30 377.03,74.62 373.33,79.07" fill="#b4f557" stroke="#000" stroke-opacity="0.5" stroke-width="0.45"/>
<polygon points="354.98,82.64 358.78,77.64 353.41,74.27 349.60,79.16" fill="#b8f65e" stroke="#000" stroke-opacity="0.5" stroke-width="0.45"/>
<polygon points="477.59,63.76 480.67,61.40 474.78,61.64 471.68,63.92" fill="#f8cf14" stroke="#000" stroke-opacity="0.5" stroke-width="0.45"/>
<polygon points="435.49,74.08 438.87,70.70 433.22,69.69 429.82,72.98" fill="#ddf43d" stroke="#000" stroke-opacity="0.5" stroke-width="0.45"/>
<polygon points="402.55,79.86 406.12,75.75 400.61,73.77 397.03,77.78" fill="#bef54e" stroke="#000" stroke-opacity="0.5" stroke-width="0.45"/>
<polygon points="331.14,82.22 335.03,76.78 329.70,72.71 325.79,78.04" fill="#c8f664" stroke="#000" stroke-opacity="0.5" stroke-width="0.45"/>
<polygon points="468.52,66.57 471.68,63.92 465.84,63.90 462.66,66.46" fill="#f6e41f" stroke="#000" stroke-opacity="0.5" stroke-width="0.45"/>
<polygon points="369.59,83.90 373.33,79.07 367.92,76.13 364.17,80.85" fill="#abf55b" stroke="#000" stroke-opacity="0.5" stroke-width="0.45"/>
<polygon points="426.39,76.64 429.82,72.98 424.21,71.70 420.76,75.27" fill="#d3f443" stroke="#000" stroke-opacity="0.5" stroke-width="0.45"/>
<polygon points="345.76,84.43 349.60,79.16 344.24,75.52 340.39,80.69" fill="#b2f662" stroke="#000" stroke-opacity="0.5" stroke-width="0.45"/>
<polygon points="393.41,82.16 397.03,77.78 391.55,75.53 387.91,79.81" fill="#b1f553" stroke="#000" stroke-opacity="0.5" stroke-width="0.45"/>
<polygon points="459.44,69.37 462.66,66.46 456.87,66.16 453.63,68.99" fill="#f2f02a" stroke="#000" stroke-opacity="0.5" stroke-width="0.45"/>
<polygon points="321.85,83.75 325.79,78.04 320.45,73.71 316.50,79.31" fill="#c5f667" stroke="#000" stroke-opacity="0.5" stroke-width="0.45"/>
<polygon points="417.26,79.20 420.76,75.27 415.18,73.72 411.67,77.56" fill="#c7f448" stroke="#000" stroke-opacity="0.5" stroke-width="0.45"/>
<polygon points="360.39,85.95 364.17,80.85 358.78,77.64 354.98,82.64" fill="#a3f55f" stroke="#000" stroke-opacity="0.5" stroke-width="0.45"/>
<polygon points="384.24,84.47 387.91,79.81 382.45,77.30 378.77,81.85" fill="#a6f557" stroke="#000" stroke-opacity="0.5" stroke-width="0.45"/>
<polygon points="336.51,86.23 340.39,80.69 335.03,76.78 331.14,82.22" fill="#adf665" stroke="#000" stroke-opacity="0.5" stroke-width="0.45"/>
<polygon points="450.34,72.19 453.63,68.99 447.88,68.43 444.57,71.54" fill="#ecf335" stroke="#000" stroke-opacity="0.5" stroke-width="0.45"/>
<polygon points="408.12,81.77 411.67,77.56 406.12,75.75 402.55,79.86" fill="#b7f54e" stroke="#000" stroke-opacity="0.5" stroke-width="0.45"/>
<polygon points="492.67,60.33 495.66,58.17 489.64,58.88 486.63,60.96" fill="#f89c08" stroke="#000" stroke-opacity="0.5" stroke-width="0.45"/>
<polygon points="351.16,88.01 354.98,82.64 349.60,79.16 345.76,84.43" fill="#9cf566" stroke="#000" stroke-opacity="0.5" stroke-width="0.45"/>
<polygon points="375.05,86.78 378.77,81.85 373.33,79.07 369.59,83.90" fill="#9cf55e" stroke="#000" stroke-opacity="0.5" stroke-width="0.45"/>
<polygon points="441.21,75.01 444.57,71.54 438.87,70.70 435.49,74.08" fill="#e1f43d" stroke="#000" stroke-opacity="0.5" stroke-width="0.45"/>
<polygon points="327.22,88.03 331.14,82.22 325.79,78.04 321.85,83.75" fill="#a7f668" stroke="#000" stroke-opacity="0.5" stroke-width="0.45"/>
<polygon points="483.57,63.41 486.63,60.96 480.67,61.40 477.59,63.76" fill="#f8b90f" stroke="#000" stroke-opacity="0.5" stroke-width="0.45"/>
<polygon points="398.95,84.34 402.55,79.86 397.03,77.78 393.41,82.16" fill="#a8f553" stroke="#000" stroke-opacity="0.5" stroke-width="0.45"/>
<polygon points="432.07,77.84 435.49,74.08 429.82,72.98 426.39,76.64" fill="#d4f443" stroke="#000" stroke-opacity="0.5" stroke-width="0.45"/>
<polygon points="365.83,89.10 369.59,83.90 364.17,80.85 360.39,85.95" fill="#93f466" stroke="#000" stroke-opacity="0.5" stroke-width="0.45"/>
<polygon points="341.90,90.08 345.76,84.43 340.39,80.69 336.51,86.23" fill="#96f56c" stroke="#000" stroke-opacity="0.5" stroke-width="0.45"/>
<polygon points="474.45,66.49 477.59,63.76 471.68,63.92 468.52,66.57" fill="#f8d31a" stroke="#000" stroke-opacity="0.5" stroke-width="0.45"/>
<polygon points="389.76,86.92 393.41,82.16 387.91,79.81 384.24,84.47" fill="#9bf55a" stroke="#000" stroke-opacity="0.5" stroke-width="0.45"/>
<polygon points="422.91,80.67 426.39,76.64 420.76,75.27 417.26,79.20" fill="#c7f448" stroke="#000" stroke-opacity="0.5" stroke-width="0.45"/>
<polygon points="317.91,89.84 321.85,83.75 316.50,79.31 312.54,85.29" fill="#a3f66d" stroke="#000" stroke-opacity="0.5" stroke-width="0.45"/>
<polygon points="465.32,69.57 468.52,66.57 462.66,66.46 459.44,69.37" fill="#f6eb27" stroke="#000" stroke-opacity="0.5" stroke-width="0.45"/>
<polygon points="356.59,91.43 360.39,85.95 354.98,82.64 351.16,88.01" fill="#8af46e" stroke="#000" stroke-opacity="0.5" stroke-width="0.45"/>
<polygon points="332.61,92.15 336.51,86.23 331.14,82.22 327.22,88.03" fill="#8ff472" stroke="#000" stroke-opacity="0.5" stroke-width="0.45"/>
<polygon points="380.54,89.50 384.24,84.47 378.77,81.85 375.05,86.78" fill="#8ff463" stroke="#000" stroke-opacity="0.5" stroke-width="0.45"/>
<polygon points="413.73,83.51 417.26,79.20 411.67,77.56 408.12,81.77" fill="#b4f54e" stroke="#000" stroke-opacity="0.5" stroke-width="0.45"/>
<polygon points="456.16,72.66 459.44,69.37 453.63,68.99 450.34,72.19" fill="#eff132" stroke="#000" stroke-opacity="0.5" stroke-width="0.45"/>
<polygon points="347.32,93.76 351.16,88.01 345.76,84.43 341.90,90.08" fill="#82f474" stroke="#000" stroke-opacity="0.5" stroke-width="0.45"/>
<polygon points="447.00,75.76 450.34,72.19 444.57,71.54 441.21,75.01" fill="#e6f43c" stroke="#000" stroke-opacity="0.5" stroke-width="0.45"/>
<polygon points="404.53,86.35 408.12,81.77 402.55,79.86 398.95,84.34" fill="#a2f553" stroke="#000" stroke-opacity="0.5" stroke-width="0.45"/>
<polygon points="371.31,92.09 375.05,86.78 369.59,83.90 365.83,89.10" fill="#84f46c" stroke="#000" stroke-opacity="0.5" stroke-width="0.45"/>
<polygon points="323.30,94.22 327.22,88.03 321.85,83.75 317.91,89.84" fill="#88f477" stroke="#000" stroke-opacity="0.5" stroke-width="0.45"/>
<polygon points="437.81,78.86 441.21,75.01 435.49,74.08 432.07,77.84" fill="#d8f442" stroke="#000" stroke-opacity="0.5" stroke-width="0.45"/>
<polygon points="395.31,89.20 398.95,84.34 393.41,82.16 389.76,86.92" fill="#93f45d" stroke="#000" stroke-opacity="0.5" stroke-width="0.45"/>
<polygon points="338.02,96.10 341.90,90.08 336.51,86.23 332.61,92.15" fill="#81f47a" stroke="#000" stroke-opacity="0.5" stroke-width="0.45"/>
<polygon points="489.63,62.86 492.67,60.33 486.63,60.96 483.57,63.41" fill="#f89f0a" stroke="#000" stroke-opacity="0.5" stroke-width="0.45"/>
<polygon points="362.04,94.68 365.83,89.10 360.39,85.95 356.59,91.43" fill="#7ef473" stroke="#000" stroke-opacity="0.5" stroke-width="0.45"/>
<polygon points="428.61,81.96 432.07,77.84 426.39,76.64 422.91,80.67" fill="#c8f448" stroke="#000" stroke-opacity="0.5" stroke-width="0.45"/>
<polygon points="480.45,66.22 483.57,63.41 477.59,63.76 474.45,66.49" fill="#f9bf15" stroke="#000" stroke-opacity="0.5" stroke-width="0.45"/>
<polygon points="386.07,92.05 389.76,86.92 384.24,84.47 380.54,89.50" fill="#84f367" stroke="#000" stroke-opacity="0.5" stroke-width="0.45"/>
<polygon points="328.70,98.45 332.61,92.15 327.22,88.03 323.30,94.22" fill="#7ff57e" stroke="#000" stroke-opacity="0.5" stroke-width="0.45"/>
<polygon points="352.76,97.29 356.59,91.43 351.16,88.01 347.32,93.76" fill="#7cf47a" stroke="#000" stroke-opacity="0.5" stroke-width="0.45"/>
<polygon points="419.39,85.07 422.91,80.67 417.26,79.20 413.73,83.51" fill="#b2f54e" stroke="#000" stroke-opacity="0.5" stroke-width="0.45"/>
<polygon points="471.26,69.58 474.45,66.49 468.52,66.57 465.32,69.57" fill="#f7dc22" stroke="#000" stroke-opacity="0.5" stroke-width="0.45"/>
<polygon points="376.81,94.91 380.54,89.50 375.05,86.78 371.31,92.09" fill="#7bf370" stroke="#000" stroke-opacity="0.5" stroke-width="0.45"/>
<polygon points="462.06,72.95 465.32,69.57 459.44,69.37 456.16,72.66" fill="#f4f030" stroke="#000" stroke-opacity="0.5" stroke-width="0.45"/>
<polygon points="410.16,88.19 413.73,83.51 408.12,81.77 404.53,86.35" fill="#9df553" stroke="#000" stroke-opacity="0.5" stroke-width="0.45"/>
<polygon points="343.46,99.89 347.32,93.76 341.90,90.08 338.02,96.10" fill="#7af57f" stroke="#000" stroke-opacity="0.5" stroke-width="0.45"/>
<polygon points="367.53,97.78 371.31,92.09 365.83,89.10 362.04,94.68" fill="#79f478" stroke="#000" stroke-opacity="0.5" stroke-width="0.45"/>
<polygon points="452.84,76.32 456.16,72.66 450.34,72.19 447.00,75.76" fill="#ecf33b" stroke="#000" stroke-opacity="0.5" stroke-width="0.45"/>
<polygon points="400.91,91.31 404.53,86.35 398.95,84.34 395.31,89.20" fill="#8cf45f" stroke="#000" stroke-opacity="0.5" stroke-width="0.45"/>
<polygon points="334.13,102.51 338.02,96.10 332.61,92.15 328.70,98.45" fill="#78f685" stroke="#000" stroke-opacity="0.5" stroke-width="0.45"/>
<polygon points="443.61,79.70 447.00,75.76 441.21,75.01 437.81,78.86" fill="#dcf442" stroke="#000" stroke-opacity="0.5" stroke-width="0.45"/>
<polygon points="358.23,100.65 362.04,94.68 356.59,91.43 352.76,97.29" fill="#76f57e" stroke="#000" stroke-opacity="0.5" stroke-width="0.45"/>
<polygon points="391.64,94.44 395.31,89.20 389.76,86.92 386.07,92.05" fill="#7cf36b" stroke="#000" stroke-opacity="0.5" stroke-width="0.45"/>
<polygon points="434.36,83.08 437.81,78.86 432.07,77.84 428.61,81.96" fill="#ccf448" stroke="#000" stroke-opacity="0.5" stroke-width="0.45"/>
<polygon points="348.91,103.52 352.76,97.29 347.32,93.76 343.46,99.89" fill="#74f684" stroke="#000" stroke-opacity="0.5" stroke-width="0.45"/>
<polygon points="382.35,97.57 386.07,92.05 380.54,89.50 376.81,94.91" fill="#78f473" stroke="#000" stroke-opacity="0.5" stroke-width="0.45"/>
<polygon points="425.11,86.47 428.61,81.96 422.91,80.67 419.39,85.07" fill="#b3f54e" stroke="#000" stroke-opacity="0.5" stroke-width="0.45"/>
<polygon points="486.53,65.76 489.63,62.86 483.57,63.41 480.45,66.22" fill="#f8a60f" stroke="#000" stroke-opacity="0.5" stroke-width="0.45"/>
<polygon points="373.05,100.70 376.81,94.91 371.31,92.09 367.53,97.78" fill="#75f57b" stroke="#000" stroke-opacity="0.5" stroke-width="0.45"/>
<polygon points="415.83,89.86 419.39,85.07 413.73,83.51 410.16,88.19" fill="#9bf554" stroke="#000" stroke-opacity="0.5" stroke-width="0.45"/>
<polygon points="339.57,106.41 343.46,99.89 338.02,96.10 334.13,102.51" fill="#73f691" stroke="#000" stroke-opacity="0.5" stroke-width="0.45"/>
<polygon points="477.28,69.41 480.45,66.22 474.45,66.49 471.26,69.58" fill="#f9c91c" stroke="#000" stroke-opacity="0.5" stroke-width="0.45"/>
<polygon points="468.02,73.05 471.26,69.58 465.32,69.57 462.06,72.95" fill="#f7e72b" stroke="#000" stroke-opacity="0.5" stroke-width="0.45"/>
<polygon points="406.55,93.25 410.16,88.19 404.53,86.35 400.91,91.31" fill="#87f461" stroke="#000" stroke-opacity="0.5" stroke-width="0.45"/>
<polygon points="363.73,103.84 367.53,97.78 362.04,94.68 358.23,100.65" fill="#71f682" stroke="#000" stroke-opacity="0.5" stroke-width="0.45"/>
<polygon points="458.75,76.71 462.06,72.95 456.16,72.66 452.84,76.32" fill="#eff239" stroke="#000" stroke-opacity="0.5" stroke-width="0.45"/>
<polygon points="397.25,96.65 400.91,91.31 395.31,89.20 391.64,94.44" fill="#79f36d" stroke="#000" stroke-opacity="0.5" stroke-width="0.45"/>
<polygon points="354.40,106.99 358.23,100.65 352.76,97.29 348.91,103.52" fill="#71f591" stroke="#000" stroke-opacity="0.5" stroke-width="0.45"/>
<polygon points="449.47,80.36 452.84,76.32 447.00,75.76 443.61,79.70" fill="#e2f442" stroke="#000" stroke-opacity="0.5" stroke-width="0.45"/>
<polygon points="387.94,100.06 391.64,94.44 386.07,92.05 382.35,97.57" fill="#75f476" stroke="#000" stroke-opacity="0.5" stroke-width="0.45"/>
<polygon points="440.18,84.02 443.61,79.70 437.81,78.86 434.36,83.08" fill="#d0f448" stroke="#000" stroke-opacity="0.5" stroke-width="0.45"/>
<polygon points="345.05,110.14 348.91,103.52 343.46,99.89 339.57,106.41" fill="#71f4a1" stroke="#000" stroke-opacity="0.5" stroke-width="0.45"/>
<polygon points="378.61,103.46 382.35,97.57 376.81,94.91 373.05,100.70" fill="#71f57e" stroke="#000" stroke-opacity="0.5" stroke-width="0.45"/>
<polygon points="430.87,87.69 434.36,83.08 428.61,81.96 425.11,86.47" fill="#b6f54d" stroke="#000" stroke-opacity="0.5" stroke-width="0.45"/>
<polygon points="421.56,91.35 425.11,86.47 419.39,85.07 415.83,89.86" fill="#9bf554" stroke="#000" stroke-opacity="0.5" stroke-width="0.45"/>
<polygon points="369.27,106.88 373.05,100.70 367.53,97.78 363.73,103.84" fill="#6ff58c" stroke="#000" stroke-opacity="0.5" stroke-width="0.45"/>
<polygon points="412.24,95.03 415.83,89.86 410.16,88.19 406.55,93.25" fill="#85f362" stroke="#000" stroke-opacity="0.5" stroke-width="0.45"/>
<polygon points="359.91,110.30 363.73,103.84 358.23,100.65 354.40,106.99" fill="#70f49f" stroke="#000" stroke-opacity="0.5" stroke-width="0.45"/>
<polygon points="483.38,69.03 486.53,65.76 480.45,66.22 477.28,69.41" fill="#f9b216" stroke="#000" stroke-opacity="0.5" stroke-width="0.45"/>
<polygon points="402.90,98.70 406.55,93.25 400.91,91.31 397.25,96.65" fill="#77f36e" stroke="#000" stroke-opacity="0.5" stroke-width="0.45"/>
<polygon points="474.06,72.97 477.28,69.41 471.26,69.58 468.02,73.05" fill="#f8d625" stroke="#000" stroke-opacity="0.5" stroke-width="0.45"/>
<polygon points="350.54,113.72 354.40,106.99 348.91,103.52 345.05,110.14" fill="#6ff3b0" stroke="#000" stroke-opacity="0.5" stroke-width="0.45"/>
<polygon points="393.56,102.38 397.25,96.65 391.64,94.44 387.94,100.06" fill="#72f578" stroke="#000" stroke-opacity="0.5" stroke-width="0.45"/>
<polygon points="464.73,76.90 468.02,73.05 462.06,72.95 458.75,76.71" fill="#f4f135" stroke="#000" stroke-opacity="0.5" stroke-width="0.45"/>
<polygon points="455.39,80.84 458.75,76.71 452.84,76.32 449.47,80.36" fill="#eaf442" stroke="#000" stroke-opacity="0.5" stroke-width="0.45"/>
<polygon points="384.20,106.06 387.94,100.06 382.35,97.57 378.61,103.46" fill="#6ef681" stroke="#000" stroke-opacity="0.5" stroke-width="0.45"/>
<polygon points="446.05,84.78 449.47,80.36 443.61,79.70 440.18,84.02" fill="#d5f448" stroke="#000" stroke-opacity="0.5" stroke-width="0.45"/>
<polygon points="374.84,109.75 378.61,103.46 373.05,100.70 369.27,106.88" fill="#6ef596" stroke="#000" stroke-opacity="0.5" stroke-width="0.45"/>
<polygon points="436.70,88.73 440.18,84.02 434.36,83.08 430.87,87.69" fill="#bbf54d" stroke="#000" stroke-opacity="0.5" stroke-width="0.45"/>
<polygon points="365.46,113.44 369.27,106.88 363.73,103.84 359.91,110.30" fill="#6ef4aa" stroke="#000" stroke-opacity="0.5" stroke-width="0.45"/>
<polygon points="427.34,92.68 430.87,87.69 425.11,86.47 421.56,91.35" fill="#9df553" stroke="#000" stroke-opacity="0.5" stroke-width="0.45"/>
<polygon points="356.07,117.13 359.91,110.30 354.40,106.99 350.54,113.72" fill="#6df2bd" stroke="#000" stroke-opacity="0.5" stroke-width="0.45"/>
<polygon points="417.98,96.63 421.56,91.35 415.83,89.86 412.24,95.03" fill="#84f362" stroke="#000" stroke-opacity="0.5" stroke-width="0.45"/>
<polygon points="408.61,100.58 412.24,95.03 406.55,93.25 402.90,98.70" fill="#76f36f" stroke="#000" stroke-opacity="0.5" stroke-width="0.45"/>
<polygon points="399.23,104.53 402.90,98.70 397.25,96.65 393.56,102.38" fill="#70f579" stroke="#000" stroke-opacity="0.5" stroke-width="0.45"/>
<polygon points="389.84,108.49 393.56,102.38 387.94,100.06 384.20,106.06" fill="#6cf587" stroke="#000" stroke-opacity="0.5" stroke-width="0.45"/>
<polygon points="480.17,72.69 483.38,69.03 477.28,69.41 474.06,72.97" fill="#f9c11e" stroke="#000" stroke-opacity="0.5" stroke-width="0.45"/>
<polygon points="380.44,112.45 384.20,106.06 378.61,103.46 374.84,109.75" fill="#6df49e" stroke="#000" stroke-opacity="0.5" stroke-width="0.45"/>
<polygon points="470.78,76.91 474.06,72.97 468.02,73.05 464.73,76.90" fill="#f7e630" stroke="#000" stroke-opacity="0.5" stroke-width="0.45"/>
<polygon points="371.04,116.41 374.84,109.75 369.27,106.88 365.46,113.44" fill="#6df3b5" stroke="#000" stroke-opacity="0.5" stroke-width="0.45"/>
<polygon points="461.39,81.14 464.73,76.90 458.75,76.71 455.39,80.84" fill="#eef33f" stroke="#000" stroke-opacity="0.5" stroke-width="0.45"/>
<polygon points="451.99,85.36 455.39,80.84 449.47,80.36 446.05,84.78" fill="#dcf447" stroke="#000" stroke-opacity="0.5" stroke-width="0.45"/>
<polygon points="361.63,120.38 365.46,113.44 359.91,110.30 356.07,117.13" fill="#6bf2ca" stroke="#000" stroke-opacity="0.5" stroke-width="0.45"/>
<polygon points="442.59,89.59 446.05,84.78 440.18,84.02 436.70,88.73" fill="#c2f54d" stroke="#000" stroke-opacity="0.5" stroke-width="0.45"/>
<polygon points="433.18,93.82 436.70,88.73 430.87,87.69 427.34,92.68" fill="#a1f552" stroke="#000" stroke-opacity="0.5" stroke-width="0.45"/>
<polygon points="423.77,98.05 427.34,92.68 421.56,91.35 417.98,96.63" fill="#84f362" stroke="#000" stroke-opacity="0.5" stroke-width="0.45"/>
<polygon points="414.36,102.28 417.98,96.63 412.24,95.03 408.61,100.58" fill="#75f46f" stroke="#000" stroke-opacity="0.5" stroke-width="0.45"/>
<polygon points="404.94,106.52 408.61,100.58 402.90,98.70 399.23,104.53" fill="#6ff57a" stroke="#000" stroke-opacity="0.5" stroke-width="0.45"/>
<polygon points="395.52,110.75 399.23,104.53 393.56,102.38 389.84,108.49" fill="#6cf58c" stroke="#000" stroke-opacity="0.5" stroke-width="0.45"/>
<polygon points="386.09,114.99 389.84,108.49 384.20,106.06 380.44,112.45" fill="#6cf4a6" stroke="#000" stroke-opacity="0.5" stroke-width="0.45"/>
<polygon points="376.66,119.23 380.44,112.45 374.84,109.75 371.04,116.41" fill="#6bf2be" stroke="#000" stroke-opacity="0.5" stroke-width="0.45"/>
<polygon points="367.22,123.47 371.04,116.41 365.46,113.44 361.63,120.38" fill="#6bf1d6" stroke="#000" stroke-opacity="0.5" stroke-width="0.45"/>
<polygon points="476.90,76.73 480.17,72.69 474.06,72.97 470.78,76.91" fill="#f8d429" stroke="#000" stroke-opacity="0.5" stroke-width="0.45"/>
<polygon points="467.45,81.24 470.78,76.91 464.73,76.90 461.39,81.14" fill="#f3f13b" stroke="#000" stroke-opacity="0.5" stroke-width="0.45"/>
<polygon points="458.00,85.75 461.39,81.14 455.39,80.84 451.99,85.36" fill="#e4f447" stroke="#000" stroke-opacity="0.5" stroke-width="0.45"/>
<polygon points="448.54,90.27 451.99,85.36 446.05,84.78 442.59,89.59" fill="#ccf54d" stroke="#000" stroke-opacity="0.5" stroke-width="0.45"/>
<polygon points="439.08,94.78 442.59,89.59 436.70,88.73 433.18,93.82" fill="#a7f552" stroke="#000" stroke-opacity="0.5" stroke-width="0.45"/>
<polygon points="429.62,99.30 433.18,93.82 427.34,92.68 423.77,98.05" fill="#87f460" stroke="#000" stroke-opacity="0.5" stroke-width="0.45"/>
<polygon points="420.17,103.81 423.77,98.05 417.98,96.63 414.36,102.28" fill="#75f36f" stroke="#000" stroke-opacity="0.5" stroke-width="0.45"/>
<polygon points="410.71,108.33 414.36,102.28 408.61,100.58 404.94,106.52" fill="#6ef57a" stroke="#000" stroke-opacity="0.5" stroke-width="0.45"/>
<polygon points="401.24,112.84 404.94,106.52 399.23,104.53 395.52,110.75" fill="#6bf590" stroke="#000" stroke-opacity="0.5" stroke-width="0.45"/>
<polygon points="391.78,117.36 395.52,110.75 389.84,108.49 386.09,114.99" fill="#6bf3ab" stroke="#000" stroke-opacity="0.5" stroke-width="0.45"/>
<polygon points="382.32,121.88 386.09,114.99 380.44,112.45 376.66,119.23" fill="#6af2c5" stroke="#000" stroke-opacity="0.5" stroke-width="0.45"/>
<polygon points="372.85,126.39 376.66,119.23 371.04,116.41 367.22,123.47" fill="#6bf0e0" stroke="#000" stroke-opacity="0.5" stroke-width="0.45"/>
<polygon points="473.59,81.15 476.90,76.73 470.78,76.91 467.45,81.24" fill="#f7e836" stroke="#000" stroke-opacity="0.5" stroke-width="0.45"/>
<polygon points="464.07,85.96 467.45,81.24 461.39,81.14 458.00,85.75" fill="#edf446" stroke="#000" stroke-opacity="0.5" stroke-width="0.45"/>
<polygon points="454.56,90.76 458.00,85.75 451.99,85.36 448.54,90.27" fill="#d4f44c" stroke="#000" stroke-opacity="0.5" stroke-width="0.45"/>
<polygon points="445.05,95.57 448.54,90.27 442.59,89.59 439.08,94.78" fill="#b0f551" stroke="#000" stroke-opacity="0.5" stroke-width="0.45"/>
<polygon points="435.54,100.37 439.08,94.78 433.18,93.82 429.62,99.30" fill="#8cf45e" stroke="#000" stroke-opacity="0.5" stroke-width="0.45"/>
<polygon points="426.03,105.17 429.62,99.30 423.77,98.05 420.17,103.81" fill="#75f36e" stroke="#000" stroke-opacity="0.5" stroke-width="0.45"/>
<polygon points="416.52,109.97 420.17,103.81 414.36,102.28 410.71,108.33" fill="#6df57a" stroke="#000" stroke-opacity="0.5" stroke-width="0.45"/>
<polygon points="407.02,114.77 410.71,108.33 404.94,106.52 401.24,112.84" fill="#6af592" stroke="#000" stroke-opacity="0.5" stroke-width="0.45"/>
<polygon points="397.52,119.56 401.24,112.84 395.52,110.75 391.78,117.36" fill="#6af3af" stroke="#000" stroke-opacity="0.5" stroke-width="0.45"/>
<polygon points="388.02,124.36 391.78,117.36 386.09,114.99 382.32,121.88" fill="#6af1cc" stroke="#000" stroke-opacity="0.5" stroke-width="0.45"/>
<polygon points="378.52,129.15 382.32,121.88 376.66,119.23 372.85,126.39" fill="#6bf0e9" stroke="#000" stroke-opacity="0.5" stroke-width="0.45"/>
<polygon points="384.23,131.74 388.02,124.36 382.32,121.88 378.52,129.15" fill="#6bf0f0" stroke="#000" stroke-opacity="0.5" stroke-width="0.45"/>
<polygon points="393.76,126.67 397.52,119.56 391.78,117.36 388.02,124.36" fill="#6af1d1" stroke="#000" stroke-opacity="0.5" stroke-width="0.45"/>
<polygon points="403.30,121.59 407.02,114.77 401.24,112.84 397.52,119.56" fill="#69f3b2" stroke="#000" stroke-opacity="0.5" stroke-width="0.45"/>
<polygon points="412.84,116.52 416.52,109.97 410.71,108.33 407.02,114.77" fill="#6af493" stroke="#000" stroke-opacity="0.5" stroke-width="0.45"/>
<polygon points="422.39,111.43 426.03,105.17 420.17,103.81 416.52,109.97" fill="#6ef57a" stroke="#000" stroke-opacity="0.5" stroke-width="0.45"/>
<polygon points="431.95,106.35 435.54,100.37 429.62,99.30 426.03,105.17" fill="#76f36c" stroke="#000" stroke-opacity="0.5" stroke-width="0.45"/>
<polygon points="441.51,101.26 445.05,95.57 439.08,94.78 435.54,100.37" fill="#92f45b" stroke="#000" stroke-opacity="0.5" stroke-width="0.45"/>
<polygon points="451.08,96.17 454.56,90.76 448.54,90.27 445.05,95.57" fill="#bbf551" stroke="#000" stroke-opacity="0.5" stroke-width="0.45"/>
<polygon points="460.65,91.07 464.07,85.96 458.00,85.75 454.56,90.76" fill="#ddf44c" stroke="#000" stroke-opacity="0.5" stroke-width="0.45"/>
<polygon points="470.22,85.97 473.59,81.15 467.45,81.24 464.07,85.96" fill="#f2f242" stroke="#000" stroke-opacity="0.5" stroke-width="0.45"/>
<polygon points="389.98,134.17 393.76,126.67 388.02,124.36 384.23,131.74" fill="#6beff6" stroke="#000" stroke-opacity="0.5" stroke-width="0.45"/>
<polygon points="399.55,128.82 403.30,121.59 397.52,119.56 393.76,126.67" fill="#69f1d4" stroke="#000" stroke-opacity="0.5" stroke-width="0.45"/>
<polygon points="409.13,123.46 412.84,116.52 407.02,114.77 403.30,121.59" fill="#69f3b3" stroke="#000" stroke-opacity="0.5" stroke-width="0.45"/>
<polygon points="418.72,118.09 422.39,111.43 416.52,109.97 412.84,116.52" fill="#6af592" stroke="#000" stroke-opacity="0.5" stroke-width="0.45"/>
<polygon points="428.32,112.72 431.95,106.35 426.03,105.17 422.39,111.43" fill="#6ef578" stroke="#000" stroke-opacity="0.5" stroke-width="0.45"/>
<polygon points="437.93,107.35 441.51,101.26 435.54,100.37 431.95,106.35" fill="#78f36b" stroke="#000" stroke-opacity="0.5" stroke-width="0.45"/>
<polygon points="447.55,101.96 451.08,96.17 445.05,95.57 441.51,101.26" fill="#9bf557" stroke="#000" stroke-opacity="0.5" stroke-width="0.45"/>
<polygon points="457.17,96.58 460.65,91.07 454.56,90.76 451.08,96.17" fill="#c8f550" stroke="#000" stroke-opacity="0.5" stroke-width="0.45"/>
<polygon points="466.81,91.19 470.22,85.97 464.07,85.96 460.65,91.07" fill="#e7f44b" stroke="#000" stroke-opacity="0.5" stroke-width="0.45"/>
<polygon points="395.78,136.43 399.55,128.82 393.76,126.67 389.98,134.17" fill="#6cecf7" stroke="#000" stroke-opacity="0.5" stroke-width="0.45"/>
<polygon points="405.39,130.79 409.13,123.46 403.30,121.59 399.55,128.82" fill="#69f1d6" stroke="#000" stroke-opacity="0.5" stroke-width="0.45"/>
<polygon points="415.02,125.14 418.72,118.09 412.84,116.52 409.13,123.46" fill="#68f3b3" stroke="#000" stroke-opacity="0.5" stroke-width="0.45"/>
<polygon points="424.66,119.49 428.32,112.72 422.39,111.43 418.72,118.09" fill="#6af58f" stroke="#000" stroke-opacity="0.5" stroke-width="0.45"/>
<polygon points="434.31,113.83 437.93,107.35 431.95,106.35 428.32,112.72" fill="#70f577" stroke="#000" stroke-opacity="0.5" stroke-width="0.45"/>
<polygon points="443.98,108.16 447.55,101.96 441.51,101.26 437.93,107.35" fill="#7df368" stroke="#000" stroke-opacity="0.5" stroke-width="0.45"/>
<polygon points="453.66,102.48 457.17,96.58 451.08,96.17 447.55,101.96" fill="#a6f555" stroke="#000" stroke-opacity="0.5" stroke-width="0.45"/>
<polygon points="463.35,96.80 466.81,91.19 460.65,91.07 457.17,96.58" fill="#d4f550" stroke="#000" stroke-opacity="0.5" stroke-width="0.45"/>
<polygon points="401.62,138.52 405.39,130.79 399.55,128.82 395.78,136.43" fill="#6deaf8" stroke="#000" stroke-opacity="0.5" stroke-width="0.45"/>
<polygon points="411.29,132.59 415.02,125.14 409.13,123.46 405.39,130.79" fill="#69f1d7" stroke="#000" stroke-opacity="0.5" stroke-width="0.45"/>
<polygon points="420.97,126.66 424.66,119.49 418.72,118.09 415.02,125.14" fill="#68f3b1" stroke="#000" stroke-opacity="0.5" stroke-width="0.45"/>
<polygon points="430.66,120.71 434.31,113.83 428.32,112.72 424.66,119.49" fill="#6af58b" stroke="#000" stroke-opacity="0.5" stroke-width="0.45"/>
<polygon points="440.37,114.76 443.98,108.16 437.93,107.35 434.31,113.83" fill="#71f474" stroke="#000" stroke-opacity="0.5" stroke-width="0.45"/>
<polygon points="450.10,108.79 453.66,102.48 447.55,101.96 443.98,108.16" fill="#86f363" stroke="#000" stroke-opacity="0.5" stroke-width="0.45"/>
<polygon points="459.84,102.82 463.35,96.80 457.17,96.58 453.66,102.48" fill="#b4f554" stroke="#000" stroke-opacity="0.5" stroke-width="0.45"/>
<polygon points="407.52,140.44 411.29,132.59 405.39,130.79 401.62,138.52" fill="#6de9f8" stroke="#000" stroke-opacity="0.5" stroke-width="0.45"/>
<polygon points="417.24,134.22 420.97,126.66 415.02,125.14 411.29,132.59" fill="#68f1d6" stroke="#000" stroke-opacity="0.5" stroke-width="0.45"/>
<polygon points="426.97,128.00 430.66,120.71 424.66,119.49 420.97,126.66" fill="#68f3ae" stroke="#000" stroke-opacity="0.5" stroke-width="0.45"/>
<polygon points="436.72,121.75 440.37,114.76 434.31,113.83 430.66,120.71" fill="#6af586" stroke="#000" stroke-opacity="0.5" stroke-width="0.45"/>
<polygon points="446.49,115.50 450.10,108.79 443.98,108.16 440.37,114.76" fill="#74f472" stroke="#000" stroke-opacity="0.5" stroke-width="0.45"/>
<polygon points="456.29,109.24 459.84,102.82 453.66,102.48 450.10,108.79" fill="#91f45e" stroke="#000" stroke-opacity="0.5" stroke-width="0.45"/>
<polygon points="413.48,142.18 417.24,134.22 411.29,132.59 407.52,140.44" fill="#6de9f8" stroke="#000" stroke-opacity="0.5" stroke-width="0.45"/>
<polygon points="423.25,135.68 426.97,128.00 420.97,126.66 417.24,134.22" fill="#68f1d3" stroke="#000" stroke-opacity="0.5" stroke-width="0.45"/>
<polygon points="433.04,129.15 436.72,121.75 430.66,120.71 426.97,128.00" fill="#68f3a9" stroke="#000" stroke-opacity="0.5" stroke-width="0.45"/>
<polygon points="442.85,122.61 446.49,115.50 440.37,114.76 436.72,121.75" fill="#6af67f" stroke="#000" stroke-opacity="0.5" stroke-width="0.45"/>
<polygon points="452.69,116.06 456.29,109.24 450.10,108.79 446.49,115.50" fill="#77f36e" stroke="#000" stroke-opacity="0.5" stroke-width="0.45"/>
<polygon points="419.49,143.76 423.25,135.68 417.24,134.22 413.48,142.18" fill="#6cebf8" stroke="#000" stroke-opacity="0.5" stroke-width="0.45"/>
<polygon points="429.32,136.95 433.04,129.15 426.97,128.00 423.25,135.68" fill="#67f1cf" stroke="#000" stroke-opacity="0.5" stroke-width="0.45"/>
<polygon points="439.17,130.13 442.85,122.61 436.72,121.75 433.04,129.15" fill="#68f3a3" stroke="#000" stroke-opacity="0.5" stroke-width="0.45"/>
<polygon points="449.05,123.29 452.69,116.06 446.49,115.50 442.85,122.61" fill="#6df57b" stroke="#000" stroke-opacity="0.5" stroke-width="0.45"/>
<polygon points="425.57,145.15 429.32,136.95 423.25,135.68 419.49,143.76" fill="#6aeef7" stroke="#000" stroke-opacity="0.5" stroke-width="0.45"/>
<polygon points="435.46,138.05 439.17,130.13 433.04,129.15 429.32,136.95" fill="#66f1c9" stroke="#000" stroke-opacity="0.5" stroke-width="0.45"/>
<polygon points="445.38,130.92 449.05,123.29 442.85,122.61 439.17,130.13" fill="#69f49b" stroke="#000" stroke-opacity="0.5" stroke-width="0.45"/>
<polygon points="431.71,146.37 435.46,138.05 429.32,136.95 425.57,145.15" fill="#69eff3" stroke="#000" stroke-opacity="0.5" stroke-width="0.45"/>
<polygon points="441.67,138.96 445.38,130.92 439.17,130.13 435.46,138.05" fill="#66f1c1" stroke="#000" stroke-opacity="0.5" stroke-width="0.45"/>
<polygon points="437.92,147.41 441.67,138.96 435.46,138.05 431.71,146.37" fill="#68f0ec" stroke="#000" stroke-opacity="0.5" stroke-width="0.45"/>
<circle cx="312.20" cy="82.80" r="2.05" fill="#c80808" stroke="#8a0000" stroke-width="0.5"/>
<circle cx="393.40" cy="35.60" r="2.05" fill="#c80808" stroke="#8a0000" stroke-width="0.5"/>
<circle cx="510.00" cy="52.90" r="2.1" fill="#f6cccc" stroke="#d89a9a" stroke-width="0.5"/>
<circle cx="437.40" cy="151.10" r="2.1" fill="#f6cccc" stroke="#d89a9a" stroke-width="0.5"/>
<circle cx="413.30" cy="66.50" r="2.05" fill="#c80808" stroke="#8a0000" stroke-width="0.5"/></g>
<g><text x="22.55" y="48.60" font-size="7.70" textLength="7.70" lengthAdjust="spacingAndGlyphs">98</text>
<text x="23.55" y="66.00" font-size="7.70" textLength="7.70" lengthAdjust="spacingAndGlyphs">96</text>
<text x="24.75" y="85.50" font-size="7.70" textLength="7.70" lengthAdjust="spacingAndGlyphs">94</text>
<text x="25.85" y="104.20" font-size="7.70" textLength="7.70" lengthAdjust="spacingAndGlyphs">92</text>
<text x="27.35" y="122.50" font-size="7.70" textLength="7.70" lengthAdjust="spacingAndGlyphs">90</text>
<text x="28.55" y="140.80" font-size="7.70" textLength="7.70" lengthAdjust="spacingAndGlyphs">88</text>
<text x="23.35" y="179.10" font-size="7.70" textLength="14.90" lengthAdjust="spacingAndGlyphs">1000</text>
<text x="54.45" y="189.70" font-size="7.70" textLength="11.50" lengthAdjust="spacingAndGlyphs">950</text>
<text x="82.55" y="199.80" font-size="7.70" textLength="11.70" lengthAdjust="spacingAndGlyphs">900</text>
<text x="110.75" y="210.30" font-size="7.70" textLength="11.50" lengthAdjust="spacingAndGlyphs">850</text>
<text x="138.65" y="220.30" font-size="7.70" textLength="11.70" lengthAdjust="spacingAndGlyphs">800</text>
<text x="157.15" y="220.30" font-size="7.70" textLength="10.00" lengthAdjust="spacingAndGlyphs">0.5</text>
<text x="172.45" y="204.80" font-size="7.70" textLength="14.30" lengthAdjust="spacingAndGlyphs">0.55</text>
<text x="188.75" y="189.70" font-size="7.70" textLength="9.30" lengthAdjust="spacingAndGlyphs">0.6</text>
<text x="204.55" y="174.60" font-size="7.70" textLength="14.10" lengthAdjust="spacingAndGlyphs">0.65</text>
<text x="220.35" y="158.80" font-size="7.70" textLength="10.10" lengthAdjust="spacingAndGlyphs">0.7</text>
<text x="24.75" y="218.00" font-size="7.60" textLength="89.90" lengthAdjust="spacingAndGlyphs">C: Plate insertion height (mm)</text>
<text x="188.35" y="198.90" font-size="7.60" textLength="70.90" lengthAdjust="spacingAndGlyphs">A: Forward speed (m/s)</text>
<text transform="translate(7.2,156.7) rotate(-90)" font-size="7.3" textLength="87.5" lengthAdjust="spacingAndGlyphs">Disk pick-up success rate (%)</text>
<text style="fill:#1a1a1a" x="95.9" y="244.5" font-size="9.7" textLength="63.8" lengthAdjust="spacingAndGlyphs"><tspan font-weight="bold">(a)</tspan> <tspan font-style="italic">C</tspan> = 900 mm</text>
<text x="298.75" y="42.20" font-size="7.70" textLength="7.90" lengthAdjust="spacingAndGlyphs">98</text>
<text x="300.05" y="62.60" font-size="7.70" textLength="7.90" lengthAdjust="spacingAndGlyphs">96</text>
<text x="301.45" y="82.00" font-size="7.70" textLength="7.90" lengthAdjust="spacingAndGlyphs">94</text>
<text x="302.75" y="101.50" font-size="7.70" textLength="7.90" lengthAdjust="spacingAndGlyphs">92</text>
<text x="303.75" y="121.40" font-size="7.70" textLength="7.90" lengthAdjust="spacingAndGlyphs">90</text>
<text x="304.75" y="140.70" font-size="7.70" textLength="7.90" lengthAdjust="spacingAndGlyphs">88</text>
<text x="304.35" y="180.70" font-size="7.70" textLength="9.80" lengthAdjust="spacingAndGlyphs">0.5</text>
<text x="329.25" y="191.90" font-size="7.70" textLength="14.70" lengthAdjust="spacingAndGlyphs">0.45</text>
<text x="363.45" y="202.80" font-size="7.70" textLength="10.00" lengthAdjust="spacingAndGlyphs">0.4</text>
<text x="388.95" y="213.40" font-size="7.70" textLength="14.80" lengthAdjust="spacingAndGlyphs">0.35</text>
<text x="422.75" y="224.00" font-size="7.70" textLength="9.70" lengthAdjust="spacingAndGlyphs">0.3</text>
<text x="440.55" y="224.00" font-size="7.70" textLength="9.40" lengthAdjust="spacingAndGlyphs">0.5</text>
<text x="456.75" y="208.10" font-size="7.70" textLength="14.90" lengthAdjust="spacingAndGlyphs">0.55</text>
<text x="473.75" y="191.10" font-size="7.70" textLength="10.10" lengthAdjust="spacingAndGlyphs">0.6</text>
<text x="491.25" y="175.90" font-size="7.70" textLength="13.50" lengthAdjust="spacingAndGlyphs">0.65</text>
<text x="507.65" y="159.10" font-size="7.70" textLength="9.90" lengthAdjust="spacingAndGlyphs">0.7</text>
<text x="295.25" y="222.00" font-size="7.70" textLength="106.30" lengthAdjust="spacingAndGlyphs">B: Pickup disk device speed (m/s)</text>
<text x="473.55" y="200.70" font-size="7.90" textLength="75.20" lengthAdjust="spacingAndGlyphs">A: Forward speed (m/s)</text>
<text transform="translate(281.9,156.5) rotate(-90)" font-size="7.5" textLength="91.3" lengthAdjust="spacingAndGlyphs">Disk pick-up success rate (%)</text>
<text style="fill:#1a1a1a" x="381.3" y="244.5" font-size="9.7" textLength="61" lengthAdjust="spacingAndGlyphs"><tspan font-weight="bold">(b)</tspan> <tspan font-style="italic">B</tspan> = 0.4 m/s</text></g>
</svg>
</body></html>
